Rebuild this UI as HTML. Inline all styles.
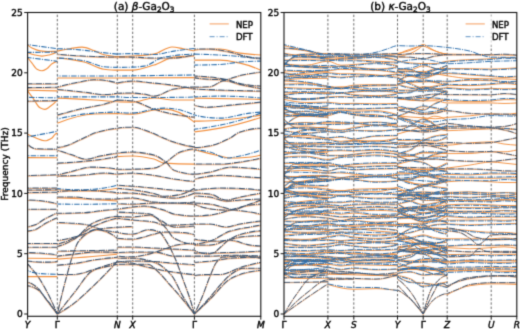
<!DOCTYPE html>
<html><head><meta charset="utf-8"><style>
html,body{margin:0;padding:0;background:#fff;}
svg{display:block;font-family:"DejaVu Sans","Liberation Sans",sans-serif;}
text{stroke:#000;stroke-width:0.4px;}
</style></head><body>
<svg width="520" height="329" viewBox="0 0 520 329">
<rect width="520" height="329" fill="#fff"/>
<defs><filter id="bl" x="0" y="0" width="520" height="329" filterUnits="userSpaceOnUse" color-interpolation-filters="sRGB"><feConvolveMatrix order="3" kernelMatrix="0.02250 0.10500 0.02250 0.10500 0.49000 0.10500 0.02250 0.10500 0.02250" divisor="1" edgeMode="duplicate"/></filter></defs>
<g filter="url(#bl)">
<rect width="520" height="329" fill="#fff"/>
<g>
<clipPath id="cleft"><rect x="27.6" y="12.5" width="233.20000000000002" height="303.8"/></clipPath>
<line x1="57.3" y1="12.5" x2="57.3" y2="316.3" stroke="#5a5a5a" stroke-width="0.9" stroke-dasharray="2.4,1.83" stroke-dashoffset="2.03"/>
<line x1="117.3" y1="12.5" x2="117.3" y2="316.3" stroke="#5a5a5a" stroke-width="0.9" stroke-dasharray="2.4,1.83" stroke-dashoffset="2.03"/>
<line x1="132.7" y1="12.5" x2="132.7" y2="316.3" stroke="#5a5a5a" stroke-width="0.9" stroke-dasharray="2.4,1.83" stroke-dashoffset="2.03"/>
<line x1="194.4" y1="12.5" x2="194.4" y2="316.3" stroke="#5a5a5a" stroke-width="0.9" stroke-dasharray="2.4,1.83" stroke-dashoffset="2.03"/>
<g clip-path="url(#cleft)"><path d="M27.60,44.82C29.07,46.11 30.53,47.36 32.00,48.08C34.67,49.38 37.33,50.52 40.00,50.85C42.67,51.18 45.33,51.45 48.00,51.45C51.10,51.45 54.20,51.40 57.30,51.09M27.60,52.42C29.73,53.35 31.87,54.19 34.00,54.71C36.67,55.36 39.33,56.16 42.00,56.16C44.67,56.16 47.33,55.36 50.00,54.71C52.43,54.12 54.87,53.15 57.30,52.06M27.60,57.48C29.07,59.43 30.53,61.32 32.00,63.15C33.67,65.23 35.33,68.35 37.00,69.18C38.67,70.01 40.33,70.75 42.00,70.75C43.67,70.75 45.33,69.58 47.00,68.58C48.67,67.58 50.33,64.79 52.00,63.75C53.77,62.66 55.53,61.68 57.30,61.34M27.60,90.29L57.30,90.89M27.60,90.89C29.40,93.27 31.20,95.68 33.00,98.13C35.33,101.29 37.67,106.62 40.00,107.77C41.67,108.60 43.33,109.34 45.00,109.34C46.67,109.34 48.33,107.69 50.00,106.57C52.43,104.93 54.87,102.71 57.30,100.06M27.60,134.31C30.40,135.65 33.20,136.88 36.00,137.92C38.93,139.02 41.87,140.82 44.80,140.82C47.20,140.82 49.60,139.43 52.00,137.92C53.17,137.19 54.33,134.69 55.50,133.94C56.10,133.56 56.70,133.25 57.30,133.10M27.60,157.58L57.30,157.82M27.60,258.28L57.30,258.52M27.60,276.61L57.30,276.61M57.30,51.09C61.53,50.16 65.77,49.33 70.00,48.68C74.00,48.06 78.00,47.11 82.00,47.11C86.00,47.11 90.00,49.13 94.00,50.49C97.33,51.62 100.67,54.01 104.00,54.71C108.43,55.64 112.87,56.52 117.30,56.52M57.30,58.09C66.20,58.27 75.10,60.07 84.00,61.95C90.67,63.35 97.33,68.41 104.00,69.18C108.43,69.69 112.87,70.15 117.30,70.15M57.30,77.99L117.30,77.99M57.30,98.13C69.53,98.62 81.77,99.30 94.00,100.06C101.77,100.53 109.53,101.12 117.30,101.74M57.30,123.21C69.53,118.48 81.77,114.59 94.00,114.05C101.77,113.70 109.53,113.44 117.30,113.44M57.30,189.78C69.53,190.99 81.77,190.99 94.00,190.99C101.77,190.99 109.53,189.60 117.30,188.21M57.30,197.62C66.20,197.94 75.10,198.36 84.00,198.83C95.10,199.42 106.20,200.15 117.30,201.00M57.30,259.13C66.53,258.49 75.77,257.81 85.00,257.08C95.77,256.22 106.53,255.30 117.30,254.30M117.30,56.52C122.43,56.49 127.57,56.27 132.70,56.04C139.80,55.71 146.90,55.17 154.00,54.11C160.00,53.21 166.00,46.99 172.00,46.99C175.67,46.99 179.33,48.03 183.00,48.68C186.80,49.36 190.60,50.18 194.40,51.09M117.30,70.15C122.43,70.15 127.57,70.15 132.70,70.15C139.80,70.15 146.90,67.20 154.00,65.08C160.67,63.09 167.33,57.75 174.00,57.12C180.80,56.48 187.60,56.04 194.40,56.04M117.30,77.99L194.40,77.62M117.30,101.74C122.43,102.11 127.57,102.11 132.70,102.11C139.80,102.11 146.90,98.01 154.00,98.01C160.67,98.01 167.33,100.06 174.00,100.06C180.80,100.06 187.60,100.06 194.40,100.06M117.30,113.44C122.43,114.17 127.57,114.17 132.70,114.17C139.80,114.17 146.90,110.94 154.00,110.07C157.33,109.65 160.67,109.10 164.00,109.10C174.13,109.10 184.27,113.78 194.40,122.13M117.30,156.62C122.43,156.03 127.57,156.01 132.70,156.01C139.80,156.01 146.90,157.44 154.00,159.03C157.33,159.77 160.67,162.90 164.00,163.13C174.13,163.83 184.27,164.09 194.40,164.09M194.40,50.13C202.93,49.04 211.47,49.04 220.00,49.04C226.67,49.04 233.33,52.29 240.00,53.14C246.93,54.03 253.87,54.83 260.80,55.07M194.40,60.14C202.93,60.14 211.47,60.14 220.00,60.14C226.67,60.14 233.33,61.77 240.00,63.15C246.93,64.59 253.87,67.16 260.80,70.15M194.40,98.13L260.80,99.33M194.40,121.16C202.93,121.12 211.47,120.67 220.00,120.20C233.60,119.44 247.20,117.54 260.80,115.13M194.40,131.89C202.93,131.03 211.47,129.72 220.00,128.16C233.60,125.66 247.20,121.98 260.80,117.42M194.40,149.62C202.93,152.03 211.47,154.12 220.00,156.01C223.33,156.75 226.67,158.06 230.00,158.06C240.27,158.06 250.53,158.06 260.80,155.05" fill="none" stroke="#f28f3e" stroke-width="1.1"/>
<path d="M27.60,84.25L57.30,84.25M27.60,88.23L57.30,87.87M27.60,101.62L57.30,101.14M27.60,144.55C28.73,145.80 29.87,146.97 31.00,147.57C32.67,148.45 34.33,149.31 36.00,149.38C43.10,149.66 50.20,149.74 57.30,149.74M27.60,176.15L57.30,175.31M27.60,188.57L57.30,188.57M27.60,190.62L57.30,190.38M27.60,193.16L57.30,192.79M27.60,200.51C33.40,200.51 39.20,201.18 45.00,201.84C49.10,202.31 53.20,203.31 57.30,204.37M27.60,209.80L57.30,209.80M27.60,227.16C30.07,226.94 32.53,226.20 35.00,225.36C38.33,224.22 41.67,221.14 45.00,219.33C49.10,217.10 53.20,215.05 57.30,213.30M27.60,231.63C30.07,231.57 32.53,230.89 35.00,230.18C38.33,229.22 41.67,225.92 45.00,224.15C49.10,221.97 53.20,219.99 57.30,218.36M27.60,244.05L57.30,244.05M27.60,247.79L57.30,247.79M27.60,253.21C31.73,253.26 35.87,253.47 40.00,253.70C45.77,254.02 51.53,254.68 57.30,255.51M27.60,261.54C33.40,262.34 39.20,262.74 45.00,262.74C49.10,262.74 53.20,262.54 57.30,262.14M27.60,264.55C28.90,265.87 30.20,267.27 31.50,268.77C33.43,271.00 35.37,273.19 37.30,276.01C43.97,285.73 50.63,298.21 57.30,314.60M27.60,282.64C30.83,283.06 34.07,285.48 37.30,288.07C39.87,290.12 42.43,294.91 45.00,298.32C49.10,303.76 53.20,309.19 57.30,314.60M27.60,286.26C30.83,286.35 34.07,288.09 37.30,289.88C41.07,291.96 44.83,297.85 48.60,302.54C51.50,306.15 54.40,310.24 57.30,314.60M57.30,54.71C69.53,55.85 81.77,56.75 94.00,57.12C101.77,57.35 109.53,57.58 117.30,57.60M57.30,87.63C64.87,85.56 72.43,83.82 80.00,82.44C84.67,81.60 89.33,80.27 94.00,80.27C101.77,80.27 109.53,81.07 117.30,83.65M57.30,90.04C66.20,90.82 75.10,91.72 84.00,92.70C90.67,93.43 97.33,95.11 104.00,95.11C108.43,95.11 112.87,94.68 117.30,93.90M57.30,115.61C66.20,113.02 75.10,110.72 84.00,108.74C90.67,107.25 97.33,106.39 104.00,104.76C108.43,103.67 112.87,102.22 117.30,100.66M57.30,148.17C60.20,147.82 63.10,147.15 66.00,146.36C70.67,145.09 75.33,142.35 80.00,140.33C86.00,137.74 92.00,134.07 98.00,132.49C104.43,130.80 110.87,129.26 117.30,128.88M57.30,150.58C62.20,152.24 67.10,153.85 72.00,155.41C76.67,156.90 81.33,159.75 86.00,159.75C90.67,159.75 95.33,157.53 100.00,156.61C105.77,155.48 111.53,154.45 117.30,153.60M57.30,163.73C66.87,163.37 76.43,162.59 86.00,161.68C96.43,160.69 106.87,159.09 117.30,157.22M57.30,175.55C63.20,173.97 69.10,172.49 75.00,171.09C80.00,169.90 85.00,167.71 90.00,167.71C99.10,167.71 108.20,167.71 117.30,169.88M57.30,176.51C64.87,176.51 72.43,176.22 80.00,175.91C88.00,175.58 96.00,173.62 104.00,173.62C108.43,173.62 112.87,174.06 117.30,174.70M57.30,192.19C66.20,191.32 75.10,190.98 84.00,190.98C95.10,190.98 106.20,191.87 117.30,193.40M57.30,197.62C62.87,197.62 68.43,197.62 74.00,197.62C80.67,197.62 87.33,199.67 94.00,199.67C101.77,199.67 109.53,199.67 117.30,199.67M57.30,213.90C66.20,213.90 75.10,213.65 84.00,213.30C90.67,213.03 97.33,211.57 104.00,210.88C108.43,210.43 112.87,210.03 117.30,209.68M57.30,223.19C66.20,223.19 75.10,223.85 84.00,224.75C90.67,225.43 97.33,229.51 104.00,230.78C108.43,231.63 112.87,232.35 117.30,232.71M57.30,247.06C62.87,245.69 68.43,242.99 74.00,239.83C80.67,236.05 87.33,225.62 94.00,222.94C101.77,219.83 109.53,216.91 117.30,216.91M57.30,244.65C62.87,243.40 68.43,241.31 74.00,238.86C80.67,235.93 87.33,229.48 94.00,226.56C101.77,223.16 109.53,220.17 117.30,218.72M57.30,241.03C64.87,240.16 72.43,238.30 80.00,236.21C85.33,234.74 90.67,230.18 96.00,230.18C103.10,230.18 110.20,232.79 117.30,238.86M57.30,251.65C66.20,251.54 75.10,251.42 84.00,251.28C95.10,251.11 106.20,250.91 117.30,250.68M57.30,256.71C63.00,255.98 68.70,255.29 74.40,254.66C81.17,253.92 87.93,252.61 94.70,252.61C102.23,252.61 109.77,252.61 117.30,253.09M57.30,314.60C58.87,307.67 60.43,301.04 62.00,294.70C63.40,289.04 64.80,283.58 66.20,278.42C68.33,270.56 70.47,262.20 72.60,256.11C74.50,250.68 76.40,244.85 78.30,242.24C81.63,237.65 84.97,234.99 88.30,233.19C90.87,231.82 93.43,230.67 96.00,230.18C103.10,228.82 110.20,228.17 117.30,227.77C122.43,227.48 127.57,227.21 132.70,227.16M57.30,314.60C63.33,306.84 69.37,299.21 75.40,291.69C80.77,285.00 86.13,275.18 91.50,271.91C95.97,269.18 100.43,267.89 104.90,266.36C109.03,264.95 113.17,263.71 117.30,262.74M57.30,314.60C63.00,311.56 68.70,307.79 74.40,303.50C81.17,298.42 87.93,291.69 94.70,285.17C102.23,277.92 109.77,270.10 117.30,261.78M57.30,275.04C63.00,275.04 68.70,275.04 74.40,275.04C81.17,275.04 87.93,271.47 94.70,269.86C102.23,268.06 109.77,266.36 117.30,264.79M57.30,265.76C63.20,265.37 69.10,264.71 75.00,263.95C81.67,263.08 88.33,261.24 95.00,260.33C102.43,259.32 109.87,258.44 117.30,257.92M117.30,57.60C122.43,57.60 127.57,57.66 132.70,57.72C139.80,57.81 146.90,58.69 154.00,58.69C159.33,58.69 164.67,58.69 170.00,58.69C178.13,58.69 186.27,57.28 194.40,55.67M117.30,83.65C122.43,82.47 127.57,81.60 132.70,81.60C139.80,81.60 146.90,82.97 154.00,83.65C157.33,83.97 160.67,84.23 164.00,84.62C174.13,85.79 184.27,87.41 194.40,89.56M117.30,93.90C122.43,93.66 127.57,93.66 132.70,93.66C136.47,93.66 140.23,94.18 144.00,94.63C147.33,95.02 150.67,96.56 154.00,96.56C160.67,96.56 167.33,90.55 174.00,89.56C180.80,88.55 187.60,87.63 194.40,87.63M117.30,100.66C122.43,100.66 127.57,101.09 132.70,101.62C139.80,102.36 146.90,107.55 154.00,109.70C160.67,111.72 167.33,113.55 174.00,114.77C180.80,116.00 187.60,117.08 194.40,117.66M117.30,128.88C122.43,127.79 127.57,127.79 132.70,127.79C138.47,127.79 144.23,130.63 150.00,132.61C154.67,134.22 159.33,136.85 164.00,138.77C167.33,140.13 170.67,141.61 174.00,142.62C180.80,144.70 187.60,146.58 194.40,147.57M117.30,153.60C122.43,152.84 127.57,152.63 132.70,152.63C139.80,152.63 146.90,153.93 154.00,155.65C158.00,156.62 162.00,159.63 166.00,162.64C168.67,164.65 171.33,169.76 174.00,170.72C180.80,173.19 187.60,174.70 194.40,174.70M117.30,169.88C122.43,169.88 127.57,169.83 132.70,169.76C139.80,169.67 146.90,169.38 154.00,168.67C158.00,168.27 162.00,164.99 166.00,162.64C170.67,159.90 175.33,154.15 180.00,152.63C184.80,151.08 189.60,149.62 194.40,149.62M117.30,174.70C122.43,174.03 127.57,173.74 132.70,173.74C139.80,173.74 146.90,174.98 154.00,175.91C160.67,176.78 167.33,178.57 174.00,179.53C180.80,180.50 187.60,181.35 194.40,181.94M117.30,185.80C122.43,186.06 127.57,186.39 132.70,186.76C139.80,187.28 146.90,188.01 154.00,188.69C160.67,189.34 167.33,190.31 174.00,190.74C180.80,191.18 187.60,191.58 194.40,191.71M117.30,188.81C122.43,189.19 127.57,189.74 132.70,190.38C139.80,191.27 146.90,192.46 154.00,194.00C157.33,194.72 160.67,196.77 164.00,196.77C174.13,196.77 184.27,195.53 194.40,188.69M117.30,193.40C122.43,193.40 127.57,193.50 132.70,193.64C139.80,193.83 146.90,195.70 154.00,196.53C160.67,197.31 167.33,198.58 174.00,198.58C180.80,198.58 187.60,196.47 194.40,193.64M117.30,199.67C122.43,198.75 127.57,198.58 132.70,198.58C139.80,198.58 146.90,201.97 154.00,202.56C160.67,203.12 167.33,203.65 174.00,203.65C180.80,203.65 187.60,203.29 194.40,202.56M117.30,204.25C122.43,204.52 127.57,204.61 132.70,204.61C139.80,204.61 146.90,203.65 154.00,203.65C160.67,203.65 167.33,203.65 174.00,203.65C180.80,203.65 187.60,204.13 194.40,204.61M117.30,209.68C122.43,208.85 127.57,208.16 132.70,207.63C136.47,207.24 140.23,206.66 144.00,206.66C150.67,206.66 157.33,208.81 164.00,210.64C167.33,211.56 170.67,214.07 174.00,214.62C180.80,215.74 187.60,216.55 194.40,216.55M117.30,216.91C122.43,217.48 127.57,217.52 132.70,217.52C138.47,217.52 144.23,215.59 150.00,215.59C153.33,215.59 156.67,218.88 160.00,220.53C164.67,222.85 169.33,227.53 174.00,227.53C180.80,227.53 187.60,227.53 194.40,226.56M117.30,218.72C122.43,219.37 127.57,219.99 132.70,220.53C139.80,221.29 146.90,221.48 154.00,222.58C157.33,223.10 160.67,225.60 164.00,225.60C174.13,225.60 184.27,225.60 194.40,224.51M117.30,212.69C122.43,212.82 127.57,213.04 132.70,213.30C138.47,213.58 144.23,213.75 150.00,214.50C155.33,215.20 160.67,222.99 166.00,228.61C168.67,231.43 171.33,237.22 174.00,238.62C180.80,242.20 187.60,244.65 194.40,244.65M117.30,232.71C122.43,234.43 127.57,234.64 132.70,234.64C137.80,234.64 142.90,230.18 148.00,230.18C151.63,230.18 155.27,230.93 158.90,232.11C161.63,233.00 164.37,238.61 167.10,242.96C169.83,247.32 172.57,253.12 175.30,259.37C178.03,265.61 180.77,273.70 183.50,281.19C185.77,287.41 188.03,293.26 190.30,300.37C191.67,304.66 193.03,309.52 194.40,314.60M117.30,238.86C122.43,239.59 127.57,239.59 132.70,239.59C139.80,239.59 146.90,236.18 154.00,234.64C157.33,233.92 160.67,232.59 164.00,232.59C174.13,232.59 184.27,232.59 194.40,235.00M117.30,247.67C122.43,247.67 127.57,247.67 132.70,247.67C139.80,247.67 146.90,248.29 154.00,248.63C167.47,249.27 180.93,249.95 194.40,250.68M117.30,253.09C122.43,252.87 127.57,252.61 132.70,252.61C140.07,252.61 147.43,252.61 154.80,252.61C161.53,252.61 168.27,256.71 175.00,256.71C181.47,256.71 187.93,256.71 194.40,256.71M117.30,256.71C122.43,257.32 127.57,257.32 132.70,257.32C136.67,257.32 140.63,256.28 144.60,255.51C151.40,254.18 158.20,251.71 165.00,249.48C168.33,248.38 171.67,246.46 175.00,245.86C181.47,244.69 187.93,243.69 194.40,243.69M117.30,258.76C122.43,258.76 127.57,258.76 132.70,258.76C140.07,258.76 147.43,260.60 154.80,262.86C160.20,264.52 165.60,269.27 171.00,275.16C175.10,279.64 179.20,290.65 183.30,297.47C187.00,303.64 190.70,309.37 194.40,314.60M117.30,264.79C122.43,264.85 127.57,264.91 132.70,264.91C137.80,264.91 142.90,264.91 148.00,264.91C151.63,264.91 155.27,269.75 158.90,272.99C162.57,276.26 166.23,281.18 169.90,285.29C173.53,289.38 177.17,293.29 180.80,297.60C185.33,302.96 189.87,308.63 194.40,314.60M117.30,262.74C122.43,262.12 127.57,261.54 132.70,261.54C140.07,261.54 147.43,261.83 154.80,262.14C161.53,262.42 168.27,263.45 175.00,263.95C181.47,264.42 187.93,264.84 194.40,265.15M117.30,261.78C122.43,262.18 127.57,263.01 132.70,263.95C136.67,264.68 140.63,266.05 144.60,266.96C151.40,268.53 158.20,270.06 165.00,271.18C174.80,272.81 184.60,274.25 194.40,275.16M194.40,49.64C199.60,49.64 204.80,49.64 210.00,49.64C216.67,49.64 223.33,51.40 230.00,52.66C236.67,53.92 243.33,56.88 250.00,57.72C253.60,58.18 257.20,58.57 260.80,58.69M194.40,76.66C204.27,76.66 214.13,78.06 224.00,79.55C230.00,80.46 236.00,83.71 242.00,84.62C248.27,85.56 254.53,86.47 260.80,86.55M194.40,78.22C204.27,80.15 214.13,80.15 224.00,80.15C230.00,80.15 236.00,76.75 242.00,75.57C248.27,74.34 254.53,73.26 260.80,72.56M194.40,87.63C199.60,87.63 204.80,87.50 210.00,87.27C214.67,87.06 219.33,81.24 224.00,81.24C230.00,81.24 236.00,84.19 242.00,85.46C248.27,86.79 254.53,88.01 260.80,89.08M194.40,89.56C202.93,89.98 211.47,90.38 220.00,90.65C233.60,91.07 247.20,91.45 260.80,91.61M194.40,105.72C198.27,106.73 202.13,107.77 206.00,107.77C214.00,107.77 222.00,106.45 230.00,105.72C240.27,104.79 250.53,103.78 260.80,102.71M194.40,148.17C199.60,148.17 204.80,147.27 210.00,146.36C216.67,145.20 223.33,141.77 230.00,138.52C233.33,136.90 236.67,133.48 240.00,132.49C246.93,130.44 253.87,128.76 260.80,128.76M194.40,164.69C202.93,164.69 211.47,164.69 220.00,164.69C226.67,164.69 233.33,163.53 240.00,162.64C246.93,161.72 253.87,160.30 260.80,158.66M194.40,174.70C199.60,174.28 204.80,173.54 210.00,172.65C216.67,171.52 223.33,167.71 230.00,167.71C236.67,167.71 243.33,168.22 250.00,168.67C253.60,168.92 257.20,169.33 260.80,169.76M194.40,179.53C202.93,177.53 211.47,175.91 220.00,175.91C230.00,175.91 240.00,177.14 250.00,177.72C253.60,177.93 257.20,178.13 260.80,178.32M194.40,190.74C202.93,189.63 211.47,188.69 220.00,188.69C233.60,188.69 247.20,188.97 260.80,190.74M194.40,193.64C199.60,193.64 204.80,194.05 210.00,194.60C215.33,195.17 220.67,200.63 226.00,200.63C230.67,200.63 235.33,198.57 240.00,197.62C246.93,196.21 253.87,194.87 260.80,193.64M194.40,196.53C199.60,196.53 204.80,197.05 210.00,197.62C215.33,198.20 220.67,201.60 226.00,201.60C230.67,201.60 235.33,200.91 240.00,200.63C246.93,200.22 253.87,199.84 260.80,199.55M194.40,203.65C199.60,203.65 204.80,204.11 210.00,204.61C216.67,205.26 223.33,208.45 230.00,209.68C236.67,210.91 243.33,211.46 250.00,212.57C253.60,213.17 257.20,213.88 260.80,214.62M194.40,204.61C206.27,210.20 218.13,210.64 230.00,210.64C236.67,210.64 243.33,206.85 250.00,204.61C253.60,203.41 257.20,202.04 260.80,200.63M194.40,216.55C199.60,216.55 204.80,216.09 210.00,215.59C216.67,214.94 223.33,212.31 230.00,210.64C236.67,208.97 243.33,206.42 250.00,205.58C253.60,205.12 257.20,204.73 260.80,204.61M194.40,224.51C199.60,224.51 204.80,224.51 210.00,224.51C215.33,224.51 220.67,227.53 226.00,227.53C230.67,227.53 235.33,225.31 240.00,224.51C246.93,223.32 253.87,222.27 260.80,221.62M194.40,244.65C199.60,244.35 204.80,243.06 210.00,241.64C216.67,239.81 223.33,233.57 230.00,231.63C236.67,229.69 243.33,228.79 250.00,227.53C253.60,226.84 257.20,226.21 260.80,225.60M194.40,239.59C202.93,241.61 211.47,241.64 220.00,241.64C226.67,241.64 233.33,238.35 240.00,237.66C246.93,236.94 253.87,236.23 260.80,236.21M194.40,245.62C199.60,245.62 204.80,245.62 210.00,245.62C216.67,245.62 223.33,240.67 230.00,240.67C236.67,240.67 243.33,244.70 250.00,245.62C253.60,246.11 257.20,246.53 260.80,246.70M194.40,250.68C199.60,254.09 204.80,254.30 210.00,254.30C216.67,254.30 223.33,243.26 230.00,239.59C233.33,237.75 236.67,235.89 240.00,235.00C246.93,233.16 253.87,231.39 260.80,231.39M194.40,314.60C197.00,309.39 199.60,303.60 202.20,297.35C204.90,290.87 207.60,282.38 210.30,276.01C212.33,271.21 214.37,265.34 216.40,262.86C218.43,260.38 220.47,257.91 222.50,257.68C228.60,256.97 234.70,256.71 240.80,256.71C247.47,256.71 254.13,257.54 260.80,258.76M194.40,314.60C199.70,309.21 205.00,303.40 210.30,297.35C213.70,293.48 217.10,288.86 220.50,285.17C223.90,281.49 227.30,277.34 230.70,275.04C234.77,272.30 238.83,268.89 242.90,268.89C248.87,268.89 254.83,268.89 260.80,268.89M194.40,314.60C199.70,309.62 205.00,304.56 210.30,299.40C217.10,292.79 223.90,282.82 230.70,279.14C236.10,276.23 241.50,274.13 246.90,272.99C251.53,272.02 256.17,271.13 260.80,270.94M194.40,276.01C199.70,275.49 205.00,275.04 210.30,275.04C213.70,275.04 217.10,275.04 220.50,275.04C227.27,275.04 234.03,269.92 240.80,267.93C247.47,265.97 254.13,264.23 260.80,262.86M194.40,262.86C199.70,262.69 205.00,262.26 210.30,261.78C217.10,261.15 223.90,259.17 230.70,258.76C240.73,258.16 250.77,257.68 260.80,257.68M194.40,256.71C199.70,256.71 205.00,256.71 210.30,256.71C217.10,256.71 223.90,255.75 230.70,255.75C240.73,255.75 250.77,255.92 260.80,256.71M194.40,253.70C206.27,253.69 218.13,253.39 230.00,253.09C240.27,252.84 250.53,252.27 260.80,251.65" fill="none" stroke="#f7b483" stroke-width="1.1"/>
<path d="M57.30,48.68C64.87,48.81 72.43,49.32 80.00,49.89C86.67,50.38 93.33,51.55 100.00,52.30C105.77,52.94 111.53,53.55 117.30,54.11M194.40,54.11C202.93,54.23 211.47,54.62 220.00,55.07C233.60,55.79 247.20,57.22 260.80,59.05" fill="none" stroke="#2a6dab" stroke-width="1.1" stroke-dasharray="5.5,1.3,1.1,1.3" stroke-dashoffset="0.00"/>
<path d="M27.60,52.42L57.30,52.06M27.60,57.48C32.40,58.07 37.20,58.67 42.00,59.29C47.10,59.95 52.20,60.64 57.30,61.34M57.30,188.58C64.87,189.43 72.43,189.78 80.00,189.78C84.67,189.78 89.33,189.48 94.00,189.18C101.77,188.67 109.53,187.15 117.30,185.20M57.30,204.01C66.20,204.20 75.10,204.25 84.00,204.25C95.10,204.25 106.20,204.02 117.30,203.65M117.30,54.11C122.43,53.79 127.57,53.62 132.70,53.62C139.80,53.62 146.90,54.47 154.00,54.47C160.67,54.47 167.33,52.07 174.00,51.09C180.80,50.09 187.60,49.19 194.40,48.44M194.40,65.08C202.93,65.08 211.47,64.82 220.00,64.48C226.67,64.21 233.33,62.51 240.00,62.07C246.93,61.60 253.87,61.16 260.80,61.10M194.40,96.92C202.93,96.37 211.47,96.08 220.00,96.08C233.60,96.08 247.20,96.69 260.80,98.01M194.40,129.12C202.93,128.23 211.47,126.78 220.00,125.14C226.67,123.86 233.33,122.11 240.00,120.20C246.93,118.21 253.87,115.79 260.80,113.08" fill="none" stroke="#2a6dab" stroke-width="1.1" stroke-dasharray="5.5,1.3,1.1,1.3" stroke-dashoffset="1.53"/>
<path d="M57.30,96.92L117.30,96.92M117.30,96.92C122.43,97.17 127.57,97.52 132.70,97.52C153.27,97.52 173.83,97.52 194.40,97.04M117.30,112.12C122.43,112.97 127.57,113.08 132.70,113.08C139.80,113.08 146.90,109.97 154.00,109.10C157.33,108.69 160.67,108.14 164.00,108.14C174.13,108.14 184.27,110.31 194.40,115.13M194.40,115.01C202.93,117.20 211.47,118.15 220.00,118.15C230.00,118.15 240.00,114.19 250.00,113.08C253.60,112.68 257.20,112.36 260.80,112.12M194.40,149.98C199.60,150.04 204.80,151.02 210.00,152.03C215.33,153.07 220.67,158.06 226.00,158.06C230.67,158.06 235.33,156.90 240.00,156.01C246.93,154.69 253.87,152.59 260.80,149.98" fill="none" stroke="#2a6dab" stroke-width="1.1" stroke-dasharray="5.5,1.3,1.1,1.3" stroke-dashoffset="3.07"/>
<path d="M27.60,44.58C32.40,45.28 37.20,45.97 42.00,46.63C47.10,47.33 52.20,48.02 57.30,48.68M27.60,270.58C29.40,271.31 31.20,271.98 33.00,272.39C35.33,272.93 37.67,273.45 40.00,273.60C45.77,273.97 51.53,274.20 57.30,274.20M57.30,76.06L117.30,76.06M57.30,119.11C69.53,116.18 81.77,113.86 94.00,113.08C101.77,112.59 109.53,112.12 117.30,112.12M117.30,67.37C122.43,67.37 127.57,67.27 132.70,67.13C136.47,67.03 140.23,66.68 144.00,66.17C150.67,65.27 157.33,58.26 164.00,57.12C174.13,55.40 184.27,54.11 194.40,54.11M117.30,76.06L194.40,74.97" fill="none" stroke="#2a6dab" stroke-width="1.1" stroke-dasharray="5.5,1.3,1.1,1.3" stroke-dashoffset="4.60"/>
<path d="M27.60,136.96L57.30,131.29M27.60,155.77L57.30,155.77" fill="none" stroke="#2a6dab" stroke-width="1.1" stroke-dasharray="5.5,1.3,1.1,1.3" stroke-dashoffset="6.13"/>
<path d="M27.60,97.40L57.30,97.88M57.30,58.09C66.20,58.09 75.10,59.38 84.00,60.74C90.67,61.76 97.33,66.27 104.00,66.77C108.43,67.10 112.87,67.37 117.30,67.37" fill="none" stroke="#2a6dab" stroke-width="1.1" stroke-dasharray="5.5,1.3,1.1,1.3" stroke-dashoffset="7.67"/>
<path d="M57.30,89.44C66.20,90.22 75.10,91.12 84.00,92.10C90.67,92.83 97.33,94.51 104.00,94.51C108.43,94.51 112.87,94.08 117.30,93.30M57.30,115.01C66.20,112.42 75.10,110.12 84.00,108.14C90.67,106.65 97.33,105.79 104.00,104.16C108.43,103.07 112.87,101.62 117.30,100.06M57.30,163.13C66.87,162.77 76.43,161.99 86.00,161.08C96.43,160.09 106.87,158.49 117.30,156.62M57.30,197.02C62.87,197.02 68.43,197.02 74.00,197.02C80.67,197.02 87.33,199.07 94.00,199.07C101.77,199.07 109.53,199.07 117.30,199.07M57.30,274.44C63.00,274.44 68.70,274.44 74.40,274.44C81.17,274.44 87.93,270.87 94.70,269.26C102.23,267.46 109.77,265.76 117.30,264.19M57.30,265.16C63.20,264.77 69.10,264.11 75.00,263.35C81.67,262.48 88.33,260.64 95.00,259.73C102.43,258.72 109.87,257.84 117.30,257.32M117.30,83.05C122.43,81.87 127.57,81.00 132.70,81.00C139.80,81.00 146.90,82.37 154.00,83.05C157.33,83.37 160.67,83.63 164.00,84.02C174.13,85.19 184.27,86.81 194.40,88.96M117.30,100.06C122.43,100.06 127.57,100.49 132.70,101.02C139.80,101.76 146.90,106.95 154.00,109.10C160.67,111.12 167.33,112.95 174.00,114.17C180.80,115.40 187.60,116.48 194.40,117.06M117.30,174.10C122.43,173.43 127.57,173.14 132.70,173.14C139.80,173.14 146.90,174.38 154.00,175.31C160.67,176.18 167.33,177.97 174.00,178.93C180.80,179.90 187.60,180.75 194.40,181.34M117.30,238.26C122.43,238.99 127.57,238.99 132.70,238.99C139.80,238.99 146.90,235.58 154.00,234.04C157.33,233.32 160.67,231.99 164.00,231.99C174.13,231.99 184.27,231.99 194.40,234.40M194.40,147.57C199.60,147.57 204.80,146.67 210.00,145.76C216.67,144.60 223.33,141.17 230.00,137.92C233.33,136.30 236.67,132.88 240.00,131.89C246.93,129.84 253.87,128.16 260.80,128.16M194.40,174.10C199.60,173.68 204.80,172.94 210.00,172.05C216.67,170.92 223.33,167.11 230.00,167.11C236.67,167.11 243.33,167.62 250.00,168.07C253.60,168.32 257.20,168.73 260.80,169.16M194.40,193.04C199.60,193.04 204.80,193.45 210.00,194.00C215.33,194.57 220.67,200.03 226.00,200.03C230.67,200.03 235.33,197.97 240.00,197.02C246.93,195.61 253.87,194.27 260.80,193.04M194.40,203.05C199.60,203.05 204.80,203.51 210.00,204.01C216.67,204.66 223.33,207.85 230.00,209.08C236.67,210.31 243.33,210.86 250.00,211.97C253.60,212.57 257.20,213.28 260.80,214.02M194.40,275.41C199.70,274.89 205.00,274.44 210.30,274.44C213.70,274.44 217.10,274.44 220.50,274.44C227.27,274.44 234.03,269.32 240.80,267.33C247.47,265.37 254.13,263.63 260.80,262.26M194.40,256.11C199.70,256.11 205.00,256.11 210.30,256.11C217.10,256.11 223.90,255.15 230.70,255.15C240.73,255.15 250.77,255.32 260.80,256.11" fill="none" stroke="#3a5573" stroke-width="1.05" stroke-dasharray="6.5,1,1,1" stroke-dashoffset="0.00"/>
<path d="M27.60,83.65L57.30,83.65M27.60,87.63L57.30,87.27M27.60,190.02L57.30,189.78M27.60,231.03C30.07,230.97 32.53,230.29 35.00,229.58C38.33,228.62 41.67,225.32 45.00,223.55C49.10,221.37 53.20,219.39 57.30,217.76M27.60,260.94C33.40,261.74 39.20,262.14 45.00,262.14C49.10,262.14 53.20,261.94 57.30,261.54M27.60,263.95C28.90,265.27 30.20,266.67 31.50,268.17C33.43,270.40 35.37,272.59 37.30,275.41C43.97,285.13 50.63,297.61 57.30,314.00M57.30,213.30C66.20,213.30 75.10,213.05 84.00,212.70C90.67,212.43 97.33,210.97 104.00,210.28C108.43,209.83 112.87,209.43 117.30,209.08M57.30,246.46C62.87,245.09 68.43,242.39 74.00,239.23C80.67,235.45 87.33,225.02 94.00,222.34C101.77,219.23 109.53,216.31 117.30,216.31M57.30,256.11C63.00,255.38 68.70,254.69 74.40,254.06C81.17,253.32 87.93,252.01 94.70,252.01C102.23,252.01 109.77,252.01 117.30,252.49M57.30,314.00C63.00,310.96 68.70,307.19 74.40,302.90C81.17,297.82 87.93,291.09 94.70,284.57C102.23,277.32 109.77,269.50 117.30,261.18M117.30,93.30C122.43,93.06 127.57,93.06 132.70,93.06C136.47,93.06 140.23,93.58 144.00,94.03C147.33,94.42 150.67,95.96 154.00,95.96C160.67,95.96 167.33,89.95 174.00,88.96C180.80,87.95 187.60,87.03 194.40,87.03M117.30,128.28C122.43,127.19 127.57,127.19 132.70,127.19C138.47,127.19 144.23,130.03 150.00,132.01C154.67,133.62 159.33,136.25 164.00,138.17C167.33,139.53 170.67,141.01 174.00,142.02C180.80,144.10 187.60,145.98 194.40,146.97M117.30,169.28C122.43,169.28 127.57,169.23 132.70,169.16C139.80,169.07 146.90,168.78 154.00,168.07C158.00,167.67 162.00,164.39 166.00,162.04C170.67,159.30 175.33,153.55 180.00,152.03C184.80,150.48 189.60,149.02 194.40,149.02M117.30,188.21C122.43,188.59 127.57,189.14 132.70,189.78C139.80,190.67 146.90,191.86 154.00,193.40C157.33,194.12 160.67,196.17 164.00,196.17C174.13,196.17 184.27,194.93 194.40,188.09M117.30,216.31C122.43,216.88 127.57,216.92 132.70,216.92C138.47,216.92 144.23,214.99 150.00,214.99C153.33,214.99 156.67,218.28 160.00,219.93C164.67,222.25 169.33,226.93 174.00,226.93C180.80,226.93 187.60,226.93 194.40,225.96M117.30,247.07C122.43,247.07 127.57,247.07 132.70,247.07C139.80,247.07 146.90,247.69 154.00,248.03C167.47,248.67 180.93,249.35 194.40,250.08M117.30,262.14C122.43,261.52 127.57,260.94 132.70,260.94C140.07,260.94 147.43,261.23 154.80,261.54C161.53,261.82 168.27,262.85 175.00,263.35C181.47,263.82 187.93,264.24 194.40,264.55M194.40,77.62C204.27,79.55 214.13,79.55 224.00,79.55C230.00,79.55 236.00,76.15 242.00,74.97C248.27,73.74 254.53,72.66 260.80,71.96M194.40,87.03C199.60,87.03 204.80,86.90 210.00,86.67C214.67,86.46 219.33,80.64 224.00,80.64C230.00,80.64 236.00,83.59 242.00,84.86C248.27,86.19 254.53,87.41 260.80,88.48M194.40,215.95C199.60,215.95 204.80,215.49 210.00,214.99C216.67,214.34 223.33,211.71 230.00,210.04C236.67,208.37 243.33,205.82 250.00,204.98C253.60,204.52 257.20,204.13 260.80,204.01M194.40,262.26C199.70,262.09 205.00,261.66 210.30,261.18C217.10,260.55 223.90,258.57 230.70,258.16C240.73,257.56 250.77,257.08 260.80,257.08" fill="none" stroke="#3a5573" stroke-width="1.05" stroke-dasharray="6.5,1,1,1" stroke-dashoffset="1.58"/>
<path d="M27.60,243.45L57.30,243.45M27.60,285.66C30.83,285.75 34.07,287.49 37.30,289.28C41.07,291.36 44.83,297.25 48.60,301.94C51.50,305.55 54.40,309.64 57.30,314.00M57.30,147.57C60.20,147.22 63.10,146.55 66.00,145.76C70.67,144.49 75.33,141.75 80.00,139.73C86.00,137.14 92.00,133.47 98.00,131.89C104.43,130.20 110.87,128.66 117.30,128.28M117.30,199.07C122.43,198.15 127.57,197.98 132.70,197.98C139.80,197.98 146.90,201.37 154.00,201.96C160.67,202.52 167.33,203.05 174.00,203.05C180.80,203.05 187.60,202.69 194.40,201.96M117.30,218.12C122.43,218.77 127.57,219.39 132.70,219.93C139.80,220.69 146.90,220.88 154.00,221.98C157.33,222.50 160.67,225.00 164.00,225.00C174.13,225.00 184.27,225.00 194.40,223.91M194.40,76.06C204.27,76.06 214.13,77.46 224.00,78.95C230.00,79.86 236.00,83.11 242.00,84.02C248.27,84.96 254.53,85.87 260.80,85.95M194.40,190.14C202.93,189.03 211.47,188.09 220.00,188.09C233.60,188.09 247.20,188.37 260.80,190.14M194.40,204.01C206.27,209.60 218.13,210.04 230.00,210.04C236.67,210.04 243.33,206.25 250.00,204.01C253.60,202.81 257.20,201.44 260.80,200.03M194.40,238.99C202.93,241.01 211.47,241.04 220.00,241.04C226.67,241.04 233.33,237.75 240.00,237.06C246.93,236.34 253.87,235.63 260.80,235.61M194.40,314.00C199.70,308.61 205.00,302.80 210.30,296.75C213.70,292.88 217.10,288.26 220.50,284.57C223.90,280.89 227.30,276.74 230.70,274.44C234.77,271.70 238.83,268.29 242.90,268.29C248.87,268.29 254.83,268.29 260.80,268.29M194.40,253.10C206.27,253.09 218.13,252.79 230.00,252.49C240.27,252.24 250.53,251.67 260.80,251.05" fill="none" stroke="#3a5573" stroke-width="1.05" stroke-dasharray="6.5,1,1,1" stroke-dashoffset="3.17"/>
<path d="M27.60,101.02L57.30,100.54M27.60,187.97L57.30,187.97M27.60,192.56L57.30,192.19M27.60,247.19L57.30,247.19M57.30,87.03C64.87,84.96 72.43,83.22 80.00,81.84C84.67,81.00 89.33,79.67 94.00,79.67C101.77,79.67 109.53,80.47 117.30,83.05M57.30,174.95C63.20,173.37 69.10,171.89 75.00,170.49C80.00,169.30 85.00,167.11 90.00,167.11C99.10,167.11 108.20,167.11 117.30,169.28M57.30,191.59C66.20,190.72 75.10,190.38 84.00,190.38C95.10,190.38 106.20,191.27 117.30,192.80M57.30,240.43C64.87,239.56 72.43,237.70 80.00,235.61C85.33,234.14 90.67,229.58 96.00,229.58C103.10,229.58 110.20,232.19 117.30,238.26M117.30,192.80C122.43,192.80 127.57,192.90 132.70,193.04C139.80,193.23 146.90,195.10 154.00,195.93C160.67,196.71 167.33,197.98 174.00,197.98C180.80,197.98 187.60,195.87 194.40,193.04M117.30,209.08C122.43,208.25 127.57,207.56 132.70,207.03C136.47,206.64 140.23,206.06 144.00,206.06C150.67,206.06 157.33,208.21 164.00,210.04C167.33,210.96 170.67,213.47 174.00,214.02C180.80,215.14 187.60,215.95 194.40,215.95M117.30,232.11C122.43,233.83 127.57,234.04 132.70,234.04C137.80,234.04 142.90,229.58 148.00,229.58C151.63,229.58 155.27,230.33 158.90,231.51C161.63,232.40 164.37,238.01 167.10,242.36C169.83,246.72 172.57,252.52 175.30,258.77C178.03,265.01 180.77,273.10 183.50,280.59C185.77,286.81 188.03,292.66 190.30,299.77C191.67,304.06 193.03,308.92 194.40,314.00M194.40,49.04C199.60,49.04 204.80,49.04 210.00,49.04C216.67,49.04 223.33,50.80 230.00,52.06C236.67,53.32 243.33,56.28 250.00,57.12C253.60,57.58 257.20,57.97 260.80,58.09M194.40,88.96C202.93,89.38 211.47,89.78 220.00,90.05C233.60,90.47 247.20,90.85 260.80,91.01M194.40,223.91C199.60,223.91 204.80,223.91 210.00,223.91C215.33,223.91 220.67,226.93 226.00,226.93C230.67,226.93 235.33,224.71 240.00,223.91C246.93,222.72 253.87,221.67 260.80,221.02M194.40,244.05C199.60,243.75 204.80,242.46 210.00,241.04C216.67,239.21 223.33,232.97 230.00,231.03C236.67,229.09 243.33,228.19 250.00,226.93C253.60,226.24 257.20,225.61 260.80,225.00M194.40,245.02C199.60,245.02 204.80,245.02 210.00,245.02C216.67,245.02 223.33,240.07 230.00,240.07C236.67,240.07 243.33,244.10 250.00,245.02C253.60,245.51 257.20,245.93 260.80,246.10M194.40,250.08C199.60,253.49 204.80,253.70 210.00,253.70C216.67,253.70 223.33,242.66 230.00,238.99C233.33,237.15 236.67,235.29 240.00,234.40C246.93,232.56 253.87,230.79 260.80,230.79M194.40,314.00C197.00,308.79 199.60,303.00 202.20,296.75C204.90,290.27 207.60,281.78 210.30,275.41C212.33,270.61 214.37,264.74 216.40,262.26C218.43,259.78 220.47,257.31 222.50,257.08C228.60,256.37 234.70,256.11 240.80,256.11C247.47,256.11 254.13,256.94 260.80,258.16" fill="none" stroke="#3a5573" stroke-width="1.05" stroke-dasharray="6.5,1,1,1" stroke-dashoffset="4.75"/>
<path d="M27.60,175.55L57.30,174.71M27.60,209.20L57.30,209.20M27.60,226.56C30.07,226.34 32.53,225.60 35.00,224.76C38.33,223.62 41.67,220.54 45.00,218.73C49.10,216.50 53.20,214.45 57.30,212.70M27.60,282.04C30.83,282.46 34.07,284.88 37.30,287.47C39.87,289.52 42.43,294.31 45.00,297.72C49.10,303.16 53.20,308.59 57.30,314.00M57.30,54.11C69.53,55.25 81.77,56.15 94.00,56.52C101.77,56.75 109.53,56.98 117.30,57.00M57.30,149.98C62.20,151.64 67.10,153.25 72.00,154.81C76.67,156.30 81.33,159.15 86.00,159.15C90.67,159.15 95.33,156.93 100.00,156.01C105.77,154.88 111.53,153.85 117.30,153.00M57.30,175.91C64.87,175.91 72.43,175.62 80.00,175.31C88.00,174.98 96.00,173.02 104.00,173.02C108.43,173.02 112.87,173.46 117.30,174.10M57.30,251.05C66.20,250.94 75.10,250.82 84.00,250.69C95.10,250.51 106.20,250.31 117.30,250.08M57.30,314.00C58.87,307.07 60.43,300.44 62.00,294.10C63.40,288.44 64.80,282.98 66.20,277.82C68.33,269.96 70.47,261.60 72.60,255.51C74.50,250.08 76.40,244.25 78.30,241.64C81.63,237.05 84.97,234.39 88.30,232.59C90.87,231.22 93.43,230.07 96.00,229.58C103.10,228.22 110.20,227.57 117.30,227.17C122.43,226.88 127.57,226.61 132.70,226.56M117.30,153.00C122.43,152.24 127.57,152.03 132.70,152.03C139.80,152.03 146.90,153.33 154.00,155.05C158.00,156.02 162.00,159.03 166.00,162.04C168.67,164.05 171.33,169.16 174.00,170.12C180.80,172.59 187.60,174.10 194.40,174.10M117.30,203.65C122.43,203.92 127.57,204.01 132.70,204.01C139.80,204.01 146.90,203.05 154.00,203.05C160.67,203.05 167.33,203.05 174.00,203.05C180.80,203.05 187.60,203.53 194.40,204.01M117.30,258.16C122.43,258.16 127.57,258.16 132.70,258.16C140.07,258.16 147.43,260.00 154.80,262.26C160.20,263.92 165.60,268.67 171.00,274.56C175.10,279.04 179.20,290.05 183.30,296.87C187.00,303.04 190.70,308.77 194.40,314.00M117.30,261.18C122.43,261.58 127.57,262.41 132.70,263.35C136.67,264.08 140.63,265.45 144.60,266.36C151.40,267.93 158.20,269.46 165.00,270.58C174.80,272.21 184.60,273.65 194.40,274.56M194.40,105.12C198.27,106.13 202.13,107.17 206.00,107.17C214.00,107.17 222.00,105.85 230.00,105.12C240.27,104.19 250.53,103.18 260.80,102.11M194.40,178.93C202.93,176.93 211.47,175.31 220.00,175.31C230.00,175.31 240.00,176.54 250.00,177.12C253.60,177.33 257.20,177.53 260.80,177.72M194.40,195.93C199.60,195.93 204.80,196.45 210.00,197.02C215.33,197.60 220.67,201.00 226.00,201.00C230.67,201.00 235.33,200.31 240.00,200.03C246.93,199.62 253.87,199.24 260.80,198.95M194.40,314.00C199.70,309.02 205.00,303.96 210.30,298.80C217.10,292.19 223.90,282.22 230.70,278.54C236.10,275.63 241.50,273.53 246.90,272.39C251.53,271.42 256.17,270.53 260.80,270.34" fill="none" stroke="#3a5573" stroke-width="1.05" stroke-dasharray="6.5,1,1,1" stroke-dashoffset="6.33"/>
<path d="M27.60,143.95C28.73,145.20 29.87,146.37 31.00,146.97C32.67,147.85 34.33,148.71 36.00,148.78C43.10,149.06 50.20,149.14 57.30,149.14M27.60,199.91C33.40,199.91 39.20,200.58 45.00,201.24C49.10,201.71 53.20,202.71 57.30,203.77M27.60,252.61C31.73,252.66 35.87,252.87 40.00,253.10C45.77,253.42 51.53,254.08 57.30,254.91M57.30,222.59C66.20,222.59 75.10,223.25 84.00,224.15C90.67,224.83 97.33,228.91 104.00,230.18C108.43,231.03 112.87,231.75 117.30,232.11M57.30,244.05C62.87,242.80 68.43,240.71 74.00,238.26C80.67,235.33 87.33,228.88 94.00,225.96C101.77,222.56 109.53,219.57 117.30,218.12M57.30,314.00C63.33,306.24 69.37,298.61 75.40,291.09C80.77,284.40 86.13,274.58 91.50,271.31C95.97,268.58 100.43,267.29 104.90,265.76C109.03,264.35 113.17,263.11 117.30,262.14M117.30,57.00C122.43,57.00 127.57,57.06 132.70,57.12C139.80,57.21 146.90,58.09 154.00,58.09C159.33,58.09 164.67,58.09 170.00,58.09C178.13,58.09 186.27,56.68 194.40,55.07M117.30,185.20C122.43,185.46 127.57,185.79 132.70,186.16C139.80,186.68 146.90,187.41 154.00,188.09C160.67,188.74 167.33,189.71 174.00,190.14C180.80,190.58 187.60,190.98 194.40,191.11M117.30,212.09C122.43,212.22 127.57,212.44 132.70,212.70C138.47,212.98 144.23,213.15 150.00,213.90C155.33,214.60 160.67,222.39 166.00,228.01C168.67,230.83 171.33,236.62 174.00,238.02C180.80,241.60 187.60,244.05 194.40,244.05M117.30,252.49C122.43,252.27 127.57,252.01 132.70,252.01C140.07,252.01 147.43,252.01 154.80,252.01C161.53,252.01 168.27,256.11 175.00,256.11C181.47,256.11 187.93,256.11 194.40,256.11M117.30,256.11C122.43,256.72 127.57,256.72 132.70,256.72C136.67,256.72 140.63,255.68 144.60,254.91C151.40,253.58 158.20,251.11 165.00,248.88C168.33,247.78 171.67,245.86 175.00,245.26C181.47,244.09 187.93,243.09 194.40,243.09M117.30,264.19C122.43,264.25 127.57,264.31 132.70,264.31C137.80,264.31 142.90,264.31 148.00,264.31C151.63,264.31 155.27,269.15 158.90,272.39C162.57,275.66 166.23,280.58 169.90,284.69C173.53,288.78 177.17,292.69 180.80,297.00C185.33,302.36 189.87,308.03 194.40,314.00M194.40,164.09C202.93,164.09 211.47,164.09 220.00,164.09C226.67,164.09 233.33,162.93 240.00,162.04C246.93,161.12 253.87,159.70 260.80,158.06" fill="none" stroke="#3a5573" stroke-width="1.05" stroke-dasharray="6.5,1,1,1" stroke-dashoffset="7.92"/></g>
<rect x="27.6" y="12.5" width="233.20000000000002" height="303.8" fill="none" stroke="#111" stroke-width="1.1"/>
<line x1="24.200000000000003" y1="314.0" x2="27.6" y2="314.0" stroke="#111" stroke-width="1.0"/>
<text x="22.8" y="317.3" text-anchor="end" font-size="9.0" fill="#000">0</text>
<line x1="24.200000000000003" y1="253.7" x2="27.6" y2="253.7" stroke="#111" stroke-width="1.0"/>
<text x="22.8" y="257.0" text-anchor="end" font-size="9.0" fill="#000">5</text>
<line x1="24.200000000000003" y1="193.4" x2="27.6" y2="193.4" stroke="#111" stroke-width="1.0"/>
<text x="22.8" y="196.70000000000002" text-anchor="end" font-size="9.0" fill="#000">10</text>
<line x1="24.200000000000003" y1="133.1" x2="27.6" y2="133.1" stroke="#111" stroke-width="1.0"/>
<text x="22.8" y="136.4" text-anchor="end" font-size="9.0" fill="#000">15</text>
<line x1="24.200000000000003" y1="72.80000000000001" x2="27.6" y2="72.80000000000001" stroke="#111" stroke-width="1.0"/>
<text x="22.8" y="76.10000000000001" text-anchor="end" font-size="9.0" fill="#000">20</text>
<line x1="24.200000000000003" y1="12.5" x2="27.6" y2="12.5" stroke="#111" stroke-width="1.0"/>
<text x="22.8" y="15.8" text-anchor="end" font-size="9.0" fill="#000">25</text>
<line x1="27.6" y1="316.3" x2="27.6" y2="319.7" stroke="#111" stroke-width="1.0"/>
<text x="27.6" y="327.6" text-anchor="middle" font-size="9.0" font-style="italic" fill="#000">Y</text>
<line x1="57.3" y1="316.3" x2="57.3" y2="319.7" stroke="#111" stroke-width="1.0"/>
<text x="57.3" y="327.6" text-anchor="middle" font-size="9.0"  fill="#000">Γ</text>
<line x1="117.3" y1="316.3" x2="117.3" y2="319.7" stroke="#111" stroke-width="1.0"/>
<text x="117.3" y="327.6" text-anchor="middle" font-size="9.0" font-style="italic" fill="#000">N</text>
<line x1="132.7" y1="316.3" x2="132.7" y2="319.7" stroke="#111" stroke-width="1.0"/>
<text x="132.7" y="327.6" text-anchor="middle" font-size="9.0" font-style="italic" fill="#000">X</text>
<line x1="194.4" y1="316.3" x2="194.4" y2="319.7" stroke="#111" stroke-width="1.0"/>
<text x="194.4" y="327.6" text-anchor="middle" font-size="9.0"  fill="#000">Γ</text>
<line x1="260.8" y1="316.3" x2="260.8" y2="319.7" stroke="#111" stroke-width="1.0"/>
<text x="260.8" y="327.6" text-anchor="middle" font-size="9.0" font-style="italic" fill="#000">M</text>
<text x="144.20000000000002" y="9.5" text-anchor="middle" font-size="10.5" fill="#000">(a) <tspan font-style="italic">β</tspan>-Ga<tspan font-size="7.35" dy="2.2">2</tspan><tspan dy="-2.2">O</tspan><tspan font-size="7.35" dy="2.2">3</tspan></text>
<rect x="204.8" y="15.5" width="53" height="30" rx="2" fill="#fff" fill-opacity="0.7"/>
<line x1="209.60000000000002" y1="23.9" x2="228.8" y2="23.9" stroke="#f6ad78" stroke-width="1.2"/>
<line x1="209.60000000000002" y1="36.7" x2="228.8" y2="36.7" stroke="#5f93c4" stroke-width="1.0" stroke-dasharray="5,2,1,2"/>
<text x="235.9" y="28.2" font-size="8.6" fill="#000">NEP</text>
<text x="235.9" y="40.0" font-size="8.6" fill="#000">DFT</text>
</g>
<g>
<clipPath id="cright"><rect x="284.0" y="12.5" width="232.79999999999995" height="303.8"/></clipPath>
<line x1="327.9" y1="12.5" x2="327.9" y2="316.3" stroke="#5a5a5a" stroke-width="0.9" stroke-dasharray="2.4,1.83" stroke-dashoffset="2.03"/>
<line x1="353.8" y1="12.5" x2="353.8" y2="316.3" stroke="#5a5a5a" stroke-width="0.9" stroke-dasharray="2.4,1.83" stroke-dashoffset="2.03"/>
<line x1="397.5" y1="12.5" x2="397.5" y2="316.3" stroke="#5a5a5a" stroke-width="0.9" stroke-dasharray="2.4,1.83" stroke-dashoffset="2.03"/>
<line x1="423.2" y1="12.5" x2="423.2" y2="316.3" stroke="#5a5a5a" stroke-width="0.9" stroke-dasharray="2.4,1.83" stroke-dashoffset="2.03"/>
<line x1="447.2" y1="12.5" x2="447.2" y2="316.3" stroke="#5a5a5a" stroke-width="0.9" stroke-dasharray="2.4,1.83" stroke-dashoffset="2.03"/>
<line x1="491.2" y1="12.5" x2="491.2" y2="316.3" stroke="#5a5a5a" stroke-width="0.9" stroke-dasharray="2.4,1.83" stroke-dashoffset="2.03"/>
<g clip-path="url(#cright)"><path d="M284.00,48.70C291.32,48.70 298.63,49.78 305.95,50.90C313.27,52.02 320.58,57.99 327.90,57.99C332.22,57.99 336.53,57.74 340.85,57.74C345.17,57.74 349.48,57.99 353.80,57.99C361.08,57.99 368.37,56.75 375.65,56.75C382.93,56.75 390.22,56.75 397.50,56.78M284.00,53.22C291.32,54.56 298.63,55.77 305.95,56.09C313.27,56.42 320.58,56.68 327.90,56.68C332.22,56.68 336.53,55.77 340.85,55.77C345.17,55.77 349.48,56.68 353.80,56.68C361.08,56.68 368.37,54.37 375.65,54.37C382.93,54.37 390.22,55.14 397.50,56.68M284.00,55.25C291.32,55.07 298.63,55.07 305.95,55.07C313.27,55.07 320.58,57.88 327.90,58.71C332.22,59.20 336.53,59.88 340.85,59.88C345.17,59.88 349.48,59.87 353.80,59.87C361.08,59.87 368.37,60.84 375.65,61.21C382.93,61.58 390.22,61.92 397.50,62.17M284.00,60.05C291.32,59.85 298.63,59.76 305.95,59.76C313.27,59.76 320.58,60.05 327.90,60.05C332.22,60.05 336.53,58.60 340.85,58.31C345.17,58.02 349.48,57.93 353.80,57.74C361.08,57.41 368.37,56.77 375.65,56.77C382.93,56.77 390.22,58.24 397.50,60.05M284.00,63.41C291.32,65.00 298.63,65.25 305.95,65.25C313.27,65.25 320.58,61.21 327.90,61.21C332.22,61.21 336.53,65.22 340.85,65.22C345.17,65.22 349.48,64.82 353.80,64.56C361.08,64.12 368.37,62.83 375.65,62.83C382.93,62.83 390.22,63.99 397.50,65.72M284.00,65.79C291.32,65.79 298.63,65.79 305.95,65.80C313.27,65.82 320.58,66.94 327.90,66.94C332.22,66.94 336.53,66.30 340.85,66.30C345.17,66.30 349.48,66.66 353.80,66.94C361.08,67.40 368.37,69.06 375.65,69.06C382.93,69.06 390.22,68.35 397.50,66.94M284.00,70.86C291.32,71.34 298.63,71.57 305.95,71.57C313.27,71.57 320.58,71.26 327.90,70.86C332.22,70.63 336.53,69.29 340.85,69.29C345.17,69.29 349.48,69.58 353.80,69.71C361.08,69.92 368.37,69.97 375.65,70.29C382.93,70.61 390.22,71.83 397.50,73.17M284.00,72.60C291.32,74.14 298.63,74.91 305.95,74.91C313.27,74.91 320.58,72.60 327.90,72.60C332.22,72.60 336.53,73.81 340.85,73.81C345.17,73.81 349.48,73.76 353.80,73.76C361.08,73.76 368.37,74.37 375.65,74.87C382.93,75.37 390.22,76.23 397.50,77.22M284.00,76.31C291.32,76.75 298.63,76.97 305.95,76.97C313.27,76.97 320.58,76.31 327.90,76.31C332.22,76.31 336.53,77.21 340.85,77.21C345.17,77.21 349.48,76.47 353.80,76.31C361.08,76.04 368.37,76.06 375.65,75.79C382.93,75.52 390.22,74.81 397.50,74.00M284.00,81.01C291.32,81.10 298.63,81.82 305.95,82.58C313.27,83.34 320.58,85.44 327.90,86.78C332.22,87.57 336.53,89.06 340.85,89.06C345.17,89.06 349.48,87.09 353.80,86.78C361.08,86.26 368.37,86.00 375.65,85.87C382.93,85.74 390.22,85.63 397.50,85.63M284.00,84.09C291.32,83.78 298.63,83.78 305.95,83.78C313.27,83.78 320.58,85.69 327.90,86.37C332.22,86.77 336.53,87.38 340.85,87.38C345.17,87.38 349.48,85.36 353.80,85.16C361.08,84.83 368.37,84.63 375.65,84.63C382.93,84.63 390.22,84.81 397.50,85.16M284.00,87.48C291.32,87.87 298.63,88.21 305.95,88.35C313.27,88.49 320.58,88.63 327.90,88.63C332.22,88.63 336.53,86.92 340.85,86.92C345.17,86.92 349.48,88.21 353.80,88.63C361.08,89.33 368.37,90.23 375.65,90.23C382.93,90.23 390.22,89.69 397.50,88.63M284.00,92.74C291.32,92.52 298.63,92.41 305.95,92.41C313.27,92.41 320.58,92.55 327.90,92.74C332.22,92.84 336.53,93.50 340.85,93.50C345.17,93.50 349.48,92.34 353.80,92.04C361.08,91.54 368.37,91.01 375.65,91.01C382.93,91.01 390.22,91.70 397.50,92.74M284.00,94.74C291.32,93.56 298.63,92.68 305.95,92.68C313.27,92.68 320.58,93.59 327.90,93.59C332.22,93.59 336.53,92.53 340.85,92.53C345.17,92.53 349.48,94.43 353.80,94.74C361.08,95.27 368.37,95.69 375.65,95.69C382.93,95.69 390.22,94.80 397.50,93.59M284.00,97.09C291.32,98.42 298.63,99.09 305.95,99.09C313.27,99.09 320.58,97.51 327.90,97.09C332.22,96.84 336.53,96.51 340.85,96.51C345.17,96.51 349.48,97.09 353.80,97.09C361.08,97.09 368.37,96.66 375.65,96.66C382.93,96.66 390.22,96.80 397.50,97.09M284.00,99.33C291.32,100.95 298.63,102.49 305.95,102.49C313.27,102.49 320.58,102.23 327.90,102.23C332.22,102.23 336.53,103.55 340.85,103.55C345.17,103.55 349.48,103.39 353.80,103.39C361.08,103.39 368.37,103.79 375.65,103.79C382.93,103.79 390.22,103.66 397.50,103.39M284.00,105.77C291.32,105.77 298.63,105.82 305.95,105.90C313.27,105.98 320.58,109.24 327.90,109.24C332.22,109.24 336.53,108.64 340.85,108.64C345.17,108.64 349.48,109.24 353.80,109.24C361.08,109.24 368.37,108.80 375.65,108.61C382.93,108.42 390.22,108.24 397.50,108.08M284.00,106.58C291.32,106.58 298.63,107.11 305.95,107.67C313.27,108.22 320.58,111.20 327.90,111.20C332.22,111.20 336.53,110.00 340.85,110.00C345.17,110.00 349.48,111.20 353.80,111.20C361.08,111.20 368.37,110.69 375.65,110.69C382.93,110.69 390.22,112.59 397.50,114.66M284.00,112.71C291.32,111.75 298.63,111.56 305.95,111.56C313.27,111.56 320.58,113.86 327.90,113.86C332.22,113.86 336.53,112.17 340.85,112.17C345.17,112.17 349.48,114.47 353.80,115.02C361.08,115.94 368.37,116.85 375.65,116.85C382.93,116.85 390.22,116.24 397.50,115.02M284.00,116.08C291.32,114.82 298.63,114.05 305.95,114.05C313.27,114.05 320.58,115.55 327.90,115.55C332.22,115.55 336.53,112.29 340.85,112.29C345.17,112.29 349.48,113.50 353.80,113.79C361.08,114.27 368.37,114.21 375.65,114.74C382.93,115.27 390.22,117.30 397.50,119.54M284.00,123.34C291.32,124.70 298.63,125.08 305.95,125.08C313.27,125.08 320.58,122.19 327.90,122.19C332.22,122.19 336.53,122.42 340.85,122.59C345.17,122.76 349.48,123.03 353.80,123.34C361.08,123.87 368.37,125.50 375.65,125.50C382.93,125.50 390.22,124.78 397.50,123.34M284.00,124.45C291.32,123.21 298.63,122.48 305.95,122.48C313.27,122.48 320.58,123.99 327.90,123.99C332.22,123.99 336.53,123.86 340.85,123.76C345.17,123.65 349.48,123.49 353.80,123.30C361.08,122.99 368.37,122.03 375.65,122.03C382.93,122.03 390.22,123.34 397.50,125.08M284.00,128.73C291.32,127.47 298.63,126.85 305.95,126.85C313.27,126.85 320.58,128.07 327.90,128.73C332.22,129.11 336.53,129.94 340.85,129.94C345.17,129.94 349.48,128.21 353.80,127.57C361.08,126.50 368.37,124.96 375.65,124.96C382.93,124.96 390.22,125.26 397.50,126.42M284.00,130.37C291.32,132.01 298.63,133.12 305.95,133.12C313.27,133.12 320.58,131.52 327.90,131.52C332.22,131.52 336.53,132.05 340.85,132.05C345.17,132.05 349.48,130.37 353.80,130.37C361.08,130.37 368.37,130.91 375.65,130.91C382.93,130.91 390.22,130.15 397.50,129.21M284.00,137.80C291.32,136.17 298.63,135.45 305.95,135.45C313.27,135.45 320.58,138.17 327.90,138.17C332.22,138.17 336.53,137.02 340.85,137.02C345.17,137.02 349.48,139.32 353.80,139.32C361.08,139.32 368.37,136.50 375.65,136.26C382.93,136.02 390.22,135.85 397.50,135.85M284.00,135.63C291.32,136.24 298.63,136.84 305.95,137.41C313.27,137.99 320.58,138.29 327.90,139.10C332.22,139.57 336.53,141.33 340.85,141.33C345.17,141.33 349.48,140.25 353.80,140.25C361.08,140.25 368.37,141.16 375.65,141.16C382.93,141.16 390.22,139.70 397.50,137.94M284.00,142.78C291.32,143.23 298.63,143.45 305.95,143.45C313.27,143.45 320.58,142.77 327.90,142.77C332.22,142.77 336.53,144.10 340.85,144.10C345.17,144.10 349.48,140.95 353.80,140.95C361.08,140.95 368.37,144.12 375.65,144.12C382.93,144.12 390.22,143.98 397.50,142.78M284.00,143.72C291.32,144.13 298.63,144.33 305.95,144.33C313.27,144.33 320.58,143.96 327.90,143.72C332.22,143.58 336.53,143.20 340.85,143.20C345.17,143.20 349.48,143.46 353.80,143.46C361.08,143.46 368.37,140.81 375.65,140.81C382.93,140.81 390.22,141.69 397.50,143.46M284.00,147.70C291.32,146.86 298.63,146.15 305.95,146.15C313.27,146.15 320.58,146.38 327.90,146.55C332.22,146.65 336.53,146.93 340.85,146.93C345.17,146.93 349.48,146.64 353.80,146.55C361.08,146.39 368.37,146.19 375.65,146.19C382.93,146.19 390.22,146.89 397.50,147.70M284.00,152.26C291.32,152.80 298.63,152.80 305.95,152.80C313.27,152.80 320.58,151.44 327.90,151.11C332.22,150.92 336.53,150.68 340.85,150.68C345.17,150.68 349.48,151.11 353.80,151.11C361.08,151.11 368.37,150.22 375.65,150.22C382.93,150.22 390.22,151.10 397.50,152.26M284.00,154.15C291.32,152.94 298.63,152.62 305.95,152.62C313.27,152.62 320.58,155.27 327.90,155.31C332.22,155.32 336.53,155.34 340.85,155.34C345.17,155.34 349.48,154.54 353.80,154.15C361.08,153.50 368.37,152.23 375.65,152.23C382.93,152.23 390.22,152.87 397.50,154.15M284.00,157.15C291.32,156.19 298.63,156.19 305.95,156.19C313.27,156.19 320.58,159.46 327.90,159.46C332.22,159.46 336.53,156.95 340.85,156.61C345.17,156.28 349.48,156.21 353.80,156.00C361.08,155.64 368.37,154.89 375.65,154.89C382.93,154.89 390.22,155.83 397.50,157.15M284.00,163.45C291.32,163.25 298.63,163.15 305.95,163.15C313.27,163.15 320.58,163.25 327.90,163.45C332.22,163.58 336.53,165.95 340.85,165.95C345.17,165.95 349.48,164.89 353.80,164.61C361.08,164.13 368.37,163.70 375.65,163.61C382.93,163.52 390.22,163.45 397.50,163.45M284.00,167.14C291.32,167.03 298.63,166.83 305.95,166.60C313.27,166.37 320.58,165.65 327.90,165.65C332.22,165.65 336.53,165.91 340.85,166.09C345.17,166.27 349.48,166.80 353.80,166.80C361.08,166.80 368.37,166.05 375.65,165.91C382.93,165.77 390.22,165.64 397.50,165.64M284.00,168.86C291.32,168.39 298.63,168.39 305.95,168.39C313.27,168.39 320.58,171.16 327.90,171.16C332.22,171.16 336.53,168.40 340.85,168.40C345.17,168.40 349.48,170.01 353.80,170.01C361.08,170.01 368.37,169.16 375.65,169.05C382.93,168.94 390.22,168.86 397.50,168.86M284.00,171.91C291.32,170.76 298.63,170.47 305.95,170.47C313.27,170.47 320.58,173.07 327.90,173.07C332.22,173.07 336.53,172.93 340.85,172.93C345.17,172.93 349.48,173.80 353.80,174.20C361.08,174.88 368.37,176.13 375.65,176.13C382.93,176.13 390.22,175.50 397.50,174.23M284.00,175.97C291.32,176.79 298.63,177.21 305.95,177.21C313.27,177.21 320.58,175.97 327.90,175.97C332.22,175.97 336.53,177.51 340.85,177.51C345.17,177.51 349.48,175.97 353.80,175.97C361.08,175.97 368.37,176.59 375.65,176.59C382.93,176.59 390.22,175.81 397.50,174.81M284.00,178.06C291.32,176.85 298.63,176.52 305.95,176.52C313.27,176.52 320.58,179.22 327.90,179.22C332.22,179.22 336.53,178.52 340.85,178.37C345.17,178.22 349.48,178.22 353.80,178.06C361.08,177.80 368.37,175.81 375.65,175.81C382.93,175.81 390.22,176.56 397.50,178.06M284.00,181.82C291.32,181.82 298.63,181.75 305.95,181.66C313.27,181.57 320.58,181.18 327.90,180.66C332.22,180.35 336.53,178.89 340.85,178.89C345.17,178.89 349.48,179.24 353.80,179.51C361.08,179.97 368.37,181.72 375.65,181.72C382.93,181.72 390.22,181.56 397.50,180.66M284.00,188.10C291.32,187.04 298.63,186.81 305.95,186.81C313.27,186.81 320.58,188.38 327.90,189.25C332.22,189.76 336.53,190.88 340.85,190.88C345.17,190.88 349.48,189.45 353.80,189.25C361.08,188.92 368.37,188.88 375.65,188.68C382.93,188.49 390.22,188.30 397.50,188.10M284.00,191.70C291.32,191.88 298.63,191.97 305.95,191.97C313.27,191.97 320.58,191.87 327.90,191.70C332.22,191.60 336.53,190.64 340.85,190.64C345.17,190.64 349.48,191.67 353.80,191.67C361.08,191.68 368.37,191.68 375.65,191.68C382.93,191.68 390.22,189.49 397.50,187.29M284.00,195.29C291.32,193.64 298.63,192.53 305.95,192.53C313.27,192.53 320.58,193.59 327.90,194.14C332.22,194.46 336.53,195.12 340.85,195.12C345.17,195.12 349.48,194.39 353.80,194.14C361.08,193.72 368.37,193.15 375.65,193.15C382.93,193.15 390.22,193.48 397.50,194.14M284.00,197.70C291.32,196.14 298.63,195.37 305.95,195.37C313.27,195.37 320.58,197.70 327.90,197.70C332.22,197.70 336.53,195.24 340.85,195.24C345.17,195.24 349.48,196.19 353.80,196.54C361.08,197.15 368.37,198.05 375.65,198.05C382.93,198.05 390.22,198.05 397.50,197.70M284.00,201.49C291.32,202.73 298.63,203.65 305.95,203.65C313.27,203.65 320.58,202.64 327.90,202.64C332.22,202.64 336.53,202.74 340.85,202.74C345.17,202.74 349.48,201.49 353.80,201.49C361.08,201.49 368.37,202.92 375.65,202.92C382.93,202.92 390.22,202.92 397.50,202.64M284.00,205.00C291.32,204.36 298.63,204.03 305.95,204.03C313.27,204.03 320.58,204.52 327.90,205.00C332.22,205.29 336.53,206.42 340.85,206.42C345.17,206.42 349.48,205.14 353.80,205.00C361.08,204.77 368.37,204.61 375.65,204.61C382.93,204.61 390.22,204.74 397.50,205.00M284.00,208.45C291.32,207.11 298.63,206.16 305.95,206.16C313.27,206.16 320.58,206.82 327.90,207.30C332.22,207.58 336.53,208.30 340.85,208.36C345.17,208.42 349.48,208.45 353.80,208.45C361.08,208.45 368.37,207.33 375.65,207.33C382.93,207.33 390.22,207.70 397.50,208.45M284.00,210.31C291.32,211.32 298.63,212.06 305.95,212.06C313.27,212.06 320.58,211.65 327.90,211.24C332.22,211.00 336.53,210.03 340.85,210.03C345.17,210.03 349.48,210.92 353.80,210.92C361.08,210.92 368.37,210.34 375.65,210.34C382.93,210.34 390.22,210.80 397.50,211.45M284.00,214.37C291.32,215.17 298.63,215.27 305.95,215.27C313.27,215.27 320.58,213.17 327.90,213.17C332.22,213.17 336.53,214.28 340.85,214.28C345.17,214.28 349.48,213.07 353.80,213.07C361.08,213.07 368.37,215.50 375.65,215.50C382.93,215.50 390.22,215.50 397.50,214.90M284.00,215.30C291.32,214.17 298.63,213.68 305.95,213.68C313.27,213.68 320.58,214.83 327.90,215.59C332.22,216.03 336.53,217.19 340.85,217.19C345.17,217.19 349.48,217.03 353.80,216.99C361.08,216.93 368.37,216.94 375.65,216.86C382.93,216.79 390.22,216.41 397.50,216.00M284.00,219.11C291.32,217.59 298.63,216.54 305.95,216.54C313.27,216.54 320.58,217.24 327.90,217.97C332.22,218.41 336.53,220.36 340.85,220.36C345.17,220.36 349.48,218.42 353.80,218.27C361.08,218.03 368.37,218.07 375.65,217.89C382.93,217.72 390.22,217.41 397.50,217.05M284.00,220.90C291.32,221.14 298.63,221.33 305.95,221.33C313.27,221.33 320.58,221.23 327.90,221.14C332.22,221.09 336.53,220.99 340.85,220.89C345.17,220.79 349.48,220.51 353.80,220.51C361.08,220.51 368.37,222.22 375.65,222.22C382.93,222.22 390.22,221.96 397.50,221.13M284.00,225.21C291.32,226.21 298.63,226.37 305.95,226.37C313.27,226.37 320.58,223.85 327.90,223.85C332.22,223.85 336.53,225.58 340.85,225.58C345.17,225.58 349.48,225.29 353.80,225.13C361.08,224.86 368.37,224.22 375.65,224.22C382.93,224.22 390.22,224.41 397.50,224.91M284.00,225.05C291.32,225.81 298.63,226.14 305.95,226.14C313.27,226.14 320.58,224.83 327.90,224.83C332.22,224.83 336.53,225.21 340.85,225.46C345.17,225.71 349.48,226.37 353.80,226.37C361.08,226.37 368.37,225.02 375.65,225.02C382.93,225.02 390.22,225.10 397.50,225.62M284.00,229.72C291.32,229.15 298.63,228.87 305.95,228.87C313.27,228.87 320.58,229.71 327.90,229.71C332.22,229.71 336.53,228.82 340.85,228.82C345.17,228.82 349.48,229.41 353.80,229.41C361.08,229.41 368.37,228.32 375.65,228.32C382.93,228.32 390.22,229.06 397.50,230.18M284.00,231.10C291.32,231.86 298.63,232.32 305.95,232.32C313.27,232.32 320.58,231.92 327.90,231.43C332.22,231.14 336.53,229.90 340.85,229.49C345.17,229.08 349.48,228.58 353.80,228.58C361.08,228.58 368.37,230.32 375.65,230.97C382.93,231.62 390.22,232.19 397.50,232.62M284.00,235.11C291.32,234.32 298.63,233.59 305.95,233.43C313.27,233.27 320.58,233.32 327.90,233.15C332.22,233.04 336.53,232.07 340.85,232.07C345.17,232.07 349.48,232.86 353.80,233.22C361.08,233.81 368.37,234.85 375.65,234.85C382.93,234.85 390.22,234.25 397.50,233.11M284.00,238.37C291.32,239.31 298.63,239.38 305.95,239.38C313.27,239.38 320.58,237.72 327.90,236.75C332.22,236.17 336.53,234.84 340.85,234.84C345.17,234.84 349.48,236.69 353.80,237.10C361.08,237.79 368.37,238.44 375.65,238.44C382.93,238.44 390.22,237.60 397.50,236.31M284.00,239.94C291.32,240.16 298.63,240.21 305.95,240.21C313.27,240.21 320.58,239.70 327.90,239.70C332.22,239.70 336.53,240.63 340.85,240.63C345.17,240.63 349.48,239.64 353.80,239.64C361.08,239.64 368.37,241.41 375.65,241.41C382.93,241.41 390.22,241.07 397.50,240.15M284.00,242.92C291.32,244.38 298.63,245.24 305.95,245.24C313.27,245.24 320.58,244.05 327.90,243.39C332.22,243.00 336.53,242.15 340.85,242.15C345.17,242.15 349.48,242.98 353.80,242.98C361.08,242.98 368.37,242.18 375.65,242.18C382.93,242.18 390.22,242.87 397.50,243.83M284.00,246.66C291.32,247.00 298.63,247.10 305.95,247.10C313.27,247.10 320.58,246.82 327.90,246.42C332.22,246.18 336.53,244.32 340.85,244.32C345.17,244.32 349.48,245.43 353.80,245.83C361.08,246.49 368.37,247.41 375.65,247.41C382.93,247.41 390.22,246.26 397.50,244.58M284.00,250.67C291.32,251.09 298.63,251.22 305.95,251.22C313.27,251.22 320.58,250.37 327.90,250.37C332.22,250.37 336.53,251.12 340.85,251.12C345.17,251.12 349.48,250.26 353.80,250.26C361.08,250.26 368.37,250.44 375.65,250.44C382.93,250.44 390.22,250.10 397.50,249.70M284.00,253.15C291.32,254.19 298.63,254.41 305.95,254.41C313.27,254.41 320.58,251.92 327.90,251.92C332.22,251.92 336.53,253.60 340.85,253.60C345.17,253.60 349.48,253.07 353.80,253.07C361.08,253.07 368.37,254.80 375.65,254.80C382.93,254.80 390.22,254.02 397.50,252.66M284.00,252.64C291.32,253.87 298.63,254.46 305.95,254.46C313.27,254.46 320.58,252.73 327.90,252.53C332.22,252.41 336.53,252.31 340.85,252.31C345.17,252.31 349.48,253.98 353.80,253.99C361.08,254.01 368.37,254.00 375.65,254.02C382.93,254.04 390.22,254.36 397.50,254.69M284.00,256.65C291.32,256.67 298.63,256.90 305.95,257.15C313.27,257.39 320.58,257.95 327.90,258.53C332.22,258.88 336.53,259.88 340.85,259.88C345.17,259.88 349.48,257.81 353.80,257.81C361.08,257.81 368.37,257.90 375.65,257.90C382.93,257.90 390.22,257.47 397.50,257.01M284.00,258.87C291.32,260.10 298.63,261.00 305.95,261.00C313.27,261.00 320.58,260.54 327.90,260.04C332.22,259.74 336.53,258.35 340.85,258.35C345.17,258.35 349.48,260.23 353.80,260.23C361.08,260.23 368.37,260.07 375.65,259.88C382.93,259.69 390.22,259.02 397.50,258.28M284.00,262.17C291.32,260.71 298.63,259.68 305.95,259.68C313.27,259.68 320.58,260.96 327.90,260.96C332.22,260.96 336.53,259.41 340.85,259.41C345.17,259.41 349.48,262.15 353.80,262.20C361.08,262.29 368.37,262.33 375.65,262.33C382.93,262.33 390.22,261.85 397.50,261.33M284.00,256.92C291.32,256.24 298.63,255.79 305.95,255.79C313.27,255.79 320.58,256.11 327.90,256.46C332.22,256.67 336.53,257.66 340.85,257.66C345.17,257.66 349.48,257.19 353.80,256.92C361.08,256.47 368.37,255.41 375.65,255.41C382.93,255.41 390.22,256.15 397.50,257.38M284.00,260.85C291.32,260.42 298.63,260.21 305.95,260.21C313.27,260.21 320.58,260.47 327.90,260.85C332.22,261.08 336.53,262.98 340.85,262.98C345.17,262.98 349.48,261.62 353.80,261.32C361.08,260.80 368.37,260.31 375.65,260.31C382.93,260.31 390.22,260.88 397.50,261.78M284.00,264.36C291.32,264.48 298.63,264.55 305.95,264.55C313.27,264.55 320.58,264.36 327.90,264.36C332.22,264.36 336.53,266.07 340.85,266.07C345.17,266.07 349.48,264.82 353.80,264.82C361.08,264.82 368.37,265.00 375.65,265.14C382.93,265.28 390.22,265.49 397.50,265.74M284.00,267.02C291.32,265.66 298.63,265.09 305.95,265.09C313.27,265.09 320.58,266.46 327.90,267.48C332.22,268.08 336.53,269.81 340.85,269.81C345.17,269.81 349.48,268.40 353.80,268.40C361.08,268.40 368.37,269.91 375.65,269.91C382.93,269.91 390.22,269.87 397.50,269.32M284.00,270.56C291.32,270.43 298.63,270.43 305.95,270.43C313.27,270.43 320.58,270.86 327.90,271.48C332.22,271.85 336.53,274.57 340.85,274.57C345.17,274.57 349.48,273.33 353.80,273.33C361.08,273.33 368.37,275.04 375.65,275.39C382.93,275.74 390.22,276.09 397.50,276.10M284.00,274.80C287.76,276.34 291.52,278.46 295.28,278.46C306.16,278.46 317.03,278.46 327.90,278.20M284.00,77.68C289.13,76.21 294.26,74.74 299.40,74.08C308.90,72.86 318.40,71.73 327.90,71.73M284.00,114.48C287.03,115.27 290.06,116.42 293.09,116.42C304.69,116.42 316.30,116.42 327.90,115.86M284.00,175.83C289.51,180.06 295.01,184.80 300.52,185.23C309.65,185.94 318.77,186.28 327.90,186.28M284.00,189.93C289.66,192.20 295.33,194.41 300.99,195.30C309.96,196.70 318.93,197.96 327.90,197.96M284.00,189.78C289.35,186.25 294.69,182.55 300.04,181.59C309.33,179.92 318.61,178.77 327.90,178.77M284.00,273.73C288.35,272.77 292.69,271.60 297.04,271.60C307.32,271.60 317.61,271.60 327.90,272.56M284.00,95.83C287.73,97.37 291.45,99.39 295.18,99.39C306.09,99.39 316.99,99.39 327.90,97.65M284.00,272.67C287.40,269.61 290.79,265.41 294.19,265.16C305.43,264.35 316.66,264.10 327.90,264.10M284.00,64.41C289.30,59.81 294.60,54.39 299.89,54.22C309.23,53.91 318.56,53.78 327.90,53.78M284.00,62.75C286.86,64.23 289.71,66.23 292.57,66.52C304.34,67.70 316.12,68.16 327.90,68.16M284.00,273.15C288.27,273.65 292.55,274.21 296.82,274.21C307.18,274.21 317.54,274.21 327.90,273.05M284.00,173.30C289.72,169.74 295.45,165.85 301.17,165.85C310.08,165.85 318.99,165.85 327.90,167.10M284.00,191.40C287.28,188.06 290.56,183.60 293.84,183.08C305.19,181.27 316.55,180.59 327.90,180.59M284.00,189.24C289.55,186.67 295.10,184.14 300.65,183.14C309.73,181.49 318.82,180.04 327.90,180.04M284.00,188.58C289.26,190.86 294.53,193.27 299.79,193.87C309.16,194.94 318.53,195.66 327.90,195.66M284.00,80.28C289.83,79.52 295.66,78.71 301.49,78.60C310.30,78.44 319.10,78.34 327.90,78.34M284.00,139.39C289.57,135.59 295.15,131.76 300.72,130.55C309.78,128.59 318.84,127.08 327.90,127.08M284.00,212.46C289.41,213.82 294.81,215.06 300.22,215.06C309.45,215.06 318.67,214.87 327.90,212.60M284.00,230.80C288.07,229.84 292.13,228.58 296.20,228.58C306.76,228.58 317.33,228.58 327.90,229.04M284.00,268.42C288.66,265.21 293.32,261.21 297.98,261.21C307.95,261.21 317.93,261.21 327.90,261.99M284.00,228.76C288.72,225.82 293.44,222.43 298.15,221.89C308.07,220.77 317.98,220.19 327.90,220.19M284.00,109.79C289.82,111.66 295.63,113.58 301.45,114.01C310.27,114.66 319.08,115.10 327.90,115.10M284.00,119.07C287.82,122.42 291.64,126.56 295.46,127.28C306.27,129.31 317.09,130.30 327.90,130.30M284.00,145.57C287.84,147.02 291.67,148.60 295.51,149.29C306.30,151.21 317.10,152.86 327.90,152.86M284.00,206.51C287.36,205.02 290.71,203.27 294.07,202.71C305.35,200.83 316.62,199.58 327.90,199.58M284.00,186.16C289.68,181.45 295.35,176.11 301.03,175.89C309.99,175.54 318.94,175.39 327.90,175.39M284.00,270.84C286.73,266.78 289.45,260.59 292.18,260.59C304.09,260.59 315.99,260.59 327.90,260.94M284.00,138.29C289.15,142.55 294.30,147.40 299.45,147.97C308.93,149.02 318.42,149.54 327.90,149.54M284.00,108.55C288.15,110.74 292.29,113.19 296.44,113.97C306.93,115.93 317.41,117.30 327.90,117.30M284.00,126.50C289.93,121.61 295.86,116.24 301.80,115.94C310.50,115.52 319.20,115.31 327.90,115.31M284.00,175.65C287.41,171.03 290.82,164.44 294.23,164.38C305.45,164.19 316.68,164.14 327.90,164.14M284.00,105.27C287.48,105.76 290.95,106.25 294.43,106.63C305.58,107.84 316.74,108.95 327.90,109.57M284.00,65.06C287.85,61.95 291.70,57.72 295.55,57.72C306.33,57.72 317.12,57.72 327.90,58.32M284.00,217.10C289.45,213.53 294.90,209.77 300.36,208.93C309.54,207.51 318.72,206.60 327.90,206.60M284.00,104.83C287.53,106.19 291.07,108.05 294.60,108.05C305.70,108.05 316.80,108.05 327.90,106.97M397.50,60.75C401.78,61.76 406.07,62.64 410.35,62.97C414.63,63.29 418.92,63.58 423.20,63.58C427.20,63.58 431.20,63.57 435.20,63.55C439.20,63.53 443.20,61.62 447.20,61.19C454.53,60.39 461.87,60.01 469.20,59.64C476.53,59.27 483.87,59.20 491.20,58.78C495.47,58.53 499.73,57.52 504.00,57.52C508.27,57.52 512.53,57.64 516.80,58.17M397.50,71.22C401.78,71.11 406.07,71.11 410.35,71.11C414.63,71.11 418.92,71.89 423.20,71.89C427.20,71.89 431.20,69.28 435.20,68.98C439.20,68.68 443.20,68.45 447.20,68.45C454.53,68.45 461.87,68.55 469.20,68.63C476.53,68.72 483.87,69.05 491.20,69.05C495.47,69.05 499.73,68.84 504.00,68.67C508.27,68.49 512.53,68.19 516.80,67.84M397.50,75.38C401.78,75.86 406.07,76.29 410.35,76.29C414.63,76.29 418.92,76.24 423.20,76.16C427.20,76.09 431.20,75.20 435.20,74.76C439.20,74.32 443.20,73.51 447.20,73.51C454.53,73.51 461.87,74.34 469.20,74.83C476.53,75.33 483.87,75.96 491.20,76.52C495.47,76.85 499.73,77.51 504.00,77.51C508.27,77.51 512.53,77.30 516.80,76.77M397.50,72.85C401.78,72.06 406.07,71.51 410.35,71.51C414.63,71.51 418.92,71.92 423.20,72.26C427.20,72.58 431.20,73.19 435.20,73.77C439.20,74.34 443.20,75.24 447.20,75.81C454.53,76.87 461.87,78.24 469.20,78.45C476.53,78.67 483.87,78.74 491.20,78.83C495.47,78.88 499.73,78.89 504.00,78.95C508.27,79.02 512.53,79.21 516.80,79.43M397.50,81.50C401.78,81.94 406.07,82.31 410.35,82.31C414.63,82.31 418.92,82.17 423.20,82.05C427.20,81.94 431.20,81.48 435.20,81.48C439.20,81.48 443.20,81.92 447.20,81.92C454.53,81.92 461.87,80.32 469.20,80.32C476.53,80.32 483.87,80.47 491.20,80.71C495.47,80.85 499.73,82.27 504.00,82.27C508.27,82.27 512.53,82.27 516.80,81.92M397.50,85.05C401.78,83.61 406.07,82.35 410.35,81.85C414.63,81.35 418.92,80.88 423.20,80.88C427.20,80.88 431.20,81.98 435.20,82.68C439.20,83.37 443.20,85.01 447.20,85.17C454.53,85.46 461.87,85.60 469.20,85.60C476.53,85.60 483.87,85.01 491.20,84.57C495.47,84.31 499.73,83.55 504.00,83.55C508.27,83.55 512.53,83.89 516.80,84.57M397.50,83.92C401.78,85.45 406.07,86.79 410.35,87.43C414.63,88.08 418.92,88.69 423.20,88.77C427.20,88.85 431.20,88.90 435.20,88.90C439.20,88.90 443.20,87.65 447.20,87.65C454.53,87.65 461.87,89.12 469.20,89.12C476.53,89.12 483.87,88.37 491.20,88.37C495.47,88.37 499.73,88.81 504.00,88.81C508.27,88.81 512.53,88.67 516.80,88.37M397.50,98.48C401.78,99.08 406.07,99.34 410.35,99.34C414.63,99.34 418.92,98.34 423.20,98.34C427.20,98.34 431.20,98.77 435.20,99.09C439.20,99.42 443.20,100.18 447.20,100.49C454.53,101.06 461.87,101.70 469.20,101.70C476.53,101.70 483.87,101.43 491.20,101.09C495.47,100.89 499.73,99.67 504.00,99.67C508.27,99.67 512.53,99.67 516.80,99.89M397.50,98.95C401.78,99.38 406.07,99.76 410.35,100.07C414.63,100.38 418.92,100.87 423.20,100.87C427.20,100.87 431.20,100.74 435.20,100.74C439.20,100.74 443.20,102.91 447.20,102.95C454.53,103.02 461.87,103.04 469.20,103.04C476.53,103.04 483.87,102.95 491.20,102.95C495.47,102.95 499.73,103.46 504.00,103.46C508.27,103.46 512.53,103.29 516.80,102.95M397.50,115.82C401.78,116.31 406.07,116.74 410.35,117.04C414.63,117.35 418.92,117.49 423.20,117.78C427.20,118.05 431.20,118.78 435.20,118.78C439.20,118.78 443.20,117.78 447.20,117.42C454.53,116.77 461.87,116.46 469.20,115.87C476.53,115.28 483.87,113.80 491.20,113.80C495.47,113.80 499.73,114.27 504.00,114.27C508.27,114.27 512.53,113.82 516.80,113.20M397.50,130.17C401.78,130.64 406.07,131.09 410.35,131.09C414.63,131.09 418.92,131.06 423.20,131.01C427.20,130.97 431.20,129.89 435.20,129.20C439.20,128.52 443.20,127.00 447.20,126.84C454.53,126.54 461.87,126.38 469.20,126.38C476.53,126.38 483.87,127.60 491.20,128.04C495.47,128.30 499.73,128.42 504.00,128.70C508.27,128.97 512.53,129.38 516.80,129.85M397.50,134.03C401.78,132.89 406.07,131.73 410.35,130.54C414.63,129.36 418.92,126.92 423.20,126.92C427.20,126.92 431.20,127.66 435.20,128.23C439.20,128.80 443.20,130.69 447.20,130.69C454.53,130.69 461.87,130.01 469.20,129.71C476.53,129.41 483.87,129.18 491.20,128.88C495.47,128.71 499.73,128.33 504.00,128.33C508.27,128.33 512.53,128.81 516.80,129.48M397.50,146.14C401.78,145.84 406.07,145.33 410.35,144.75C414.63,144.17 418.92,142.37 423.20,142.37C427.20,142.37 431.20,142.79 435.20,143.17C439.20,143.54 443.20,145.16 447.20,145.16C454.53,145.16 461.87,143.40 469.20,142.93C476.53,142.47 483.87,141.90 491.20,141.90C495.47,141.90 499.73,143.52 504.00,144.01C508.27,144.51 512.53,144.94 516.80,145.16M397.50,157.34C401.78,157.03 406.07,156.38 410.35,155.63C414.63,154.88 418.92,152.36 423.20,152.36C427.20,152.36 431.20,152.61 435.20,152.80C439.20,152.99 443.20,153.60 447.20,153.60C454.53,153.60 461.87,153.57 469.20,153.52C476.53,153.47 483.87,151.79 491.20,151.79C495.47,151.79 499.73,151.80 504.00,151.80C508.27,151.80 512.53,150.89 516.80,149.98M397.50,167.39C401.78,167.67 406.07,168.04 410.35,168.46C414.63,168.88 418.92,169.96 423.20,169.96C427.20,169.96 431.20,169.85 435.20,169.70C439.20,169.55 443.20,168.61 447.20,168.07C454.53,167.09 461.87,166.17 469.20,165.16C476.53,164.16 483.87,162.04 491.20,162.04C495.47,162.04 499.73,162.70 504.00,163.10C508.27,163.49 512.53,163.95 516.80,164.46M397.50,172.75C401.78,172.75 406.07,172.98 410.35,173.27C414.63,173.56 418.92,176.08 423.20,176.08C427.20,176.08 431.20,175.90 435.20,175.71C439.20,175.51 443.20,174.36 447.20,174.36C454.53,174.36 461.87,174.89 469.20,174.89C476.53,174.89 483.87,173.88 491.20,173.88C495.47,173.88 499.73,173.90 504.00,173.93C508.27,173.97 512.53,174.22 516.80,174.48M397.50,179.41C401.78,179.28 406.07,178.90 410.35,178.48C414.63,178.06 418.92,176.70 423.20,176.50C427.20,176.31 431.20,176.16 435.20,176.16C439.20,176.16 443.20,177.99 447.20,178.07C454.53,178.23 461.87,178.30 469.20,178.31C476.53,178.31 483.87,178.31 491.20,178.31C495.47,178.31 499.73,178.16 504.00,178.07C508.27,177.97 512.53,177.85 516.80,177.71M397.50,179.48C401.78,180.10 406.07,181.07 410.35,182.19C414.63,183.31 418.92,186.61 423.20,186.61C427.20,186.61 431.20,185.28 435.20,184.49C439.20,183.71 443.20,182.19 447.20,181.82C454.53,181.16 461.87,180.66 469.20,180.66C476.53,180.66 483.87,181.43 491.20,181.82C495.47,182.05 499.73,182.48 504.00,182.51C508.27,182.53 512.53,182.55 516.80,182.55M397.50,194.83C401.78,193.73 406.07,192.73 410.35,192.44C414.63,192.14 418.92,191.90 423.20,191.90C427.20,191.90 431.20,192.27 435.20,192.33C439.20,192.38 443.20,192.43 447.20,192.43C454.53,192.43 461.87,191.84 469.20,191.84C476.53,191.84 483.87,193.03 491.20,193.03C495.47,193.03 499.73,192.52 504.00,192.52C508.27,192.52 512.53,192.69 516.80,193.03M397.50,194.60C401.78,194.75 406.07,194.90 410.35,194.90C414.63,194.91 418.92,194.92 423.20,194.92C427.20,194.92 431.20,193.23 435.20,193.23C439.20,193.23 443.20,193.47 447.20,193.52C454.53,193.60 461.87,193.58 469.20,193.67C476.53,193.76 483.87,194.36 491.20,194.72C495.47,194.93 499.73,195.38 504.00,195.38C508.27,195.38 512.53,194.86 516.80,194.12M397.50,198.85C401.78,198.51 406.07,198.20 410.35,198.10C414.63,197.99 418.92,197.89 423.20,197.89C427.20,197.89 431.20,198.06 435.20,198.06C439.20,198.06 443.20,196.49 447.20,196.49C454.53,196.49 461.87,197.38 469.20,197.38C476.53,197.38 483.87,196.25 491.20,196.25C495.47,196.25 499.73,196.92 504.00,196.92C508.27,196.92 512.53,196.92 516.80,196.73M397.50,204.15C401.78,203.36 406.07,202.40 410.35,201.34C414.63,200.27 418.92,197.63 423.20,197.63C427.20,197.63 431.20,198.62 435.20,199.03C439.20,199.45 443.20,200.05 447.20,200.16C454.53,200.37 461.87,200.49 469.20,200.49C476.53,200.49 483.87,200.35 491.20,200.16C495.47,200.05 499.73,199.33 504.00,199.33C508.27,199.33 512.53,199.33 516.80,199.56M397.50,198.87C401.78,199.20 406.07,199.94 410.35,200.78C414.63,201.63 418.92,204.53 423.20,204.53C427.20,204.53 431.20,203.43 435.20,202.76C439.20,202.09 443.20,200.41 447.20,200.41C454.53,200.41 461.87,200.67 469.20,200.77C476.53,200.87 483.87,201.01 491.20,201.01C495.47,201.01 499.73,200.07 504.00,200.07C508.27,200.07 512.53,200.39 516.80,201.01M397.50,208.11C401.78,207.55 406.07,207.34 410.35,207.34C414.63,207.34 418.92,208.42 423.20,208.42C427.20,208.42 431.20,207.40 435.20,206.82C439.20,206.23 443.20,205.11 447.20,204.88C454.53,204.45 461.87,204.16 469.20,204.16C476.53,204.16 483.87,204.58 491.20,204.88C495.47,205.05 499.73,205.48 504.00,205.52C508.27,205.57 512.53,205.60 516.80,205.60M397.50,209.93C401.78,210.08 406.07,210.09 410.35,210.09C414.63,210.09 418.92,209.91 423.20,209.71C427.20,209.53 431.20,208.87 435.20,208.46C439.20,208.05 443.20,207.26 447.20,207.26C454.53,207.26 461.87,207.62 469.20,207.67C476.53,207.71 483.87,207.74 491.20,207.74C495.47,207.74 499.73,207.13 504.00,207.13C508.27,207.13 512.53,207.13 516.80,207.14M397.50,214.47C401.78,212.73 406.07,211.13 410.35,209.71C414.63,208.29 418.92,205.87 423.20,205.87C427.20,205.87 431.20,208.74 435.20,209.48C439.20,210.21 443.20,211.02 447.20,211.07C454.53,211.17 461.87,211.21 469.20,211.21C476.53,211.21 483.87,211.16 491.20,211.07C495.47,211.02 499.73,210.46 504.00,210.46C508.27,210.46 512.53,210.66 516.80,211.07M397.50,216.94C401.78,216.41 406.07,215.81 410.35,215.16C414.63,214.52 418.92,213.51 423.20,213.01C427.20,212.55 431.20,211.95 435.20,211.95C439.20,211.95 443.20,212.80 447.20,212.80C454.53,212.80 461.87,212.01 469.20,212.01C476.53,212.01 483.87,212.55 491.20,212.80C495.47,212.94 499.73,213.20 504.00,213.20C508.27,213.20 512.53,213.07 516.80,212.80M397.50,218.87C401.78,218.57 406.07,218.32 410.35,218.32C414.63,218.32 418.92,218.48 423.20,218.48C427.20,218.48 431.20,216.41 435.20,216.41C439.20,216.41 443.20,216.48 447.20,216.56C454.53,216.69 461.87,217.94 469.20,217.94C476.53,217.94 483.87,217.20 491.20,217.16C495.47,217.14 499.73,217.12 504.00,217.12C508.27,217.12 512.53,217.13 516.80,217.16M397.50,223.72C401.78,223.67 406.07,223.59 410.35,223.50C414.63,223.40 418.92,223.34 423.20,223.12C427.20,222.92 431.20,221.12 435.20,220.81C439.20,220.50 443.20,220.29 447.20,220.22C454.53,220.09 461.87,220.02 469.20,220.00C476.53,219.99 483.87,219.98 491.20,219.98C495.47,219.98 499.73,220.32 504.00,220.32C508.27,220.32 512.53,220.02 516.80,219.61M397.50,223.65C401.78,224.55 406.07,225.34 410.35,225.87C414.63,226.40 418.92,227.12 423.20,227.12C427.20,227.12 431.20,224.88 435.20,224.54C439.20,224.19 443.20,223.89 447.20,223.89C454.53,223.89 461.87,224.89 469.20,224.89C476.53,224.89 483.87,224.36 491.20,224.13C495.47,223.99 499.73,223.84 504.00,223.75C508.27,223.66 512.53,223.58 516.80,223.53M397.50,225.65C401.78,225.65 406.07,225.91 410.35,226.17C414.63,226.43 418.92,227.54 423.20,227.77C427.20,227.98 431.20,228.01 435.20,228.16C439.20,228.32 443.20,228.46 447.20,228.69C454.53,229.10 461.87,230.02 469.20,230.62C476.53,231.22 483.87,232.24 491.20,232.30C495.47,232.34 499.73,232.33 504.00,232.37C508.27,232.42 512.53,232.95 516.80,233.51M397.50,238.81C401.78,238.67 406.07,238.18 410.35,237.63C414.63,237.08 418.92,234.92 423.20,234.92C427.20,234.92 431.20,237.31 435.20,237.79C439.20,238.28 443.20,238.72 447.20,238.76C454.53,238.83 461.87,238.86 469.20,238.86C476.53,238.86 483.87,238.83 491.20,238.76C495.47,238.72 499.73,238.03 504.00,238.03C508.27,238.03 512.53,238.57 516.80,239.36M397.50,247.98C401.78,247.54 406.07,246.93 410.35,246.24C414.63,245.54 418.92,243.66 423.20,243.66C427.20,243.66 431.20,245.28 435.20,245.65C439.20,246.02 443.20,246.42 447.20,246.42C454.53,246.42 461.87,245.20 469.20,245.20C476.53,245.20 483.87,245.82 491.20,245.82C495.47,245.82 499.73,245.38 504.00,245.38C508.27,245.38 512.53,245.53 516.80,245.82M397.50,248.79C401.78,249.45 406.07,250.03 410.35,250.25C414.63,250.47 418.92,250.67 423.20,250.67C427.20,250.67 431.20,250.01 435.20,249.54C439.20,249.07 443.20,247.67 447.20,247.67C454.53,247.67 461.87,248.75 469.20,248.75C476.53,248.75 483.87,248.08 491.20,247.67C495.47,247.43 499.73,246.85 504.00,246.85C508.27,246.85 512.53,247.42 516.80,248.27M397.50,257.10C401.78,256.34 406.07,255.47 410.35,254.51C414.63,253.55 418.92,251.27 423.20,251.27C427.20,251.27 431.20,253.12 435.20,253.60C439.20,254.08 443.20,254.64 447.20,254.64C454.53,254.64 461.87,254.32 469.20,254.32C476.53,254.32 483.87,254.88 491.20,254.88C495.47,254.88 499.73,254.71 504.00,254.69C508.27,254.66 512.53,254.64 516.80,254.64M397.50,260.44C401.78,261.44 406.07,262.37 410.35,262.37C414.63,262.37 418.92,262.27 423.20,262.15C427.20,262.04 431.20,261.15 435.20,261.15C439.20,261.15 443.20,261.52 447.20,261.52C454.53,261.52 461.87,260.36 469.20,260.36C476.53,260.36 483.87,260.92 491.20,260.92C495.47,260.92 499.73,260.74 504.00,260.64C508.27,260.54 512.53,260.43 516.80,260.32M397.50,259.58C401.78,260.26 406.07,260.93 410.35,260.93C414.63,260.93 418.92,260.93 423.20,260.93C427.20,260.94 431.20,261.03 435.20,261.18C439.20,261.32 443.20,262.95 447.20,262.95C454.53,262.95 461.87,261.48 469.20,261.48C476.53,261.48 483.87,262.28 491.20,262.35C495.47,262.38 499.73,262.42 504.00,262.42C508.27,262.42 512.53,262.09 516.80,261.74M397.50,271.30C401.78,270.32 406.07,269.41 410.35,269.23C414.63,269.05 418.92,268.92 423.20,268.92C427.20,268.92 431.20,269.34 435.20,269.34C439.20,269.34 443.20,268.05 447.20,268.05C454.53,268.05 461.87,268.18 469.20,268.18C476.53,268.18 483.87,267.44 491.20,267.44C495.47,267.44 499.73,267.81 504.00,267.81C508.27,267.81 512.53,267.69 516.80,267.44M397.50,270.45C401.78,269.77 406.07,269.27 410.35,269.27C414.63,269.27 418.92,269.69 423.20,269.84C427.20,269.98 431.20,270.14 435.20,270.18C439.20,270.23 443.20,270.27 447.20,270.27C454.53,270.27 461.87,270.08 469.20,269.98C476.53,269.88 483.87,269.66 491.20,269.66C495.47,269.66 499.73,269.71 504.00,269.76C508.27,269.82 512.53,270.03 516.80,270.27M397.50,269.49C401.78,268.77 406.07,268.11 410.35,267.54C414.63,266.97 418.92,266.04 423.20,266.04C427.20,266.04 431.20,267.56 435.20,268.41C439.20,269.27 443.20,271.20 447.20,271.20C454.53,271.20 461.87,270.47 469.20,270.47C476.53,270.47 483.87,270.51 491.20,270.59C495.47,270.64 499.73,271.41 504.00,271.41C508.27,271.41 512.53,271.41 516.80,271.20M397.50,92.61C401.80,92.61 406.10,92.35 410.40,91.97C414.67,91.60 418.93,86.62 423.20,86.62C427.20,86.62 431.20,87.54 435.20,88.28C439.20,89.02 443.20,90.24 447.20,91.66M397.50,236.94C401.80,236.94 406.10,237.32 410.40,237.79C414.67,238.26 418.93,240.74 423.20,241.87C427.20,242.93 431.20,243.44 435.20,244.60C439.20,245.75 443.20,247.44 447.20,249.37M397.50,115.86C401.80,117.30 406.10,118.69 410.40,120.00C414.67,121.31 418.93,122.60 423.20,123.74C427.20,124.81 431.20,126.17 435.20,126.70C439.20,127.24 443.20,127.75 447.20,127.81M397.50,238.15C401.80,238.15 406.10,239.14 410.40,240.23C414.67,241.31 418.93,247.77 423.20,247.77C427.20,247.77 431.20,246.67 435.20,246.67C439.20,246.67 443.20,247.50 447.20,248.69M397.50,252.54C401.80,250.96 406.10,249.26 410.40,247.45C414.67,245.67 418.93,241.73 423.20,241.73C427.20,241.73 431.20,243.16 435.20,243.16C439.20,243.16 443.20,242.97 447.20,242.30M397.50,69.84C401.80,69.84 406.10,69.78 410.40,69.68C414.67,69.58 418.93,65.82 423.20,65.82C427.20,65.82 431.20,67.79 435.20,68.45C439.20,69.11 443.20,69.67 447.20,70.02M397.50,203.52C401.80,206.22 406.10,208.55 410.40,209.89C414.67,211.23 418.93,212.81 423.20,212.81C427.20,212.81 431.20,211.97 435.20,211.06C439.20,210.15 443.20,207.68 447.20,204.89M397.50,194.45C401.80,192.95 406.10,191.46 410.40,189.96C414.67,188.48 418.93,186.94 423.20,185.52C427.20,184.18 431.20,182.55 435.20,181.66C439.20,180.77 443.20,179.99 447.20,179.61M397.50,211.74C401.80,213.77 406.10,215.57 410.40,216.15C414.67,216.73 418.93,217.23 423.20,217.23C427.20,217.23 431.20,215.91 435.20,214.65C439.20,213.39 443.20,210.68 447.20,207.56M397.50,109.92C401.80,108.78 406.10,108.18 410.40,108.18C414.67,108.18 418.93,109.80 423.20,109.80C427.20,109.80 431.20,104.99 435.20,103.24C439.20,101.49 443.20,99.96 447.20,98.87M397.50,154.19C401.80,153.56 406.10,152.09 410.40,150.42C414.67,148.76 418.93,142.96 423.20,142.96C427.20,142.96 431.20,145.83 435.20,146.04C439.20,146.25 443.20,146.39 447.20,146.39M397.50,246.91C401.80,246.22 406.10,245.62 410.40,245.26C414.67,244.90 418.93,244.70 423.20,244.46C427.20,244.23 431.20,244.20 435.20,243.84C439.20,243.49 443.20,241.89 447.20,240.15M397.50,164.33C401.80,163.10 406.10,161.98 410.40,161.02C414.67,160.06 418.93,159.32 423.20,158.49C427.20,157.71 431.20,156.19 435.20,156.19C439.20,156.19 443.20,156.31 447.20,157.21M397.50,271.30C401.80,269.70 406.10,268.81 410.40,268.81C414.67,268.81 418.93,269.93 423.20,270.86C427.20,271.73 431.20,274.76 435.20,274.86C439.20,274.96 443.20,275.01 447.20,275.01M397.50,180.24C401.80,180.24 406.10,179.93 410.40,179.55C414.67,179.17 418.93,176.20 423.20,176.20C427.20,176.20 431.20,177.83 435.20,178.52C439.20,179.21 443.20,179.84 447.20,180.38M397.50,187.35C401.80,189.99 406.10,192.27 410.40,193.75C414.67,195.22 418.93,196.46 423.20,197.12C427.20,197.73 431.20,197.85 435.20,198.42C439.20,198.98 443.20,199.84 447.20,200.84M397.50,153.05C401.80,153.66 406.10,154.47 410.40,155.39C414.67,156.30 418.93,158.71 423.20,158.71C427.20,158.71 431.20,155.76 435.20,154.77C439.20,153.78 443.20,152.92 447.20,152.39M397.50,210.52C401.80,212.27 406.10,214.09 410.40,215.97C414.67,217.84 418.93,221.77 423.20,221.77C427.20,221.77 431.20,221.40 435.20,220.90C439.20,220.40 443.20,218.21 447.20,215.81M397.50,250.51C401.80,251.31 406.10,251.83 410.40,251.83C414.67,251.83 418.93,251.34 423.20,251.02C427.20,250.71 431.20,249.88 435.20,249.88C439.20,249.88 443.20,251.03 447.20,252.56M397.50,76.92C401.80,79.36 406.10,81.54 410.40,83.31C414.67,85.07 418.93,87.82 423.20,87.82C427.20,87.82 431.20,86.54 435.20,85.84C439.20,85.14 443.20,84.39 447.20,83.60M397.50,210.18C401.80,209.45 406.10,208.73 410.40,208.70C414.67,208.67 418.93,208.66 423.20,208.66C427.20,208.66 431.20,211.66 435.20,211.66C439.20,211.66 443.20,211.66 447.20,210.93M397.50,190.63C401.80,190.63 406.10,190.03 410.40,189.37C414.67,188.71 418.93,185.24 423.20,184.63C427.20,184.06 431.20,184.14 435.20,183.57C439.20,183.00 443.20,181.24 447.20,179.26M397.50,275.62C401.80,275.97 406.10,277.30 410.40,278.77C414.67,280.23 418.93,286.03 423.20,286.03C427.20,286.03 431.20,284.97 435.20,284.28C439.20,283.60 443.20,282.74 447.20,281.78M397.50,174.08C401.80,174.08 406.10,173.96 410.40,173.79C414.67,173.62 418.93,171.63 423.20,171.63C427.20,171.63 431.20,174.34 435.20,176.16C439.20,177.98 443.20,180.33 447.20,182.99M397.50,233.42C401.80,235.10 406.10,236.75 410.40,238.37C414.67,239.99 418.93,241.79 423.20,243.13C427.20,244.38 431.20,245.44 435.20,246.38C439.20,247.32 443.20,248.17 447.20,248.87M397.50,130.99C401.80,129.31 406.10,127.46 410.40,125.46C414.67,123.48 418.93,118.98 423.20,118.98C427.20,118.98 431.20,123.18 435.20,124.98C439.20,126.77 443.20,128.42 447.20,129.87M397.50,166.11C401.80,166.88 406.10,167.77 410.40,168.75C414.67,169.72 418.93,172.01 423.20,172.01C427.20,172.01 431.20,169.65 435.20,168.16C439.20,166.66 443.20,164.81 447.20,162.76M397.50,98.17C401.80,98.94 406.10,99.61 410.40,99.96C414.67,100.32 418.93,100.72 423.20,100.72C427.20,100.72 431.20,97.34 435.20,95.72C439.20,94.09 443.20,92.51 447.20,90.97M397.50,143.34C401.80,143.54 406.10,143.54 410.40,143.54C414.67,143.54 418.93,141.23 423.20,139.91C427.20,138.68 431.20,136.60 435.20,135.88C439.20,135.17 443.20,134.48 447.20,134.42M397.50,155.69C401.80,156.46 406.10,156.46 410.40,156.46C414.67,156.46 418.93,152.97 423.20,152.97C427.20,152.97 431.20,152.97 435.20,152.99C439.20,153.00 443.20,153.29 447.20,153.59M397.50,81.64C401.80,78.89 406.10,76.43 410.40,75.71C414.67,74.99 418.93,74.75 423.20,74.40C427.20,74.07 431.20,74.04 435.20,73.58C439.20,73.12 443.20,71.28 447.20,69.26M397.50,69.31C401.80,69.31 406.10,69.53 410.40,69.85C414.67,70.17 418.93,74.31 423.20,74.31C427.20,74.31 431.20,71.75 435.20,70.33C439.20,68.91 443.20,67.37 447.20,65.74M397.50,140.38C401.80,140.34 406.10,140.34 410.40,140.34C414.67,140.34 418.93,140.37 423.20,140.43C427.20,140.48 431.20,141.18 435.20,141.18C439.20,141.18 443.20,139.41 447.20,137.39M397.50,155.34C401.80,157.46 406.10,159.29 410.40,160.24C414.67,161.18 418.93,161.22 423.20,162.23C427.20,163.19 431.20,166.84 435.20,168.22C439.20,169.59 443.20,170.79 447.20,171.37M397.50,71.95C401.80,73.57 406.10,74.99 410.40,76.01C414.67,77.03 418.93,78.47 423.20,78.47C427.20,78.47 431.20,76.14 435.20,74.59C439.20,73.03 443.20,71.04 447.20,68.80M397.50,117.84C401.80,118.82 406.10,120.45 410.40,122.33C414.67,124.19 418.93,129.86 423.20,129.86C427.20,129.86 431.20,129.65 435.20,129.37C439.20,129.09 443.20,127.79 447.20,126.38M397.50,263.34C401.80,265.46 406.10,267.32 410.40,268.02C414.67,268.71 418.93,268.91 423.20,269.36C427.20,269.79 431.20,269.96 435.20,270.68C439.20,271.39 443.20,273.81 447.20,276.51M397.50,251.05C401.80,250.03 406.10,249.97 410.40,249.97C414.67,249.97 418.93,251.46 423.20,252.81C427.20,254.07 431.20,257.59 435.20,259.29C439.20,260.99 443.20,262.48 447.20,263.51M397.50,177.31C401.80,179.82 406.10,182.04 410.40,182.86C414.67,183.68 418.93,183.81 423.20,184.45C427.20,185.04 431.20,186.06 435.20,186.64C439.20,187.22 443.20,187.73 447.20,188.08M397.50,107.07C401.80,107.78 406.10,108.69 410.40,109.71C414.67,110.74 418.93,113.40 423.20,113.40C427.20,113.40 431.20,112.86 435.20,112.24C439.20,111.61 443.20,109.64 447.20,107.43M397.50,239.28C401.80,240.56 406.10,241.67 410.40,242.24C414.67,242.80 418.93,242.79 423.20,243.43C427.20,244.03 431.20,246.33 435.20,247.88C439.20,249.43 443.20,251.05 447.20,252.74M397.50,273.86C401.80,272.49 406.10,272.15 410.40,272.15C414.67,272.15 418.93,275.25 423.20,275.25C427.20,275.25 431.20,274.85 435.20,274.35C439.20,273.86 443.20,272.16 447.20,270.26M397.50,89.99C401.80,90.02 406.10,90.08 410.40,90.16C414.67,90.24 418.93,90.49 423.20,90.49C427.20,90.49 431.20,90.23 435.20,90.23C439.20,90.23 443.20,91.74 447.20,93.32M397.50,117.10C401.80,115.15 406.10,113.30 410.40,111.55C414.67,109.82 418.93,106.63 423.20,106.63C427.20,106.63 431.20,107.83 435.20,108.51C439.20,109.19 443.20,109.94 447.20,110.73M397.50,236.11C401.80,233.00 406.10,230.30 410.40,228.54C414.67,226.79 418.93,224.50 423.20,224.50C427.20,224.50 431.20,229.34 435.20,230.72C439.20,232.09 443.20,233.29 447.20,233.80M397.50,276.34C401.80,279.03 406.10,281.47 410.40,282.05C414.67,282.62 418.93,282.65 423.20,283.07C427.20,283.45 431.20,283.92 435.20,284.54C439.20,285.17 443.20,286.06 447.20,287.09M397.50,165.93C401.80,168.12 406.10,170.13 410.40,170.13C414.67,170.13 418.93,169.58 423.20,169.58C427.20,169.58 431.20,169.96 435.20,169.96C439.20,169.96 443.20,169.96 447.20,169.95M397.50,259.58C401.80,259.35 406.10,258.16 410.40,256.86C414.67,255.58 418.93,250.15 423.20,250.15C427.20,250.15 431.20,252.01 435.20,253.49C439.20,254.96 443.20,257.31 447.20,260.01M397.50,210.96C401.80,213.99 406.10,216.60 410.40,218.22C414.67,219.82 418.93,221.83 423.20,221.83C427.20,221.83 431.20,220.53 435.20,220.53C439.20,220.53 443.20,221.54 447.20,222.99M397.50,195.69C401.80,195.69 406.10,195.75 410.40,195.86C414.67,195.97 418.93,200.42 423.20,200.42C427.20,200.42 431.20,200.41 435.20,200.41C439.20,200.41 443.20,202.13 447.20,203.87M397.50,267.87C401.80,266.41 406.10,264.98 410.40,263.58C414.67,262.19 418.93,259.69 423.20,259.51C427.20,259.33 431.20,259.22 435.20,259.22C439.20,259.22 443.20,259.84 447.20,260.56M397.50,251.51C401.80,250.16 406.10,248.89 410.40,248.70C414.67,248.52 418.93,248.39 423.20,248.39C427.20,248.39 431.20,250.89 435.20,252.25C439.20,253.60 443.20,255.03 447.20,256.53M397.50,234.49C401.80,234.27 406.10,233.61 410.40,232.88C414.67,232.15 418.93,229.90 423.20,229.43C427.20,228.98 431.20,228.58 435.20,228.58C439.20,228.58 443.20,229.33 447.20,230.36M397.50,197.17C401.80,195.77 406.10,195.02 410.40,195.02C414.67,195.02 418.93,196.93 423.20,196.93C427.20,196.93 431.20,194.22 435.20,193.22C439.20,192.23 443.20,191.36 447.20,190.74M397.50,197.05C401.80,195.93 406.10,194.97 410.40,194.47C414.67,193.98 418.93,193.50 423.20,193.44C427.20,193.39 431.20,193.35 435.20,193.35C439.20,193.35 443.20,193.78 447.20,194.25M397.50,213.27C401.80,210.69 406.10,208.26 410.40,207.94C414.67,207.63 418.93,207.68 423.20,207.43C427.20,207.19 431.20,206.79 435.20,206.07C439.20,205.34 443.20,203.17 447.20,200.72M284.00,45.67C291.33,47.47 298.67,49.11 306.00,50.49C313.30,51.86 320.60,53.80 327.90,54.11C336.53,54.47 345.17,54.71 353.80,54.71C368.37,54.71 382.93,54.61 397.50,54.11C400.00,54.02 402.50,51.91 405.00,51.09C411.07,49.10 417.13,46.27 423.20,46.27C426.13,46.27 429.07,48.90 432.00,49.89C437.07,51.59 442.13,53.95 447.20,54.11C461.87,54.56 476.53,54.45 491.20,54.71C499.73,54.86 508.27,55.08 516.80,55.31M397.50,53.50C401.00,52.99 404.50,52.10 408.00,51.09C410.67,50.32 413.33,49.23 416.00,48.08C418.40,47.04 420.80,44.46 423.20,44.46C425.47,44.46 427.73,46.89 430.00,48.08C432.33,49.30 434.67,50.92 437.00,51.69C440.40,52.82 443.80,53.87 447.20,54.11M397.50,56.52C401.67,56.24 405.83,54.92 410.00,53.50C412.67,52.60 415.33,51.01 418.00,49.28C419.73,48.16 421.47,46.66 423.20,45.06M423.20,117.42C426.13,118.71 429.07,120.38 432.00,122.25C434.67,123.94 437.33,128.28 440.00,128.28C442.40,128.28 444.80,127.91 447.20,125.86M423.20,122.25C427.13,118.48 431.07,116.22 435.00,116.22C439.07,116.22 443.13,117.56 447.20,121.04M327.90,284.45C336.53,287.05 345.17,289.28 353.80,289.28C361.20,289.28 368.60,288.67 376.00,288.67C383.17,288.67 390.33,289.49 397.50,290.48M327.90,274.20C336.53,274.38 345.17,274.59 353.80,274.81C361.20,274.99 368.60,275.41 376.00,275.41C383.17,275.41 390.33,274.90 397.50,274.20M447.20,294.70C454.80,290.46 462.40,286.72 470.00,285.66C477.07,284.67 484.13,283.85 491.20,283.85C499.73,283.85 508.27,283.85 516.80,284.45" fill="none" stroke="#f28f3e" stroke-width="0.95"/>
<path d="M397.50,57.24C401.78,57.24 406.07,57.37 410.35,57.53C414.63,57.69 418.92,59.06 423.20,59.06C427.20,59.06 431.20,56.97 435.20,56.39C439.20,55.81 443.20,55.12 447.20,55.11C454.53,55.09 461.87,55.09 469.20,55.09C476.53,55.09 483.87,55.11 491.20,55.11C495.47,55.11 499.73,54.55 504.00,54.55C508.27,54.55 512.53,54.98 516.80,55.59M397.50,98.83C401.78,98.46 406.07,98.02 410.35,97.53C414.63,97.03 418.92,96.34 423.20,95.80C427.20,95.30 431.20,94.39 435.20,94.39C439.20,94.39 443.20,94.86 447.20,94.91C454.53,94.99 461.87,95.00 469.20,95.04C476.53,95.08 483.87,95.15 491.20,95.15C495.47,95.15 499.73,93.93 504.00,93.93C508.27,93.93 512.53,94.21 516.80,94.91M397.50,110.57C401.78,111.26 406.07,111.94 410.35,112.62C414.63,113.29 418.92,114.60 423.20,114.60C427.20,114.60 431.20,114.10 435.20,113.63C439.20,113.17 443.20,111.07 447.20,111.07C454.53,111.07 461.87,113.21 469.20,113.66C476.53,114.11 483.87,114.57 491.20,114.57C495.47,114.57 499.73,114.49 504.00,114.49C508.27,114.49 512.53,114.94 516.80,115.41M397.50,126.79C401.78,126.37 406.07,126.20 410.35,126.20C414.63,126.20 418.92,126.95 423.20,126.95C427.20,126.95 431.20,126.07 435.20,125.56C439.20,125.05 443.20,123.85 447.20,123.85C454.53,123.85 461.87,125.93 469.20,126.43C476.53,126.92 483.87,127.47 491.20,127.47C495.47,127.47 499.73,127.17 504.00,126.80C508.27,126.44 512.53,125.22 516.80,123.85M397.50,129.52C401.78,130.02 406.07,130.51 410.35,130.97C414.63,131.44 418.92,132.32 423.20,132.32C427.20,132.32 431.20,131.88 435.20,131.43C439.20,130.97 443.20,128.48 447.20,128.43C454.53,128.35 461.87,128.32 469.20,128.32C476.53,128.32 483.87,128.36 491.20,128.43C495.47,128.48 499.73,129.44 504.00,130.26C508.27,131.07 512.53,132.42 516.80,133.98M397.50,143.39C401.78,143.42 406.07,143.48 410.35,143.56C414.63,143.64 418.92,143.91 423.20,143.91C427.20,143.91 431.20,143.90 435.20,143.88C439.20,143.86 443.20,142.91 447.20,142.91C454.53,142.91 461.87,143.75 469.20,143.75C476.53,143.75 483.87,143.40 491.20,142.91C495.47,142.62 499.73,141.40 504.00,140.60C508.27,139.80 512.53,138.96 516.80,138.08M397.50,147.60C401.78,147.57 406.07,147.32 410.35,147.06C414.63,146.80 418.92,145.64 423.20,145.64C427.20,145.64 431.20,146.57 435.20,147.31C439.20,148.05 443.20,150.15 447.20,150.63C454.53,151.50 461.87,152.18 469.20,152.18C476.53,152.18 483.87,151.95 491.20,151.95C495.47,151.95 499.73,153.12 504.00,153.81C508.27,154.51 512.53,155.30 516.80,156.17M397.50,161.09C401.78,161.03 406.07,160.83 410.35,160.61C414.63,160.39 418.92,159.59 423.20,159.52C427.20,159.46 431.20,159.42 435.20,159.42C439.20,159.42 443.20,160.01 447.20,160.27C454.53,160.75 461.87,161.46 469.20,161.60C476.53,161.74 483.87,161.84 491.20,161.84C495.47,161.84 499.73,160.92 504.00,160.42C508.27,159.92 512.53,159.39 516.80,158.83M397.50,168.16C401.78,167.87 406.07,167.76 410.35,167.76C414.63,167.76 418.92,168.33 423.20,168.33C427.20,168.33 431.20,168.17 435.20,168.17C439.20,168.17 443.20,169.32 447.20,169.32C454.53,169.32 461.87,169.26 469.20,169.26C476.53,169.26 483.87,169.86 491.20,170.28C495.47,170.53 499.73,171.11 504.00,171.20C508.27,171.30 512.53,171.37 516.80,171.37M397.50,249.12C401.78,250.30 406.07,251.34 410.35,252.16C414.63,252.99 418.92,254.26 423.20,254.26C427.20,254.26 431.20,253.86 435.20,253.46C439.20,253.06 443.20,251.09 447.20,251.09C454.53,251.09 461.87,252.19 469.20,252.19C476.53,252.19 483.87,251.69 491.20,251.69C495.47,251.69 499.73,251.73 504.00,251.73C508.27,251.73 512.53,251.72 516.80,251.69M447.20,228.48C452.47,228.48 457.73,229.86 463.00,231.25C467.33,232.39 471.67,236.69 476.00,237.71C481.07,238.91 486.13,240.02 491.20,240.02C499.73,240.02 508.27,240.02 516.80,238.86M447.20,231.19C451.03,231.19 454.87,231.78 458.70,232.51C462.33,233.21 465.97,236.17 469.60,238.42C472.57,240.26 475.53,244.81 478.50,244.81C480.57,244.81 482.63,242.36 484.70,240.83C486.87,239.23 489.03,235.24 491.20,235.17C499.73,234.87 508.27,234.80 516.80,234.80M447.20,257.12C454.67,257.12 462.13,256.92 469.60,256.39C472.80,256.17 476.00,248.91 479.20,248.91C481.47,248.91 483.73,251.29 486.00,251.69C487.73,251.99 489.47,252.21 491.20,252.29C499.73,252.68 508.27,252.89 516.80,252.89M447.20,287.71C453.47,283.56 459.73,279.48 466.00,278.48C474.40,277.14 482.80,276.17 491.20,276.17C499.73,276.17 508.27,276.35 516.80,277.32M327.90,53.90C336.53,54.22 345.17,54.51 353.80,54.51C368.37,54.51 382.93,54.44 397.50,53.90M397.50,55.11C406.07,54.28 414.63,53.90 423.20,53.90C431.20,53.90 439.20,54.33 447.20,55.11M284.00,314.40C288.33,306.76 292.67,299.82 297.00,293.90C301.33,287.98 305.67,280.75 310.00,278.22C315.97,274.74 321.93,271.59 327.90,271.59C336.53,271.59 345.17,271.59 353.80,272.79M284.00,314.40C291.33,306.47 298.67,299.43 306.00,293.90C313.30,288.39 320.60,280.37 327.90,280.03C336.53,279.63 345.17,279.43 353.80,279.43M284.00,314.40C291.33,308.98 298.67,303.75 306.00,298.72C313.30,293.72 320.60,288.89 327.90,284.25M423.20,314.40C419.13,308.67 415.07,303.57 411.00,299.93C406.50,295.90 402.00,292.38 397.50,290.28M423.20,314.40C418.80,308.89 414.40,303.65 410.00,298.72C405.83,294.05 401.67,289.62 397.50,285.46M423.20,314.40C418.47,304.39 413.73,295.97 409.00,290.28C405.17,285.67 401.33,281.75 397.50,279.43M423.20,314.40C427.13,305.23 431.07,297.36 435.00,290.28C436.33,287.88 437.67,283.65 439.00,283.65C441.73,283.65 444.47,283.65 447.20,286.66M423.20,314.40C427.80,306.47 432.40,299.98 437.00,297.52C440.40,295.70 443.80,293.90 447.20,293.90M423.20,314.40C426.47,302.40 429.73,290.74 433.00,286.66C437.73,280.76 442.47,275.81 447.20,275.81M284.00,282.80C291.33,282.76 298.67,282.67 306.00,282.56C313.30,282.45 320.60,282.28 327.90,282.08M327.90,278.46C336.53,278.52 345.17,278.66 353.80,278.82C361.20,278.96 368.60,279.43 376.00,279.43C383.17,279.43 390.33,277.40 397.50,275.20M327.90,273.52C336.53,273.52 345.17,273.52 353.80,273.52C361.20,273.52 368.60,274.60 376.00,274.60C383.17,274.60 390.33,273.87 397.50,272.79M284.00,278.22C291.33,277.92 298.67,277.50 306.00,277.01C313.30,276.53 320.60,275.91 327.90,275.20M284.00,274.60C291.33,273.80 298.67,273.00 306.00,272.19C313.30,271.39 320.60,270.58 327.90,269.78M447.20,293.90C450.80,292.51 454.40,291.10 458.00,289.68C462.00,288.09 466.00,285.45 470.00,284.85C477.07,283.79 484.13,283.04 491.20,283.04C499.73,283.04 508.27,283.04 516.80,283.04M447.20,286.06C454.80,282.85 462.40,280.09 470.00,278.82C477.07,277.65 484.13,276.69 491.20,276.41C499.73,276.07 508.27,275.81 516.80,275.81" fill="none" stroke="#f7b483" stroke-width="1.0"/>
<path d="M284.00,64.23C291.32,65.27 298.63,66.08 305.95,66.08C313.27,66.08 320.58,65.39 327.90,65.39C332.22,65.39 336.53,66.35 340.85,66.35C345.17,66.35 349.48,65.72 353.80,65.39C361.08,64.83 368.37,63.66 375.65,63.66C382.93,63.66 390.22,64.81 397.50,66.54M284.00,76.93C291.32,77.36 298.63,77.58 305.95,77.58C313.27,77.58 320.58,76.93 327.90,76.93C332.22,76.93 336.53,77.83 340.85,77.83C345.17,77.83 349.48,77.09 353.80,76.93C361.08,76.66 368.37,76.67 375.65,76.40C382.93,76.13 390.22,75.42 397.50,74.62M284.00,130.77C291.32,132.41 298.63,133.52 305.95,133.52C313.27,133.52 320.58,131.93 327.90,131.93C332.22,131.93 336.53,132.45 340.85,132.45C345.17,132.45 349.48,130.77 353.80,130.77C361.08,130.77 368.37,131.31 375.65,131.31C382.93,131.31 390.22,130.55 397.50,129.62M284.00,171.92C291.32,172.08 298.63,172.26 305.95,172.45C313.27,172.64 320.58,173.08 327.90,173.08C332.22,173.08 336.53,172.04 340.85,172.04C345.17,172.04 349.48,172.72 353.80,173.08C361.08,173.68 368.37,174.98 375.65,174.98C382.93,174.98 390.22,174.34 397.50,173.08M284.00,176.54C291.32,177.37 298.63,177.78 305.95,177.78C313.27,177.78 320.58,176.54 327.90,176.54C332.22,176.54 336.53,178.09 340.85,178.09C345.17,178.09 349.48,176.54 353.80,176.54C361.08,176.54 368.37,177.17 375.65,177.17C382.93,177.17 390.22,176.38 397.50,175.39M284.00,192.70C291.32,192.88 298.63,192.97 305.95,192.97C313.27,192.97 320.58,192.87 327.90,192.70C332.22,192.60 336.53,191.64 340.85,191.64C345.17,191.64 349.48,192.45 353.80,192.70C361.08,193.12 368.37,193.63 375.65,193.63C382.93,193.63 390.22,192.74 397.50,191.54M284.00,198.47C291.32,196.91 298.63,196.13 305.95,196.13C313.27,196.13 320.58,198.47 327.90,198.47C332.22,198.47 336.53,196.01 340.85,196.01C345.17,196.01 349.48,196.95 353.80,197.31C361.08,197.92 368.37,198.82 375.65,198.82C382.93,198.82 390.22,198.82 397.50,198.47M284.00,224.48C291.32,225.48 298.63,225.64 305.95,225.64C313.27,225.64 320.58,223.12 327.90,223.12C332.22,223.12 336.53,224.85 340.85,224.85C345.17,224.85 349.48,224.56 353.80,224.40C361.08,224.13 368.37,223.49 375.65,223.49C382.93,223.49 390.22,223.68 397.50,224.18M284.00,239.28C291.32,240.22 298.63,240.28 305.95,240.28C313.27,240.28 320.58,238.63 327.90,237.65C332.22,237.08 336.53,235.75 340.85,235.75C345.17,235.75 349.48,237.60 353.80,238.01C361.08,238.69 368.37,239.34 375.65,239.34C382.93,239.34 390.22,238.50 397.50,237.22M284.00,255.83C291.32,255.85 298.63,256.08 305.95,256.33C313.27,256.57 320.58,257.13 327.90,257.71C332.22,258.06 336.53,259.06 340.85,259.06C345.17,259.06 349.48,256.99 353.80,256.99C361.08,256.99 368.37,257.08 375.65,257.08C382.93,257.08 390.22,256.65 397.50,256.19M284.00,263.07C291.32,261.61 298.63,260.57 305.95,260.57C313.27,260.57 320.58,261.86 327.90,261.86C332.22,261.86 336.53,260.31 340.85,260.31C345.17,260.31 349.48,263.05 353.80,263.10C361.08,263.19 368.37,263.23 375.65,263.23C382.93,263.23 390.22,262.75 397.50,262.23M284.00,113.52C287.03,114.32 290.06,115.47 293.09,115.47C304.69,115.47 316.30,115.47 327.90,114.90M284.00,175.08C289.51,179.31 295.01,184.04 300.52,184.47C309.65,185.18 318.77,185.53 327.90,185.53M284.00,64.80C289.30,60.20 294.60,54.78 299.89,54.60C309.23,54.29 318.56,54.17 327.90,54.17M284.00,187.79C289.26,190.07 294.53,192.48 299.79,193.08C309.16,194.15 318.53,194.87 327.90,194.87M284.00,138.37C289.57,135.33 295.15,132.27 300.72,131.25C309.78,129.60 318.84,128.28 327.90,128.28M397.50,84.13C401.78,82.70 406.07,81.43 410.35,80.94C414.63,80.44 418.92,79.96 423.20,79.96C427.20,79.96 431.20,81.07 435.20,81.76C439.20,82.46 443.20,84.10 447.20,84.26C454.53,84.54 461.87,84.69 469.20,84.69C476.53,84.69 483.87,84.10 491.20,83.65C495.47,83.40 499.73,82.64 504.00,82.64C508.27,82.64 512.53,82.98 516.80,83.65M397.50,97.33C401.78,97.92 406.07,98.18 410.35,98.18C414.63,98.18 418.92,97.18 423.20,97.18C427.20,97.18 431.20,97.61 435.20,97.94C439.20,98.26 443.20,99.02 447.20,99.33C454.53,99.90 461.87,100.54 469.20,100.54C476.53,100.54 483.87,100.28 491.20,99.94C495.47,99.74 499.73,98.52 504.00,98.52C508.27,98.52 512.53,98.52 516.80,98.73M397.50,195.21C401.78,194.10 406.07,193.11 410.35,192.81C414.63,192.52 418.92,192.27 423.20,192.27C427.20,192.27 431.20,192.65 435.20,192.70C439.20,192.75 443.20,192.80 447.20,192.80C454.53,192.80 461.87,192.21 469.20,192.21C476.53,192.21 483.87,193.40 491.20,193.40C495.47,193.40 499.73,192.89 504.00,192.89C508.27,192.89 512.53,193.06 516.80,193.40M397.50,195.08C401.78,195.23 406.07,195.38 410.35,195.39C414.63,195.40 418.92,195.40 423.20,195.40C427.20,195.40 431.20,193.72 435.20,193.72C439.20,193.72 443.20,193.96 447.20,194.00C454.53,194.09 461.87,194.07 469.20,194.16C476.53,194.25 483.87,194.85 491.20,195.21C495.47,195.42 499.73,195.86 504.00,195.86C508.27,195.86 512.53,195.34 516.80,194.61M397.50,199.38C401.78,199.04 406.07,198.73 410.35,198.62C414.63,198.52 418.92,198.42 423.20,198.42C427.20,198.42 431.20,198.59 435.20,198.59C439.20,198.59 443.20,197.02 447.20,197.02C454.53,197.02 461.87,197.91 469.20,197.91C476.53,197.91 483.87,196.78 491.20,196.78C495.47,196.78 499.73,197.45 504.00,197.45C508.27,197.45 512.53,197.45 516.80,197.26M397.50,218.04C401.78,217.51 406.07,216.92 410.35,216.27C414.63,215.62 418.92,214.61 423.20,214.12C427.20,213.66 431.20,213.06 435.20,213.06C439.20,213.06 443.20,213.90 447.20,213.90C454.53,213.90 461.87,213.11 469.20,213.11C476.53,213.11 483.87,213.66 491.20,213.90C495.47,214.04 499.73,214.31 504.00,214.31C508.27,214.31 512.53,214.17 516.80,213.90M397.50,93.32C401.80,93.32 406.10,93.07 410.40,92.69C414.67,92.32 418.93,87.34 423.20,87.34C427.20,87.34 431.20,88.26 435.20,89.00C439.20,89.74 443.20,90.96 447.20,92.38M397.50,240.92C401.80,241.16 406.10,242.38 410.40,243.70C414.67,245.01 418.93,250.55 423.20,250.55C427.20,250.55 431.20,248.32 435.20,248.32C439.20,248.32 443.20,248.61 447.20,249.65M397.50,186.04C401.80,187.42 406.10,188.94 410.40,190.56C414.67,192.17 418.93,194.78 423.20,195.79C427.20,196.73 431.20,197.06 435.20,197.79C439.20,198.52 443.20,199.34 447.20,200.23M397.50,77.94C401.80,80.38 406.10,82.56 410.40,84.33C414.67,86.09 418.93,88.84 423.20,88.84C427.20,88.84 431.20,87.56 435.20,86.86C439.20,86.16 443.20,85.41 447.20,84.62M397.50,131.44C401.80,129.76 406.10,127.90 410.40,125.90C414.67,123.92 418.93,119.42 423.20,119.42C427.20,119.42 431.20,123.63 435.20,125.42C439.20,127.22 443.20,128.87 447.20,130.31M397.50,68.82C401.80,68.82 406.10,69.03 410.40,69.35C414.67,69.67 418.93,73.81 423.20,73.81C427.20,73.81 431.20,71.26 435.20,69.84C439.20,68.42 443.20,66.88 447.20,65.24M397.50,70.88C401.80,72.50 406.10,73.92 410.40,74.95C414.67,75.97 418.93,77.41 423.20,77.41C427.20,77.41 431.20,75.07 435.20,73.52C439.20,71.97 443.20,69.98 447.20,67.73M397.50,273.40C401.80,272.02 406.10,271.69 410.40,271.69C414.67,271.69 418.93,274.79 423.20,274.79C427.20,274.79 431.20,274.38 435.20,273.89C439.20,273.40 443.20,271.69 447.20,269.79M397.50,276.84C401.80,279.53 406.10,281.97 410.40,282.55C414.67,283.12 418.93,283.15 423.20,283.57C427.20,283.96 431.20,284.42 435.20,285.05C439.20,285.67 443.20,286.56 447.20,287.59M397.50,210.33C401.80,213.35 406.10,215.96 410.40,217.58C414.67,219.18 418.93,221.20 423.20,221.20C427.20,221.20 431.20,219.89 435.20,219.89C439.20,219.89 443.20,220.90 447.20,222.35M397.50,266.99C401.80,265.53 406.10,264.10 410.40,262.70C414.67,261.31 418.93,258.81 423.20,258.62C427.20,258.44 431.20,258.33 435.20,258.33C439.20,258.33 443.20,258.96 447.20,259.68M397.50,196.30C401.80,194.90 406.10,194.15 410.40,194.15C414.67,194.15 418.93,196.06 423.20,196.06C427.20,196.06 431.20,193.35 435.20,192.35C439.20,191.36 443.20,190.49 447.20,189.87M327.90,283.85C336.53,285.71 345.17,287.47 353.80,287.47C361.20,287.47 368.60,287.47 376.00,287.47C380.00,287.47 384.00,288.73 388.00,289.28C391.17,289.71 394.33,290.11 397.50,290.48" fill="none" stroke="#2a6dab" stroke-width="0.95" stroke-dasharray="6,1.1,1.1,1.1" stroke-dashoffset="0.00"/>
<path d="M284.00,53.85C291.32,55.19 298.63,56.39 305.95,56.72C313.27,57.05 320.58,57.31 327.90,57.31C332.22,57.31 336.53,56.39 340.85,56.39C345.17,56.39 349.48,57.31 353.80,57.31C361.08,57.31 368.37,54.99 375.65,54.99C382.93,54.99 390.22,55.77 397.50,57.31M284.00,56.16C291.32,55.97 298.63,55.97 305.95,55.97C313.27,55.97 320.58,58.78 327.90,59.62C332.22,60.11 336.53,60.78 340.85,60.78C345.17,60.78 349.48,60.77 353.80,60.77C361.08,60.77 368.37,61.74 375.65,62.12C382.93,62.49 390.22,62.82 397.50,63.08M284.00,60.77C291.32,60.58 298.63,60.48 305.95,60.48C313.27,60.48 320.58,60.77 327.90,60.77C332.22,60.77 336.53,59.33 340.85,59.04C345.17,58.75 349.48,58.65 353.80,58.46C361.08,58.14 368.37,57.49 375.65,57.49C382.93,57.49 390.22,58.97 397.50,60.77M284.00,91.93C291.32,91.71 298.63,91.60 305.95,91.60C313.27,91.60 320.58,91.74 327.90,91.93C332.22,92.04 336.53,92.69 340.85,92.69C345.17,92.69 349.48,91.53 353.80,91.23C361.08,90.73 368.37,90.20 375.65,90.20C382.93,90.20 390.22,90.89 397.50,91.93M284.00,97.70C291.32,99.03 298.63,99.70 305.95,99.70C313.27,99.70 320.58,98.12 327.90,97.70C332.22,97.45 336.53,97.12 340.85,97.12C345.17,97.12 349.48,97.70 353.80,97.70C361.08,97.70 368.37,97.27 375.65,97.27C382.93,97.27 390.22,97.41 397.50,97.70M284.00,105.39C291.32,105.39 298.63,105.43 305.95,105.51C313.27,105.59 320.58,108.85 327.90,108.85C332.22,108.85 336.53,108.26 340.85,108.26C345.17,108.26 349.48,108.85 353.80,108.85C361.08,108.85 368.37,108.41 375.65,108.22C382.93,108.03 390.22,107.85 397.50,107.69M284.00,134.23C291.32,134.23 298.63,134.30 305.95,134.42C313.27,134.54 320.58,137.70 327.90,137.70C332.22,137.70 336.53,136.55 340.85,136.55C345.17,136.55 349.48,138.85 353.80,138.85C361.08,138.85 368.37,136.03 375.65,135.79C382.93,135.55 390.22,135.39 397.50,135.39M284.00,144.62C291.32,145.03 298.63,145.23 305.95,145.23C313.27,145.23 320.58,144.86 327.90,144.62C332.22,144.48 336.53,144.12 340.85,144.12C345.17,144.12 349.48,144.62 353.80,144.62C361.08,144.62 368.37,143.26 375.65,143.26C382.93,143.26 390.22,143.71 397.50,144.62M284.00,154.62C291.32,153.40 298.63,153.09 305.95,153.09C313.27,153.09 320.58,155.74 327.90,155.77C332.22,155.79 336.53,155.80 340.85,155.80C345.17,155.80 349.48,155.00 353.80,154.62C361.08,153.96 368.37,152.70 375.65,152.70C382.93,152.70 390.22,153.34 397.50,154.62M284.00,158.08C291.32,157.11 298.63,157.11 305.95,157.11C313.27,157.11 320.58,160.39 327.90,160.39C332.22,160.39 336.53,157.87 340.85,157.54C345.17,157.20 349.48,157.13 353.80,156.92C361.08,156.57 368.37,155.81 375.65,155.81C382.93,155.81 390.22,156.76 397.50,158.08M284.00,166.16C291.32,166.51 298.63,166.69 305.95,166.69C313.27,166.69 320.58,166.16 327.90,166.16C332.22,166.16 336.53,166.42 340.85,166.60C345.17,166.78 349.48,167.31 353.80,167.31C361.08,167.31 368.37,166.56 375.65,166.42C382.93,166.29 390.22,166.16 397.50,166.16M284.00,207.70C291.32,206.36 298.63,205.40 305.95,205.40C313.27,205.40 320.58,206.07 327.90,206.54C332.22,206.82 336.53,207.54 340.85,207.60C345.17,207.66 349.48,207.70 353.80,207.70C361.08,207.70 368.37,206.57 375.65,206.57C382.93,206.57 390.22,206.95 397.50,207.70M284.00,219.47C291.32,217.95 298.63,216.91 305.95,216.91C313.27,216.91 320.58,217.61 327.90,218.34C332.22,218.78 336.53,220.73 340.85,220.73C345.17,220.73 349.48,218.79 353.80,218.64C361.08,218.40 368.37,218.44 375.65,218.26C382.93,218.08 390.22,217.78 397.50,217.42M284.00,231.89C291.32,232.56 298.63,233.12 305.95,233.12C313.27,233.12 320.58,232.97 327.90,232.79C332.22,232.68 336.53,232.15 340.85,232.14C345.17,232.13 349.48,232.13 353.80,232.13C361.08,232.13 368.37,232.45 375.65,232.66C382.93,232.87 390.22,233.14 397.50,233.44M284.00,240.56C291.32,240.78 298.63,240.83 305.95,240.83C313.27,240.83 320.58,240.33 327.90,240.33C332.22,240.33 336.53,241.26 340.85,241.26C345.17,241.26 349.48,240.27 353.80,240.27C361.08,240.27 368.37,242.03 375.65,242.03C382.93,242.03 390.22,241.70 397.50,240.78M284.00,243.58C291.32,245.05 298.63,245.90 305.95,245.90C313.27,245.90 320.58,244.72 327.90,244.06C332.22,243.67 336.53,242.81 340.85,242.81C345.17,242.81 349.48,243.65 353.80,243.65C361.08,243.65 368.37,242.84 375.65,242.84C382.93,242.84 390.22,243.54 397.50,244.50M284.00,250.01C291.32,250.43 298.63,250.56 305.95,250.56C313.27,250.56 320.58,249.71 327.90,249.71C332.22,249.71 336.53,250.46 340.85,250.46C345.17,250.46 349.48,249.60 353.80,249.60C361.08,249.60 368.37,249.79 375.65,249.79C382.93,249.79 390.22,249.44 397.50,249.04M284.00,253.69C291.32,254.92 298.63,255.51 305.95,255.51C313.27,255.51 320.58,253.78 327.90,253.58C332.22,253.46 336.53,253.36 340.85,253.36C345.17,253.36 349.48,255.03 353.80,255.04C361.08,255.06 368.37,255.05 375.65,255.07C382.93,255.09 390.22,255.41 397.50,255.74M284.00,259.26C291.32,260.49 298.63,261.39 305.95,261.39C313.27,261.39 320.58,260.93 327.90,260.42C332.22,260.13 336.53,258.74 340.85,258.74C345.17,258.74 349.48,260.62 353.80,260.62C361.08,260.62 368.37,260.46 375.65,260.27C382.93,260.08 390.22,259.41 397.50,258.66M284.00,95.13C287.73,96.67 291.45,98.69 295.18,98.69C306.09,98.69 316.99,98.69 327.90,96.95M284.00,273.68C288.27,274.19 292.55,274.75 296.82,274.75C307.18,274.75 317.54,274.75 327.90,273.58M284.00,192.21C287.28,188.87 290.56,184.42 293.84,183.90C305.19,182.09 316.55,181.41 327.90,181.41M284.00,146.30C287.84,147.75 291.67,149.34 295.51,150.02C306.30,151.95 317.10,153.59 327.90,153.59M284.00,108.06C288.15,110.25 292.29,112.70 296.44,113.47C306.93,115.43 317.41,116.81 327.90,116.81M284.00,217.73C289.45,214.16 294.90,210.39 300.36,209.55C309.54,208.14 318.72,207.22 327.90,207.22M397.50,74.67C401.78,75.15 406.07,75.59 410.35,75.59C414.63,75.59 418.92,75.53 423.20,75.45C427.20,75.38 431.20,74.50 435.20,74.05C439.20,73.61 443.20,72.80 447.20,72.80C454.53,72.80 461.87,73.63 469.20,74.12C476.53,74.62 483.87,75.25 491.20,75.81C495.47,76.14 499.73,76.80 504.00,76.80C508.27,76.80 512.53,76.60 516.80,76.06M397.50,118.77C401.78,119.05 406.07,119.47 410.35,119.97C414.63,120.46 418.92,121.89 423.20,121.89C427.20,121.89 431.20,121.83 435.20,121.75C439.20,121.67 443.20,120.19 447.20,119.83C454.53,119.19 461.87,119.16 469.20,118.58C476.53,117.99 483.87,115.61 491.20,115.61C495.47,115.61 499.73,115.76 504.00,115.86C508.27,115.95 512.53,116.08 516.80,116.22M397.50,226.54C401.78,226.54 406.07,226.80 410.35,227.06C414.63,227.33 418.92,228.44 423.20,228.66C427.20,228.87 431.20,228.91 435.20,229.06C439.20,229.21 443.20,229.35 447.20,229.58C454.53,229.99 461.87,230.92 469.20,231.52C476.53,232.12 483.87,233.13 491.20,233.20C495.47,233.24 499.73,233.22 504.00,233.27C508.27,233.31 512.53,233.85 516.80,234.40M397.50,257.96C401.78,257.21 406.07,256.34 410.35,255.38C414.63,254.42 418.92,252.14 423.20,252.14C427.20,252.14 431.20,253.99 435.20,254.47C439.20,254.95 443.20,255.51 447.20,255.51C454.53,255.51 461.87,255.19 469.20,255.19C476.53,255.19 483.87,255.75 491.20,255.75C495.47,255.75 499.73,255.58 504.00,255.56C508.27,255.53 512.53,255.51 516.80,255.51M397.50,237.77C401.80,237.77 406.10,238.15 410.40,238.62C414.67,239.09 418.93,241.57 423.20,242.70C427.20,243.76 431.20,244.27 435.20,245.42C439.20,246.58 443.20,248.27 447.20,250.20M397.50,163.37C401.80,162.01 406.10,160.84 410.40,160.08C414.67,159.33 418.93,158.57 423.20,158.36C427.20,158.16 431.20,158.17 435.20,158.00C439.20,157.82 443.20,157.48 447.20,157.08M397.50,250.87C401.80,251.69 406.10,252.10 410.40,252.10C414.67,252.10 418.93,251.38 423.20,250.88C427.20,250.42 431.20,249.08 435.20,249.08C439.20,249.08 443.20,249.93 447.20,251.37M397.50,191.42C401.80,191.42 406.10,190.83 410.40,190.17C414.67,189.51 418.93,186.04 423.20,185.43C427.20,184.86 431.20,184.93 435.20,184.36C439.20,183.79 443.20,182.03 447.20,180.06M397.50,167.16C401.80,167.93 406.10,168.82 410.40,169.80C414.67,170.77 418.93,173.06 423.20,173.06C427.20,173.06 431.20,170.71 435.20,169.21C439.20,167.71 443.20,165.87 447.20,163.81M397.50,97.61C401.80,98.38 406.10,99.05 410.40,99.41C414.67,99.76 418.93,100.16 423.20,100.16C427.20,100.16 431.20,96.79 435.20,95.16C439.20,93.54 443.20,91.95 447.20,90.41M397.50,139.52C401.80,139.48 406.10,139.48 410.40,139.48C414.67,139.48 418.93,139.51 423.20,139.57C427.20,139.62 431.20,140.32 435.20,140.32C439.20,140.32 443.20,138.55 447.20,136.53M397.50,155.91C401.80,158.03 406.10,159.86 410.40,160.81C414.67,161.75 418.93,161.78 423.20,162.80C427.20,163.76 431.20,167.41 435.20,168.78C439.20,170.16 443.20,171.36 447.20,171.94M397.50,178.27C401.80,180.79 406.10,183.00 410.40,183.83C414.67,184.65 418.93,184.78 423.20,185.41C427.20,186.00 431.20,187.03 435.20,187.61C439.20,188.19 443.20,188.69 447.20,189.05M397.50,240.39C401.80,241.67 406.10,242.78 410.40,243.35C414.67,243.92 418.93,243.90 423.20,244.54C427.20,245.14 431.20,247.44 435.20,248.99C439.20,250.54 443.20,252.17 447.20,253.86M397.50,116.34C401.80,114.39 406.10,112.54 410.40,110.79C414.67,109.06 418.93,105.87 423.20,105.87C427.20,105.87 431.20,107.07 435.20,107.75C439.20,108.43 443.20,109.18 447.20,109.97M397.50,236.74C401.80,233.63 406.10,230.93 410.40,229.17C414.67,227.42 418.93,225.13 423.20,225.13C427.20,225.13 431.20,229.97 435.20,231.34C439.20,232.72 443.20,233.92 447.20,234.42M397.50,197.87C401.80,196.75 406.10,195.78 410.40,195.29C414.67,194.79 418.93,194.31 423.20,194.25C427.20,194.20 431.20,194.16 435.20,194.16C439.20,194.16 443.20,194.60 447.20,195.06" fill="none" stroke="#2a6dab" stroke-width="0.95" stroke-dasharray="6,1.1,1.1,1.1" stroke-dashoffset="1.55"/>
<path d="M284.00,107.69C291.32,107.69 298.63,108.23 305.95,108.78C313.27,109.33 320.58,112.31 327.90,112.31C332.22,112.31 336.53,111.11 340.85,111.11C345.17,111.11 349.48,112.31 353.80,112.31C361.08,112.31 368.37,111.80 375.65,111.80C382.93,111.80 390.22,113.70 397.50,115.77M284.00,129.62C291.32,128.36 298.63,127.74 305.95,127.74C313.27,127.74 320.58,128.96 327.90,129.62C332.22,130.01 336.53,130.83 340.85,130.83C345.17,130.83 349.48,129.10 353.80,128.46C361.08,127.39 368.37,125.86 375.65,125.86C382.93,125.86 390.22,126.15 397.50,127.31M284.00,151.54C291.32,152.07 298.63,152.07 305.95,152.07C313.27,152.07 320.58,150.72 327.90,150.39C332.22,150.19 336.53,149.96 340.85,149.96C345.17,149.96 349.48,150.39 353.80,150.39C361.08,150.39 368.37,149.50 375.65,149.50C382.93,149.50 390.22,150.38 397.50,151.54M284.00,196.16C291.32,194.51 298.63,193.39 305.95,193.39C313.27,193.39 320.58,194.46 327.90,195.00C332.22,195.33 336.53,195.99 340.85,195.99C345.17,195.99 349.48,195.25 353.80,195.00C361.08,194.58 368.37,194.01 375.65,194.01C382.93,194.01 390.22,194.34 397.50,195.00M284.00,200.77C291.32,202.02 298.63,202.93 305.95,202.93C313.27,202.93 320.58,201.93 327.90,201.93C332.22,201.93 336.53,202.02 340.85,202.02C345.17,202.02 349.48,200.77 353.80,200.77C361.08,200.77 368.37,202.21 375.65,202.21C382.93,202.21 390.22,202.21 397.50,201.93M284.00,252.31C291.32,253.35 298.63,253.57 305.95,253.57C313.27,253.57 320.58,251.09 327.90,251.09C332.22,251.09 336.53,252.77 340.85,252.77C345.17,252.77 349.48,252.23 353.80,252.23C361.08,252.23 368.37,253.96 375.65,253.96C382.93,253.96 390.22,253.18 397.50,251.82M284.00,257.31C291.32,256.63 298.63,256.18 305.95,256.18C313.27,256.18 320.58,256.50 327.90,256.85C332.22,257.05 336.53,258.04 340.85,258.04C345.17,258.04 349.48,257.57 353.80,257.31C361.08,256.86 368.37,255.80 375.65,255.80C382.93,255.80 390.22,256.53 397.50,257.77M284.00,263.31C291.32,263.44 298.63,263.50 305.95,263.50C313.27,263.50 320.58,263.31 327.90,263.31C332.22,263.31 336.53,265.02 340.85,265.02C345.17,265.02 349.48,263.77 353.80,263.77C361.08,263.77 368.37,263.95 375.65,264.09C382.93,264.23 390.22,264.44 397.50,264.69M284.00,269.77C291.32,269.64 298.63,269.64 305.95,269.64C313.27,269.64 320.58,270.07 327.90,270.69C332.22,271.06 336.53,273.78 340.85,273.78C345.17,273.78 349.48,272.54 353.80,272.54C361.08,272.54 368.37,274.25 375.65,274.60C382.93,274.95 390.22,275.30 397.50,275.31M284.00,76.59C289.13,75.12 294.26,73.65 299.40,72.99C308.90,71.78 318.40,70.64 327.90,70.64M284.00,272.99C288.35,272.04 292.69,270.87 297.04,270.87C307.32,270.87 317.61,270.87 327.90,271.83M284.00,190.38C289.55,187.81 295.10,185.29 300.65,184.28C309.73,182.63 318.82,181.18 327.90,181.18M284.00,210.24C289.41,211.24 294.81,212.24 300.22,212.24C309.45,212.24 318.67,212.24 327.90,210.98M284.00,230.04C288.07,229.08 292.13,227.82 296.20,227.82C306.76,227.82 317.33,227.82 327.90,228.29M284.00,229.46C288.72,226.52 293.44,223.13 298.15,222.59C308.07,221.47 317.98,220.89 327.90,220.89M284.00,108.97C289.82,110.84 295.63,112.76 301.45,113.19C310.27,113.85 319.08,114.28 327.90,114.28M284.00,125.77C289.93,120.89 295.86,115.51 301.80,115.22C310.50,114.79 319.20,114.59 327.90,114.59M284.00,174.90C287.41,170.28 290.82,163.69 294.23,163.63C305.45,163.43 316.68,163.39 327.90,163.39M397.50,61.51C401.78,62.51 406.07,63.40 410.35,63.72C414.63,64.04 418.92,64.34 423.20,64.34C427.20,64.34 431.20,64.33 435.20,64.31C439.20,64.29 443.20,62.38 447.20,61.95C454.53,61.15 461.87,60.76 469.20,60.39C476.53,60.03 483.87,59.96 491.20,59.53C495.47,59.29 499.73,58.27 504.00,58.27C508.27,58.27 512.53,58.39 516.80,58.93M397.50,178.22C401.78,178.08 406.07,177.71 410.35,177.29C414.63,176.86 418.92,175.50 423.20,175.30C427.20,175.11 431.20,174.96 435.20,174.96C439.20,174.96 443.20,176.79 447.20,176.88C454.53,177.04 461.87,177.11 469.20,177.11C476.53,177.12 483.87,177.12 491.20,177.12C495.47,177.12 499.73,176.97 504.00,176.87C508.27,176.77 512.53,176.65 516.80,176.52M397.50,199.70C401.78,200.03 406.07,200.77 410.35,201.61C414.63,202.45 418.92,205.36 423.20,205.36C427.20,205.36 431.20,204.26 435.20,203.59C439.20,202.92 443.20,201.24 447.20,201.24C454.53,201.24 461.87,201.50 469.20,201.60C476.53,201.70 483.87,201.84 491.20,201.84C495.47,201.84 499.73,200.90 504.00,200.90C508.27,200.90 512.53,201.21 516.80,201.84M397.50,214.89C401.78,213.15 406.07,211.55 410.35,210.13C414.63,208.71 418.92,206.29 423.20,206.29C427.20,206.29 431.20,209.16 435.20,209.89C439.20,210.63 443.20,211.44 447.20,211.49C454.53,211.59 461.87,211.63 469.20,211.63C476.53,211.63 483.87,211.58 491.20,211.49C495.47,211.44 499.73,210.88 504.00,210.88C508.27,210.88 512.53,211.08 516.80,211.49M397.50,224.64C401.78,224.59 406.07,224.51 410.35,224.42C414.63,224.32 418.92,224.26 423.20,224.04C427.20,223.84 431.20,222.04 435.20,221.73C439.20,221.42 443.20,221.21 447.20,221.14C454.53,221.01 461.87,220.94 469.20,220.92C476.53,220.91 483.87,220.90 491.20,220.90C495.47,220.90 499.73,221.24 504.00,221.24C508.27,221.24 512.53,220.94 516.80,220.53M397.50,224.28C401.78,225.18 406.07,225.96 410.35,226.50C414.63,227.03 418.92,227.75 423.20,227.75C427.20,227.75 431.20,225.51 435.20,225.17C439.20,224.82 443.20,224.51 447.20,224.51C454.53,224.51 461.87,225.52 469.20,225.52C476.53,225.52 483.87,224.99 491.20,224.76C495.47,224.62 499.73,224.47 504.00,224.38C508.27,224.28 512.53,224.20 516.80,224.15M397.50,259.85C401.78,260.85 406.07,261.78 410.35,261.78C414.63,261.78 418.92,261.68 423.20,261.56C427.20,261.45 431.20,260.56 435.20,260.56C439.20,260.56 443.20,260.94 447.20,260.94C454.53,260.94 461.87,259.77 469.20,259.77C476.53,259.77 483.87,260.33 491.20,260.33C495.47,260.33 499.73,260.16 504.00,260.06C508.27,259.96 512.53,259.85 516.80,259.73M397.50,260.59C401.78,261.26 406.07,261.93 410.35,261.93C414.63,261.93 418.92,261.93 423.20,261.94C427.20,261.94 431.20,262.04 435.20,262.18C439.20,262.32 443.20,263.95 447.20,263.95C454.53,263.95 461.87,262.48 469.20,262.48C476.53,262.48 483.87,263.28 491.20,263.35C495.47,263.39 499.73,263.42 504.00,263.42C508.27,263.42 512.53,263.09 516.80,262.75M397.50,68.75C401.80,68.75 406.10,68.35 410.40,67.91C414.67,67.46 418.93,64.73 423.20,64.73C427.20,64.73 431.20,67.56 435.20,68.51C439.20,69.47 443.20,70.30 447.20,70.83M397.50,175.10C401.80,175.10 406.10,174.99 410.40,174.82C414.67,174.65 418.93,172.65 423.20,172.65C427.20,172.65 431.20,175.37 435.20,177.19C439.20,179.00 443.20,181.36 447.20,184.02M397.50,144.11C401.80,144.31 406.10,144.31 410.40,144.31C414.67,144.31 418.93,141.99 423.20,140.68C427.20,139.45 431.20,137.36 435.20,136.65C439.20,135.93 443.20,135.25 447.20,135.19M397.50,252.11C401.80,251.09 406.10,251.04 410.40,251.04C414.67,251.04 418.93,252.52 423.20,253.87C427.20,255.13 431.20,258.65 435.20,260.35C439.20,262.05 443.20,263.54 447.20,264.57M397.50,212.22C401.80,209.64 406.10,207.21 410.40,206.89C414.67,206.58 418.93,206.63 423.20,206.38C427.20,206.14 431.20,205.74 435.20,205.02C439.20,204.30 443.20,202.12 447.20,199.68M284.00,44.58C291.33,46.43 298.67,48.20 306.00,49.89C313.30,51.57 320.60,54.40 327.90,54.71C336.53,55.08 345.17,55.31 353.80,55.31C361.20,55.31 368.60,53.74 376.00,52.30C380.00,51.52 384.00,49.92 388.00,48.68C391.17,47.70 394.33,45.67 397.50,45.67C402.00,45.67 406.50,46.03 411.00,46.03C415.07,46.03 419.13,45.67 423.20,45.67C431.20,45.67 439.20,46.65 447.20,47.47C454.80,48.25 462.40,49.36 470.00,51.09C474.00,52.00 478.00,54.32 482.00,55.31C485.07,56.08 488.13,57.06 491.20,57.12C499.73,57.30 508.27,57.36 516.80,57.36" fill="none" stroke="#2a6dab" stroke-width="0.95" stroke-dasharray="6,1.1,1.1,1.1" stroke-dashoffset="3.10"/>
<path d="M284.00,48.08C291.32,48.20 298.63,49.21 305.95,50.28C313.27,51.35 320.58,56.16 327.90,56.16C332.22,56.16 336.53,53.84 340.85,53.84C345.17,53.84 349.48,56.16 353.80,56.16C361.08,56.16 368.37,56.13 375.65,56.13C382.93,56.13 390.22,56.14 397.50,56.16M284.00,80.39C291.32,80.47 298.63,81.20 305.95,81.96C313.27,82.72 320.58,84.82 327.90,86.16C332.22,86.95 336.53,88.44 340.85,88.44C345.17,88.44 349.48,86.46 353.80,86.16C361.08,85.64 368.37,85.37 375.65,85.25C382.93,85.12 390.22,85.00 397.50,85.00M284.00,85.00C291.32,84.69 298.63,84.69 305.95,84.69C313.27,84.69 320.58,86.53 327.90,87.31C332.22,87.77 336.53,88.57 340.85,88.57C345.17,88.57 349.48,87.31 353.80,87.31C361.08,87.31 368.37,88.82 375.65,88.82C382.93,88.82 390.22,88.32 397.50,87.31M284.00,95.39C291.32,94.21 298.63,93.33 305.95,93.33C313.27,93.33 320.58,94.23 327.90,94.23C332.22,94.23 336.53,93.18 340.85,93.18C345.17,93.18 349.48,95.07 353.80,95.39C361.08,95.92 368.37,96.34 375.65,96.34C382.93,96.34 390.22,95.44 397.50,94.23M284.00,101.92C291.32,102.85 298.63,103.60 305.95,103.60C313.27,103.60 320.58,103.08 327.90,103.08C332.22,103.08 336.53,104.40 340.85,104.40C345.17,104.40 349.48,104.23 353.80,104.23C361.08,104.23 368.37,104.63 375.65,104.63C382.93,104.63 390.22,104.50 397.50,104.23M284.00,122.69C291.32,124.05 298.63,124.43 305.95,124.43C313.27,124.43 320.58,121.54 327.90,121.54C332.22,121.54 336.53,121.77 340.85,121.94C345.17,122.11 349.48,122.38 353.80,122.69C361.08,123.22 368.37,124.85 375.65,124.85C382.93,124.85 390.22,124.13 397.50,122.69M284.00,125.00C291.32,123.76 298.63,123.03 305.95,123.03C313.27,123.03 320.58,124.54 327.90,124.54C332.22,124.54 336.53,124.41 340.85,124.30C345.17,124.20 349.48,124.04 353.80,123.85C361.08,123.53 368.37,122.49 375.65,122.49C382.93,122.49 390.22,122.94 397.50,123.85M284.00,142.31C291.32,142.76 298.63,142.98 305.95,142.98C313.27,142.98 320.58,142.31 327.90,142.31C332.22,142.31 336.53,144.38 340.85,144.38C345.17,144.38 349.48,143.47 353.80,143.47C361.08,143.47 368.37,143.71 375.65,143.71C382.93,143.71 390.22,143.05 397.50,142.31M284.00,148.08C291.32,147.24 298.63,146.53 305.95,146.53C313.27,146.53 320.58,146.76 327.90,146.93C332.22,147.03 336.53,147.31 340.85,147.31C345.17,147.31 349.48,147.02 353.80,146.93C361.08,146.77 368.37,146.57 375.65,146.57C382.93,146.57 390.22,147.26 397.50,148.08M284.00,162.69C291.32,162.49 298.63,162.39 305.95,162.39C313.27,162.39 320.58,162.49 327.90,162.69C332.22,162.82 336.53,165.18 340.85,165.18C345.17,165.18 349.48,164.13 353.80,163.85C361.08,163.37 368.37,162.94 375.65,162.85C382.93,162.76 390.22,162.69 397.50,162.69M284.00,178.85C291.32,177.63 298.63,177.31 305.95,177.31C313.27,177.31 320.58,180.00 327.90,180.00C332.22,180.00 336.53,179.30 340.85,179.15C345.17,179.00 349.48,179.00 353.80,178.85C361.08,178.58 368.37,176.60 375.65,176.60C382.93,176.60 390.22,177.35 397.50,178.85M284.00,182.31C291.32,182.31 298.63,182.24 305.95,182.15C313.27,182.06 320.58,181.68 327.90,181.16C332.22,180.85 336.53,179.39 340.85,179.39C345.17,179.39 349.48,179.73 353.80,180.00C361.08,180.46 368.37,182.22 375.65,182.22C382.93,182.22 390.22,182.06 397.50,181.16M284.00,189.23C291.32,188.18 298.63,187.94 305.95,187.94C313.27,187.94 320.58,189.52 327.90,190.39C332.22,190.90 336.53,192.02 340.85,192.02C345.17,192.02 349.48,190.58 353.80,190.39C361.08,190.06 368.37,190.01 375.65,189.82C382.93,189.63 390.22,189.43 397.50,189.23M284.00,213.25C291.32,214.05 298.63,214.15 305.95,214.15C313.27,214.15 320.58,212.04 327.90,212.04C332.22,212.04 336.53,213.16 340.85,213.16C345.17,213.16 349.48,211.95 353.80,211.95C361.08,211.95 368.37,214.37 375.65,214.37C382.93,214.37 390.22,214.37 397.50,213.78M284.00,236.23C291.32,235.43 298.63,234.70 305.95,234.54C313.27,234.38 320.58,234.43 327.90,234.26C332.22,234.16 336.53,233.18 340.85,233.18C345.17,233.18 349.48,233.98 353.80,234.33C361.08,234.93 368.37,235.96 375.65,235.96C382.93,235.96 390.22,235.36 397.50,234.22M284.00,247.23C291.32,247.57 298.63,247.67 305.95,247.67C313.27,247.67 320.58,247.39 327.90,246.99C332.22,246.75 336.53,244.89 340.85,244.89C345.17,244.89 349.48,246.00 353.80,246.40C361.08,247.06 368.37,247.98 375.65,247.98C382.93,247.98 390.22,246.83 397.50,245.15M284.00,266.54C291.32,265.18 298.63,264.62 305.95,264.62C313.27,264.62 320.58,265.99 327.90,267.00C332.22,267.60 336.53,269.34 340.85,269.34C345.17,269.34 349.48,267.92 353.80,267.92C361.08,267.92 368.37,269.43 375.65,269.43C382.93,269.43 390.22,269.39 397.50,268.85M284.00,273.72C287.76,275.26 291.52,277.38 295.28,277.38C306.16,277.38 317.03,277.38 327.90,277.12M284.00,190.60C289.35,187.07 294.69,183.37 300.04,182.40C309.33,180.73 318.61,179.58 327.90,179.58M284.00,79.18C289.83,78.34 295.66,77.56 301.49,77.03C310.30,76.24 319.10,75.54 327.90,75.22M284.00,207.65C287.36,206.17 290.71,204.42 294.07,203.86C305.35,201.98 316.62,200.73 327.90,200.73M397.50,62.36C401.78,61.31 406.07,60.40 410.35,59.97C414.63,59.55 418.92,59.10 423.20,59.10C427.20,59.10 431.20,60.41 435.20,61.18C439.20,61.95 443.20,63.75 447.20,63.75C454.53,63.75 461.87,63.15 469.20,62.76C476.53,62.37 483.87,61.61 491.20,61.34C495.47,61.19 499.73,61.10 504.00,61.00C508.27,60.90 512.53,60.81 516.80,60.74M397.50,129.81C401.78,130.28 406.07,130.72 410.35,130.72C414.63,130.72 418.92,130.69 423.20,130.64C427.20,130.60 431.20,129.52 435.20,128.84C439.20,128.15 443.20,126.63 447.20,126.47C454.53,126.17 461.87,126.01 469.20,126.01C476.53,126.01 483.87,127.23 491.20,127.67C495.47,127.93 499.73,128.05 504.00,128.33C508.27,128.61 512.53,129.01 516.80,129.48M397.50,203.41C401.78,202.63 406.07,201.67 410.35,200.60C414.63,199.54 418.92,196.90 423.20,196.90C427.20,196.90 431.20,197.88 435.20,198.30C439.20,198.72 443.20,199.32 447.20,199.43C454.53,199.63 461.87,199.76 469.20,199.76C476.53,199.76 483.87,199.62 491.20,199.43C495.47,199.32 499.73,198.60 504.00,198.60C508.27,198.60 512.53,198.60 516.80,198.83M397.50,218.02C401.78,217.72 406.07,217.47 410.35,217.47C414.63,217.47 418.92,217.64 423.20,217.64C427.20,217.64 431.20,215.57 435.20,215.57C439.20,215.57 443.20,215.64 447.20,215.71C454.53,215.85 461.87,217.09 469.20,217.09C476.53,217.09 483.87,216.36 491.20,216.31C495.47,216.29 499.73,216.27 504.00,216.27C508.27,216.27 512.53,216.29 516.80,216.31M397.50,247.42C401.78,246.98 406.07,246.37 410.35,245.67C414.63,244.98 418.92,243.10 423.20,243.10C427.20,243.10 431.20,244.72 435.20,245.09C439.20,245.46 443.20,245.86 447.20,245.86C454.53,245.86 461.87,244.64 469.20,244.64C476.53,244.64 483.87,245.26 491.20,245.26C495.47,245.26 499.73,244.82 504.00,244.82C508.27,244.82 512.53,244.97 516.80,245.26M397.50,269.57C401.78,268.88 406.07,268.38 410.35,268.38C414.63,268.38 418.92,268.80 423.20,268.95C427.20,269.09 431.20,269.25 435.20,269.29C439.20,269.34 443.20,269.38 447.20,269.38C454.53,269.38 461.87,269.19 469.20,269.09C476.53,268.99 483.87,268.77 491.20,268.77C495.47,268.77 499.73,268.82 504.00,268.88C508.27,268.93 512.53,269.14 516.80,269.38M397.50,270.69C401.78,269.96 406.07,269.30 410.35,268.74C414.63,268.17 418.92,267.23 423.20,267.23C427.20,267.23 431.20,268.76 435.20,269.61C439.20,270.46 443.20,272.39 447.20,272.39C454.53,272.39 461.87,271.66 469.20,271.66C476.53,271.66 483.87,271.71 491.20,271.79C495.47,271.84 499.73,272.60 504.00,272.60C508.27,272.60 512.53,272.60 516.80,272.39M397.50,251.95C401.80,250.37 406.10,248.67 410.40,246.87C414.67,245.08 418.93,241.15 423.20,241.15C427.20,241.15 431.20,242.58 435.20,242.58C439.20,242.58 443.20,242.38 447.20,241.71M397.50,244.84C401.80,244.33 406.10,243.83 410.40,243.81C414.67,243.79 418.93,243.80 423.20,243.78C427.20,243.76 431.20,243.62 435.20,243.38C439.20,243.14 443.20,241.48 447.20,239.71M397.50,179.59C401.80,179.59 406.10,179.28 410.40,178.90C414.67,178.52 418.93,175.55 423.20,175.55C427.20,175.55 431.20,177.18 435.20,177.87C439.20,178.56 443.20,179.19 447.20,179.73M397.50,209.62C401.80,208.89 406.10,208.16 410.40,208.14C414.67,208.11 418.93,208.10 423.20,208.10C427.20,208.10 431.20,211.10 435.20,211.10C439.20,211.10 443.20,211.10 447.20,210.37M397.50,276.45C401.80,276.81 406.10,278.13 410.40,279.60C414.67,281.06 418.93,286.87 423.20,286.87C427.20,286.87 431.20,285.80 435.20,285.12C439.20,284.43 443.20,283.57 447.20,282.61M397.50,262.21C401.80,264.32 406.10,266.18 410.40,266.88C414.67,267.58 418.93,267.77 423.20,268.23C427.20,268.66 431.20,268.83 435.20,269.54C439.20,270.26 443.20,272.68 447.20,275.38M397.50,167.03C401.80,169.22 406.10,171.23 410.40,171.23C414.67,171.23 418.93,170.68 423.20,170.68C427.20,170.68 431.20,171.06 435.20,171.06C439.20,171.06 443.20,171.06 447.20,171.05M397.50,195.15C401.80,195.15 406.10,195.21 410.40,195.32C414.67,195.43 418.93,199.88 423.20,199.88C427.20,199.88 431.20,199.86 435.20,199.86C439.20,199.86 443.20,201.59 447.20,203.32" fill="none" stroke="#2a6dab" stroke-width="0.95" stroke-dasharray="6,1.1,1.1,1.1" stroke-dashoffset="4.65"/>
<path d="M284.00,70.00C291.32,70.48 298.63,70.71 305.95,70.71C313.27,70.71 320.58,70.40 327.90,70.00C332.22,69.77 336.53,68.43 340.85,68.43C345.17,68.43 349.48,68.72 353.80,68.85C361.08,69.06 368.37,69.11 375.65,69.43C382.93,69.75 390.22,70.97 397.50,72.31M284.00,88.47C291.32,88.86 298.63,89.20 305.95,89.34C313.27,89.48 320.58,89.62 327.90,89.62C332.22,89.62 336.53,87.90 340.85,87.90C345.17,87.90 349.48,89.20 353.80,89.62C361.08,90.32 368.37,91.21 375.65,91.21C382.93,91.21 390.22,90.68 397.50,89.62M284.00,136.54C291.32,137.15 298.63,137.74 305.95,138.32C313.27,138.90 320.58,139.20 327.90,140.00C332.22,140.48 336.53,142.23 340.85,142.23C345.17,142.23 349.48,141.16 353.80,141.16C361.08,141.16 368.37,142.07 375.65,142.07C382.93,142.07 390.22,140.61 397.50,138.85M284.00,204.23C291.32,203.59 298.63,203.26 305.95,203.26C313.27,203.26 320.58,203.76 327.90,204.23C332.22,204.52 336.53,205.65 340.85,205.65C345.17,205.65 349.48,204.38 353.80,204.23C361.08,204.00 368.37,203.85 375.65,203.85C382.93,203.85 390.22,203.98 397.50,204.23M284.00,214.84C291.32,213.71 298.63,213.22 305.95,213.22C313.27,213.22 320.58,214.37 327.90,215.13C332.22,215.57 336.53,216.73 340.85,216.73C345.17,216.73 349.48,216.57 353.80,216.53C361.08,216.47 368.37,216.48 375.65,216.40C382.93,216.33 390.22,215.95 397.50,215.53M284.00,230.17C291.32,229.60 298.63,229.32 305.95,229.32C313.27,229.32 320.58,230.16 327.90,230.16C332.22,230.16 336.53,229.27 340.85,229.27C345.17,229.27 349.48,229.86 353.80,229.86C361.08,229.86 368.37,228.77 375.65,228.77C382.93,228.77 390.22,229.52 397.50,230.63M284.00,260.08C291.32,259.65 298.63,259.43 305.95,259.43C313.27,259.43 320.58,259.69 327.90,260.08C332.22,260.31 336.53,262.20 340.85,262.20C345.17,262.20 349.48,260.84 353.80,260.54C361.08,260.03 368.37,259.53 375.65,259.53C382.93,259.53 390.22,260.10 397.50,261.00M284.00,268.85C288.66,265.64 293.32,261.64 297.98,261.64C307.95,261.64 317.93,261.64 327.90,262.42M284.00,270.23C286.73,266.17 289.45,259.98 292.18,259.98C304.09,259.98 315.99,259.98 327.90,260.33M397.50,84.75C401.78,86.28 406.07,87.62 410.35,88.26C414.63,88.91 418.92,89.52 423.20,89.60C427.20,89.68 431.20,89.73 435.20,89.73C439.20,89.73 443.20,88.48 447.20,88.48C454.53,88.48 461.87,89.95 469.20,89.95C476.53,89.95 483.87,89.20 491.20,89.20C495.47,89.20 499.73,89.64 504.00,89.64C508.27,89.64 512.53,89.50 516.80,89.20M397.50,210.66C401.78,210.81 406.07,210.82 410.35,210.82C414.63,210.82 418.92,210.64 423.20,210.44C427.20,210.26 431.20,209.60 435.20,209.19C439.20,208.78 443.20,207.99 447.20,207.99C454.53,207.99 461.87,208.35 469.20,208.40C476.53,208.44 483.87,208.47 491.20,208.47C495.47,208.47 499.73,207.86 504.00,207.86C508.27,207.86 512.53,207.86 516.80,207.87M397.50,270.22C401.78,269.24 406.07,268.33 410.35,268.15C414.63,267.97 418.92,267.84 423.20,267.84C427.20,267.84 431.20,268.26 435.20,268.26C439.20,268.26 443.20,266.97 447.20,266.97C454.53,266.97 461.87,267.10 469.20,267.10C476.53,267.10 483.87,266.36 491.20,266.36C495.47,266.36 499.73,266.73 504.00,266.73C508.27,266.73 512.53,266.61 516.80,266.36M397.50,117.84C401.80,120.13 406.10,122.11 410.40,123.26C414.67,124.39 418.93,125.04 423.20,125.74C427.20,126.40 431.20,127.08 435.20,127.46C439.20,127.83 443.20,128.16 447.20,128.29M397.50,195.64C401.80,194.14 406.10,192.65 410.40,191.15C414.67,189.67 418.93,188.13 423.20,186.70C427.20,185.37 431.20,183.74 435.20,182.85C439.20,181.96 443.20,181.18 447.20,180.80M397.50,212.64C401.80,214.67 406.10,216.48 410.40,217.06C414.67,217.63 418.93,218.13 423.20,218.13C427.20,218.13 431.20,216.82 435.20,215.56C439.20,214.30 443.20,211.58 447.20,208.46M397.50,153.42C401.80,152.79 406.10,151.32 410.40,149.65C414.67,147.99 418.93,142.19 423.20,142.19C427.20,142.19 431.20,145.06 435.20,145.27C439.20,145.48 443.20,145.62 447.20,145.62M397.50,270.61C401.80,269.01 406.10,268.12 410.40,268.12C414.67,268.12 418.93,269.24 423.20,270.17C427.20,271.04 431.20,274.07 435.20,274.17C439.20,274.27 443.20,274.32 447.20,274.32M397.50,152.25C401.80,152.86 406.10,153.67 410.40,154.59C414.67,155.50 418.93,157.91 423.20,157.91C427.20,157.91 431.20,154.96 435.20,153.97C439.20,152.98 443.20,152.12 447.20,151.59M397.50,209.75C401.80,211.50 406.10,213.26 410.40,215.02C414.67,216.77 418.93,220.29 423.20,220.29C427.20,220.29 431.20,219.51 435.20,218.67C439.20,217.84 443.20,215.66 447.20,213.19M397.50,154.55C401.80,155.32 406.10,155.32 410.40,155.32C414.67,155.32 418.93,151.83 423.20,151.83C427.20,151.83 431.20,151.84 435.20,151.85C439.20,151.87 443.20,152.16 447.20,152.45M397.50,116.85C401.80,117.82 406.10,119.45 410.40,121.33C414.67,123.20 418.93,128.87 423.20,128.87C427.20,128.87 431.20,128.66 435.20,128.38C439.20,128.10 443.20,126.80 447.20,125.38M397.50,105.98C401.80,106.68 406.10,107.59 410.40,108.62C414.67,109.64 418.93,112.30 423.20,112.30C427.20,112.30 431.20,111.76 435.20,111.14C439.20,110.52 443.20,108.54 447.20,106.33M397.50,260.01C401.80,259.79 406.10,258.59 410.40,257.30C414.67,256.01 418.93,250.58 423.20,250.58C427.20,250.58 431.20,252.45 435.20,253.92C439.20,255.39 443.20,257.74 447.20,260.44M397.50,252.24C401.80,250.89 406.10,249.62 410.40,249.44C414.67,249.25 418.93,249.12 423.20,249.12C427.20,249.12 431.20,251.62 435.20,252.98C439.20,254.33 443.20,255.76 447.20,257.27" fill="none" stroke="#2a6dab" stroke-width="0.95" stroke-dasharray="6,1.1,1.1,1.1" stroke-dashoffset="6.20"/>
<path d="M284.00,66.54C291.32,66.54 298.63,66.55 305.95,66.56C313.27,66.57 320.58,67.69 327.90,67.69C332.22,67.69 336.53,67.06 340.85,67.06C345.17,67.06 349.48,67.42 353.80,67.69C361.08,68.16 368.37,69.82 375.65,69.82C382.93,69.82 390.22,69.11 397.50,67.69M284.00,73.46C291.32,75.00 298.63,75.77 305.95,75.77C313.27,75.77 320.58,73.46 327.90,73.46C332.22,73.46 336.53,74.67 340.85,74.67C345.17,74.67 349.48,74.62 353.80,74.62C361.08,74.62 368.37,75.23 375.65,75.73C382.93,76.24 390.22,77.09 397.50,78.08M284.00,112.31C291.32,111.35 298.63,111.16 305.95,111.16C313.27,111.16 320.58,113.46 327.90,113.46C332.22,113.46 336.53,111.77 340.85,111.77C345.17,111.77 349.48,114.07 353.80,114.62C361.08,115.54 368.37,116.45 375.65,116.45C382.93,116.45 390.22,115.84 397.50,114.62M284.00,116.92C291.32,115.92 298.63,114.97 305.95,114.84C313.27,114.70 320.58,114.77 327.90,114.62C332.22,114.53 336.53,112.57 340.85,112.57C345.17,112.57 349.48,114.30 353.80,114.62C361.08,115.15 368.37,115.05 375.65,115.59C382.93,116.13 390.22,118.15 397.50,120.39M284.00,168.46C291.32,168.00 298.63,168.00 305.95,168.00C313.27,168.00 320.58,170.77 327.90,170.77C332.22,170.77 336.53,168.01 340.85,168.01C345.17,168.01 349.48,169.62 353.80,169.62C361.08,169.62 368.37,168.77 375.65,168.66C382.93,168.55 390.22,168.46 397.50,168.46M284.00,209.23C291.32,210.24 298.63,210.97 305.95,210.97C313.27,210.97 320.58,210.56 327.90,210.16C332.22,209.92 336.53,208.95 340.85,208.95C345.17,208.95 349.48,209.84 353.80,209.84C361.08,209.84 368.37,209.26 375.65,209.26C382.93,209.26 390.22,209.71 397.50,210.37M284.00,221.59C291.32,221.84 298.63,222.02 305.95,222.02C313.27,222.02 320.58,221.92 327.90,221.83C332.22,221.78 336.53,221.69 340.85,221.58C345.17,221.48 349.48,221.20 353.80,221.20C361.08,221.20 368.37,222.91 375.65,222.91C382.93,222.91 390.22,222.65 397.50,221.82M284.00,226.05C291.32,226.82 298.63,227.14 305.95,227.14C313.27,227.14 320.58,225.83 327.90,225.83C332.22,225.83 336.53,226.22 340.85,226.46C345.17,226.71 349.48,227.37 353.80,227.37C361.08,227.37 368.37,226.03 375.65,226.03C382.93,226.03 390.22,226.10 397.50,226.62M284.00,190.67C289.66,192.94 295.33,195.15 300.99,196.04C309.96,197.44 318.93,198.70 327.90,198.70M284.00,272.03C287.40,269.03 290.79,265.26 294.19,264.52C305.43,262.07 316.66,260.86 327.90,260.86M284.00,62.30C286.86,63.78 289.71,65.78 292.57,66.07C304.34,67.25 316.12,67.71 327.90,67.71M284.00,174.30C289.72,170.74 295.45,166.85 301.17,166.85C310.08,166.85 318.99,166.85 327.90,168.10M284.00,119.78C287.82,123.14 291.64,127.28 295.46,128.00C306.27,130.03 317.09,131.01 327.90,131.01M284.00,186.92C289.68,182.21 295.35,176.87 301.03,176.65C309.99,176.30 318.94,176.15 327.90,176.15M284.00,139.05C289.15,143.31 294.30,148.16 299.45,148.73C308.93,149.78 318.42,150.30 327.90,150.30M284.00,102.61C287.48,103.68 290.95,104.86 294.43,105.41C305.58,107.15 316.74,108.67 327.90,108.67M284.00,64.28C287.85,61.17 291.70,56.94 295.55,56.94C306.33,56.94 317.12,56.94 327.90,57.54M284.00,103.69C287.53,105.06 291.07,106.92 294.60,106.92C305.70,106.92 316.80,106.92 327.90,105.84M397.50,71.96C401.78,71.85 406.07,71.85 410.35,71.85C414.63,71.85 418.92,72.62 423.20,72.62C427.20,72.62 431.20,70.02 435.20,69.72C439.20,69.42 443.20,69.18 447.20,69.18C454.53,69.18 461.87,69.28 469.20,69.37C476.53,69.46 483.87,69.78 491.20,69.78C495.47,69.78 499.73,69.58 504.00,69.40C508.27,69.23 512.53,68.93 516.80,68.58M397.50,80.82C401.78,81.27 406.07,81.63 410.35,81.63C414.63,81.63 418.92,81.50 423.20,81.38C427.20,81.26 431.20,80.80 435.20,80.80C439.20,80.80 443.20,81.24 447.20,81.24C454.53,81.24 461.87,79.65 469.20,79.65C476.53,79.65 483.87,79.79 491.20,80.04C495.47,80.18 499.73,81.60 504.00,81.60C508.27,81.60 512.53,81.60 516.80,81.24M397.50,171.77C401.78,171.77 406.07,172.00 410.35,172.29C414.63,172.58 418.92,175.10 423.20,175.10C427.20,175.10 431.20,174.92 435.20,174.73C439.20,174.53 443.20,173.38 447.20,173.38C454.53,173.38 461.87,173.91 469.20,173.91C476.53,173.91 483.87,172.90 491.20,172.90C495.47,172.90 499.73,172.92 504.00,172.95C508.27,172.99 512.53,173.24 516.80,173.50M397.50,179.89C401.78,179.89 406.07,179.96 410.35,180.05C414.63,180.13 418.92,180.52 423.20,180.77C427.20,181.00 431.20,181.49 435.20,181.49C439.20,181.49 443.20,180.13 447.20,180.13C454.53,180.13 461.87,180.55 469.20,180.62C476.53,180.68 483.87,180.74 491.20,180.74C495.47,180.74 499.73,179.60 504.00,179.60C508.27,179.60 512.53,179.68 516.80,180.13M397.50,209.17C401.78,208.61 406.07,208.41 410.35,208.41C414.63,208.41 418.92,209.48 423.20,209.48C427.20,209.48 431.20,208.47 435.20,207.88C439.20,207.30 443.20,206.17 447.20,205.94C454.53,205.52 461.87,205.23 469.20,205.23C476.53,205.23 483.87,205.65 491.20,205.94C495.47,206.11 499.73,206.54 504.00,206.59C508.27,206.63 512.53,206.67 516.80,206.67M397.50,239.89C401.78,239.75 406.07,239.25 410.35,238.70C414.63,238.15 418.92,235.99 423.20,235.99C427.20,235.99 431.20,238.39 435.20,238.87C439.20,239.35 443.20,239.79 447.20,239.83C454.53,239.90 461.87,239.94 469.20,239.94C476.53,239.94 483.87,239.90 491.20,239.83C495.47,239.79 499.73,239.10 504.00,239.10C508.27,239.10 512.53,239.64 516.80,240.43M397.50,204.11C401.80,206.81 406.10,209.14 410.40,210.48C414.67,211.81 418.93,213.40 423.20,213.40C427.20,213.40 431.20,212.56 435.20,211.65C439.20,210.74 443.20,208.27 447.20,205.48M397.50,110.50C401.80,109.36 406.10,108.76 410.40,108.76C414.67,108.76 418.93,110.38 423.20,110.38C427.20,110.38 431.20,105.57 435.20,103.82C439.20,102.07 443.20,100.54 447.20,99.45M397.50,232.45C401.80,234.13 406.10,235.78 410.40,237.41C414.67,239.02 418.93,240.82 423.20,242.16C427.20,243.41 431.20,244.47 435.20,245.41C439.20,246.35 443.20,247.20 447.20,247.91M397.50,81.18C401.80,78.43 406.10,75.96 410.40,75.24C414.67,74.53 418.93,74.28 423.20,73.93C427.20,73.61 431.20,73.57 435.20,73.11C439.20,72.65 443.20,70.82 447.20,68.80M397.50,90.75C401.80,90.78 406.10,90.85 410.40,90.92C414.67,91.00 418.93,91.25 423.20,91.25C427.20,91.25 431.20,90.99 435.20,90.99C439.20,90.99 443.20,92.50 447.20,94.08M397.50,233.88C401.80,233.62 406.10,232.99 410.40,232.28C414.67,231.57 418.93,229.09 423.20,229.09C427.20,229.09 431.20,229.29 435.20,229.57C439.20,229.84 443.20,231.16 447.20,232.60M284.00,270.58C291.33,270.28 298.67,269.86 306.00,269.38C313.30,268.90 320.60,268.27 327.90,267.57" fill="none" stroke="#2a6dab" stroke-width="0.95" stroke-dasharray="6,1.1,1.1,1.1" stroke-dashoffset="7.75"/>
<path d="M284.00,314.00C291.33,306.07 298.67,299.03 306.00,293.50C313.30,287.99 320.60,279.97 327.90,279.63C336.53,279.23 345.17,279.03 353.80,279.03M423.20,314.00C427.13,304.83 431.07,296.96 435.00,289.88C436.33,287.48 437.67,283.25 439.00,283.25C441.73,283.25 444.47,283.25 447.20,286.26M284.00,282.40C291.33,282.36 298.67,282.27 306.00,282.16C313.30,282.05 320.60,281.88 327.90,281.68" fill="none" stroke="#3a5573" stroke-width="0.95" stroke-dasharray="6.5,1,1,1" stroke-dashoffset="0.00"/>
<path d="M397.50,98.43C401.78,98.06 406.07,97.62 410.35,97.13C414.63,96.63 418.92,95.94 423.20,95.40C427.20,94.90 431.20,93.99 435.20,93.99C439.20,93.99 443.20,94.46 447.20,94.51C454.53,94.59 461.87,94.60 469.20,94.64C476.53,94.68 483.87,94.75 491.20,94.75C495.47,94.75 499.73,93.53 504.00,93.53C508.27,93.53 512.53,93.81 516.80,94.51M447.20,287.31C453.47,283.16 459.73,279.08 466.00,278.08C474.40,276.74 482.80,275.77 491.20,275.77C499.73,275.77 508.27,275.95 516.80,276.92M397.50,54.71C406.07,53.88 414.63,53.50 423.20,53.50C431.20,53.50 439.20,53.93 447.20,54.71M284.00,314.00C288.33,306.36 292.67,299.42 297.00,293.50C301.33,287.58 305.67,280.35 310.00,277.82C315.97,274.34 321.93,271.19 327.90,271.19C336.53,271.19 345.17,271.19 353.80,272.39M327.90,278.06C336.53,278.12 345.17,278.26 353.80,278.42C361.20,278.56 368.60,279.03 376.00,279.03C383.17,279.03 390.33,277.00 397.50,274.81" fill="none" stroke="#3a5573" stroke-width="0.95" stroke-dasharray="6.5,1,1,1" stroke-dashoffset="1.58"/>
<path d="M397.50,129.12C401.78,129.62 406.07,130.11 410.35,130.57C414.63,131.04 418.92,131.92 423.20,131.92C427.20,131.92 431.20,131.48 435.20,131.03C439.20,130.57 443.20,128.08 447.20,128.03C454.53,127.95 461.87,127.92 469.20,127.92C476.53,127.92 483.87,127.96 491.20,128.03C495.47,128.08 499.73,129.04 504.00,129.86C508.27,130.67 512.53,132.02 516.80,133.58M327.90,53.50C336.53,53.82 345.17,54.11 353.80,54.11C368.37,54.11 382.93,54.04 397.50,53.50M284.00,314.00C291.33,308.58 298.67,303.35 306.00,298.32C313.30,293.32 320.60,288.49 327.90,283.85M423.20,314.00C418.80,308.49 414.40,303.25 410.00,298.32C405.83,293.65 401.67,289.22 397.50,285.06M423.20,314.00C418.47,303.99 413.73,295.57 409.00,289.88C405.17,285.27 401.33,281.35 397.50,279.03M284.00,277.82C291.33,277.52 298.67,277.10 306.00,276.61C313.30,276.13 320.60,275.51 327.90,274.81M284.00,274.20C291.33,273.40 298.67,272.60 306.00,271.79C313.30,270.99 320.60,270.18 327.90,269.38M447.20,293.50C450.80,292.11 454.40,290.70 458.00,289.28C462.00,287.69 466.00,285.05 470.00,284.45C477.07,283.39 484.13,282.64 491.20,282.64C499.73,282.64 508.27,282.64 516.80,282.64" fill="none" stroke="#3a5573" stroke-width="0.95" stroke-dasharray="6.5,1,1,1" stroke-dashoffset="3.17"/>
<path d="M397.50,147.20C401.78,147.17 406.07,146.92 410.35,146.66C414.63,146.40 418.92,145.24 423.20,145.24C427.20,145.24 431.20,146.17 435.20,146.91C439.20,147.65 443.20,149.75 447.20,150.23C454.53,151.10 461.87,151.78 469.20,151.78C476.53,151.78 483.87,151.55 491.20,151.55C495.47,151.55 499.73,152.72 504.00,153.41C508.27,154.11 512.53,154.90 516.80,155.77M447.20,230.79C451.03,230.79 454.87,231.38 458.70,232.11C462.33,232.81 465.97,235.77 469.60,238.02C472.57,239.86 475.53,244.41 478.50,244.41C480.57,244.41 482.63,241.96 484.70,240.43C486.87,238.83 489.03,234.84 491.20,234.77C499.73,234.47 508.27,234.40 516.80,234.40M423.20,314.00C427.80,306.07 432.40,299.58 437.00,297.12C440.40,295.30 443.80,293.50 447.20,293.50M423.20,314.00C426.47,302.00 429.73,290.34 433.00,286.26C437.73,280.36 442.47,275.41 447.20,275.41M447.20,285.66C454.80,282.45 462.40,279.69 470.00,278.42C477.07,277.25 484.13,276.29 491.20,276.01C499.73,275.67 508.27,275.41 516.80,275.41" fill="none" stroke="#3a5573" stroke-width="0.95" stroke-dasharray="6.5,1,1,1" stroke-dashoffset="4.75"/>
<path d="M397.50,126.39C401.78,125.97 406.07,125.80 410.35,125.80C414.63,125.80 418.92,126.55 423.20,126.55C427.20,126.55 431.20,125.67 435.20,125.16C439.20,124.65 443.20,123.45 447.20,123.45C454.53,123.45 461.87,125.53 469.20,126.03C476.53,126.52 483.87,127.07 491.20,127.07C495.47,127.07 499.73,126.77 504.00,126.40C508.27,126.04 512.53,124.82 516.80,123.45M397.50,160.69C401.78,160.63 406.07,160.43 410.35,160.21C414.63,159.99 418.92,159.19 423.20,159.12C427.20,159.06 431.20,159.02 435.20,159.02C439.20,159.02 443.20,159.61 447.20,159.87C454.53,160.35 461.87,161.06 469.20,161.20C476.53,161.34 483.87,161.44 491.20,161.44C495.47,161.44 499.73,160.52 504.00,160.02C508.27,159.52 512.53,158.99 516.80,158.43M397.50,167.76C401.78,167.47 406.07,167.36 410.35,167.36C414.63,167.36 418.92,167.93 423.20,167.93C427.20,167.93 431.20,167.77 435.20,167.77C439.20,167.77 443.20,168.92 447.20,168.92C454.53,168.92 461.87,168.86 469.20,168.86C476.53,168.86 483.87,169.46 491.20,169.88C495.47,170.13 499.73,170.71 504.00,170.80C508.27,170.90 512.53,170.97 516.80,170.97M423.20,314.00C419.13,308.27 415.07,303.17 411.00,299.53C406.50,295.50 402.00,291.98 397.50,289.88M327.90,273.12C336.53,273.12 345.17,273.12 353.80,273.12C361.20,273.12 368.60,274.20 376.00,274.20C383.17,274.20 390.33,273.47 397.50,272.39" fill="none" stroke="#3a5573" stroke-width="0.95" stroke-dasharray="6.5,1,1,1" stroke-dashoffset="6.33"/>
<path d="M397.50,56.84C401.78,56.84 406.07,56.97 410.35,57.13C414.63,57.29 418.92,58.66 423.20,58.66C427.20,58.66 431.20,56.57 435.20,55.99C439.20,55.41 443.20,54.72 447.20,54.71C454.53,54.69 461.87,54.69 469.20,54.69C476.53,54.69 483.87,54.71 491.20,54.71C495.47,54.71 499.73,54.15 504.00,54.15C508.27,54.15 512.53,54.58 516.80,55.19M397.50,110.17C401.78,110.86 406.07,111.54 410.35,112.22C414.63,112.89 418.92,114.20 423.20,114.20C427.20,114.20 431.20,113.70 435.20,113.23C439.20,112.77 443.20,110.67 447.20,110.67C454.53,110.67 461.87,112.81 469.20,113.26C476.53,113.71 483.87,114.17 491.20,114.17C495.47,114.17 499.73,114.09 504.00,114.09C508.27,114.09 512.53,114.54 516.80,115.01M397.50,142.99C401.78,143.02 406.07,143.08 410.35,143.16C414.63,143.24 418.92,143.51 423.20,143.51C427.20,143.51 431.20,143.50 435.20,143.48C439.20,143.46 443.20,142.51 447.20,142.51C454.53,142.51 461.87,143.35 469.20,143.35C476.53,143.35 483.87,143.00 491.20,142.51C495.47,142.22 499.73,141.00 504.00,140.20C508.27,139.40 512.53,138.56 516.80,137.68M397.50,248.72C401.78,249.90 406.07,250.94 410.35,251.76C414.63,252.59 418.92,253.86 423.20,253.86C427.20,253.86 431.20,253.46 435.20,253.06C439.20,252.66 443.20,250.69 447.20,250.69C454.53,250.69 461.87,251.79 469.20,251.79C476.53,251.79 483.87,251.29 491.20,251.29C495.47,251.29 499.73,251.33 504.00,251.33C508.27,251.33 512.53,251.32 516.80,251.29M447.20,228.08C452.47,228.08 457.73,229.46 463.00,230.85C467.33,231.99 471.67,236.29 476.00,237.31C481.07,238.51 486.13,239.62 491.20,239.62C499.73,239.62 508.27,239.62 516.80,238.46M447.20,256.72C454.67,256.72 462.13,256.52 469.60,255.99C472.80,255.77 476.00,248.51 479.20,248.51C481.47,248.51 483.73,250.89 486.00,251.29C487.73,251.59 489.47,251.81 491.20,251.89C499.73,252.28 508.27,252.49 516.80,252.49" fill="none" stroke="#3a5573" stroke-width="0.95" stroke-dasharray="6.5,1,1,1" stroke-dashoffset="7.92"/></g>
<rect x="284.0" y="12.5" width="232.79999999999995" height="303.8" fill="none" stroke="#111" stroke-width="1.1"/>
<line x1="280.6" y1="314.0" x2="284.0" y2="314.0" stroke="#111" stroke-width="1.0"/>
<text x="279.2" y="317.3" text-anchor="end" font-size="9.0" fill="#000">0</text>
<line x1="280.6" y1="253.7" x2="284.0" y2="253.7" stroke="#111" stroke-width="1.0"/>
<text x="279.2" y="257.0" text-anchor="end" font-size="9.0" fill="#000">5</text>
<line x1="280.6" y1="193.4" x2="284.0" y2="193.4" stroke="#111" stroke-width="1.0"/>
<text x="279.2" y="196.70000000000002" text-anchor="end" font-size="9.0" fill="#000">10</text>
<line x1="280.6" y1="133.1" x2="284.0" y2="133.1" stroke="#111" stroke-width="1.0"/>
<text x="279.2" y="136.4" text-anchor="end" font-size="9.0" fill="#000">15</text>
<line x1="280.6" y1="72.80000000000001" x2="284.0" y2="72.80000000000001" stroke="#111" stroke-width="1.0"/>
<text x="279.2" y="76.10000000000001" text-anchor="end" font-size="9.0" fill="#000">20</text>
<line x1="280.6" y1="12.5" x2="284.0" y2="12.5" stroke="#111" stroke-width="1.0"/>
<text x="279.2" y="15.8" text-anchor="end" font-size="9.0" fill="#000">25</text>
<line x1="284.0" y1="316.3" x2="284.0" y2="319.7" stroke="#111" stroke-width="1.0"/>
<text x="284.0" y="327.6" text-anchor="middle" font-size="9.0"  fill="#000">Γ</text>
<line x1="327.9" y1="316.3" x2="327.9" y2="319.7" stroke="#111" stroke-width="1.0"/>
<text x="327.9" y="327.6" text-anchor="middle" font-size="9.0" font-style="italic" fill="#000">X</text>
<line x1="353.8" y1="316.3" x2="353.8" y2="319.7" stroke="#111" stroke-width="1.0"/>
<text x="353.8" y="327.6" text-anchor="middle" font-size="9.0" font-style="italic" fill="#000">S</text>
<line x1="397.5" y1="316.3" x2="397.5" y2="319.7" stroke="#111" stroke-width="1.0"/>
<text x="397.5" y="327.6" text-anchor="middle" font-size="9.0" font-style="italic" fill="#000">Y</text>
<line x1="423.2" y1="316.3" x2="423.2" y2="319.7" stroke="#111" stroke-width="1.0"/>
<text x="423.2" y="327.6" text-anchor="middle" font-size="9.0"  fill="#000">Γ</text>
<line x1="447.2" y1="316.3" x2="447.2" y2="319.7" stroke="#111" stroke-width="1.0"/>
<text x="447.2" y="327.6" text-anchor="middle" font-size="9.0" font-style="italic" fill="#000">Z</text>
<line x1="491.2" y1="316.3" x2="491.2" y2="319.7" stroke="#111" stroke-width="1.0"/>
<text x="491.2" y="327.6" text-anchor="middle" font-size="9.0" font-style="italic" fill="#000">U</text>
<line x1="516.8" y1="316.3" x2="516.8" y2="319.7" stroke="#111" stroke-width="1.0"/>
<text x="516.8" y="327.6" text-anchor="middle" font-size="9.0" font-style="italic" fill="#000">R</text>
<text x="400.4" y="9.5" text-anchor="middle" font-size="10.5" fill="#000">(b) <tspan font-style="italic">κ</tspan>-Ga<tspan font-size="7.35" dy="2.2">2</tspan><tspan dy="-2.2">O</tspan><tspan font-size="7.35" dy="2.2">3</tspan></text>
<rect x="460.79999999999995" y="15.5" width="53" height="30" rx="2" fill="#fff" fill-opacity="0.7"/>
<line x1="465.59999999999997" y1="23.9" x2="484.79999999999995" y2="23.9" stroke="#f6ad78" stroke-width="1.2"/>
<line x1="465.59999999999997" y1="36.7" x2="484.79999999999995" y2="36.7" stroke="#5f93c4" stroke-width="1.0" stroke-dasharray="5,2,1,2"/>
<text x="491.9" y="28.2" font-size="8.6" fill="#000">NEP</text>
<text x="491.9" y="40.0" font-size="8.6" fill="#000">DFT</text>
</g>
<text transform="translate(8.3,164) rotate(-90)" text-anchor="middle" font-size="9.0" fill="#000">Frequency (THz)</text>
</g>
</svg>
</body></html>
